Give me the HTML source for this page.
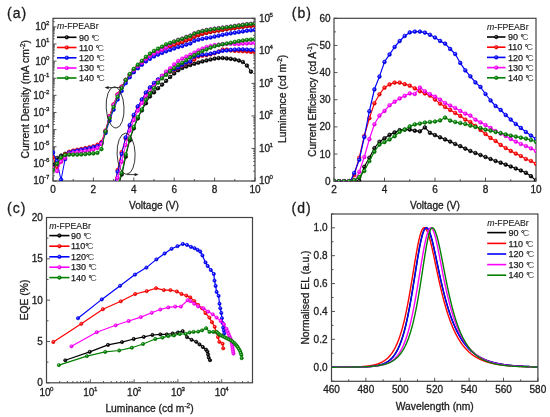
<!DOCTYPE html>
<html><head><meta charset="utf-8"><title>figure</title>
<style>html,body{margin:0;padding:0;background:#fff;} svg{display:block;filter:blur(0.3px);} text{font-family:"Liberation Sans", sans-serif; stroke:#222; stroke-width:0.3px;}</style>
</head><body>
<svg width="550" height="417" viewBox="0 0 550 417" font-family='"Liberation Sans", sans-serif' fill="#1a1a1a">
<defs><radialGradient id="l000000" cx="0.45" cy="0.42" r="0.6"><stop offset="0" stop-color="#ffffff"/><stop offset="0.35" stop-color="rgb(153,153,153)"/><stop offset="0.8" stop-color="#000000"/></radialGradient><radialGradient id="g000000" cx="0.4" cy="0.38" r="0.6"><stop offset="0" stop-color="rgb(153,153,153)"/><stop offset="0.55" stop-color="#000000"/><stop offset="1" stop-color="rgb(0,0,0)"/></radialGradient><radialGradient id="lff0000" cx="0.45" cy="0.42" r="0.6"><stop offset="0" stop-color="#ffffff"/><stop offset="0.35" stop-color="rgb(255,153,153)"/><stop offset="0.8" stop-color="#ff0000"/></radialGradient><radialGradient id="gff0000" cx="0.4" cy="0.38" r="0.6"><stop offset="0" stop-color="rgb(255,153,153)"/><stop offset="0.55" stop-color="#ff0000"/><stop offset="1" stop-color="rgb(140,0,0)"/></radialGradient><radialGradient id="l0000ff" cx="0.45" cy="0.42" r="0.6"><stop offset="0" stop-color="#ffffff"/><stop offset="0.35" stop-color="rgb(153,153,255)"/><stop offset="0.8" stop-color="#0000ff"/></radialGradient><radialGradient id="g0000ff" cx="0.4" cy="0.38" r="0.6"><stop offset="0" stop-color="rgb(153,153,255)"/><stop offset="0.55" stop-color="#0000ff"/><stop offset="1" stop-color="rgb(0,0,140)"/></radialGradient><radialGradient id="lff00ff" cx="0.45" cy="0.42" r="0.6"><stop offset="0" stop-color="#ffffff"/><stop offset="0.35" stop-color="rgb(255,153,255)"/><stop offset="0.8" stop-color="#ff00ff"/></radialGradient><radialGradient id="gff00ff" cx="0.4" cy="0.38" r="0.6"><stop offset="0" stop-color="rgb(255,153,255)"/><stop offset="0.55" stop-color="#ff00ff"/><stop offset="1" stop-color="rgb(140,0,140)"/></radialGradient><radialGradient id="l008000" cx="0.45" cy="0.42" r="0.6"><stop offset="0" stop-color="#ffffff"/><stop offset="0.35" stop-color="rgb(153,204,153)"/><stop offset="0.8" stop-color="#008000"/></radialGradient><radialGradient id="g008000" cx="0.4" cy="0.38" r="0.6"><stop offset="0" stop-color="rgb(153,204,153)"/><stop offset="0.55" stop-color="#008000"/><stop offset="1" stop-color="rgb(0,70,0)"/></radialGradient></defs>
<rect width="550" height="417" fill="#ffffff"/>
<text x="7.00" y="18.20" font-size="14" text-anchor="start" letter-spacing="1">(a)</text>
<clipPath id="ca"><rect x="53" y="18.3" width="202" height="162.7"/></clipPath>
<line x1="53.00" y1="181.00" x2="53.00" y2="177.50" stroke="#444444" stroke-width="0.9"/>
<text x="53.00" y="192.60" font-size="10" text-anchor="middle" >0</text>
<line x1="73.20" y1="181.00" x2="73.20" y2="179.00" stroke="#444444" stroke-width="0.9"/>
<line x1="93.40" y1="181.00" x2="93.40" y2="177.50" stroke="#444444" stroke-width="0.9"/>
<text x="93.40" y="192.60" font-size="10" text-anchor="middle" >2</text>
<line x1="113.60" y1="181.00" x2="113.60" y2="179.00" stroke="#444444" stroke-width="0.9"/>
<line x1="133.80" y1="181.00" x2="133.80" y2="177.50" stroke="#444444" stroke-width="0.9"/>
<text x="133.80" y="192.60" font-size="10" text-anchor="middle" >4</text>
<line x1="154.00" y1="181.00" x2="154.00" y2="179.00" stroke="#444444" stroke-width="0.9"/>
<line x1="174.20" y1="181.00" x2="174.20" y2="177.50" stroke="#444444" stroke-width="0.9"/>
<text x="174.20" y="192.60" font-size="10" text-anchor="middle" >6</text>
<line x1="194.40" y1="181.00" x2="194.40" y2="179.00" stroke="#444444" stroke-width="0.9"/>
<line x1="214.60" y1="181.00" x2="214.60" y2="177.50" stroke="#444444" stroke-width="0.9"/>
<text x="214.60" y="192.60" font-size="10" text-anchor="middle" >8</text>
<line x1="234.80" y1="181.00" x2="234.80" y2="179.00" stroke="#444444" stroke-width="0.9"/>
<line x1="255.00" y1="181.00" x2="255.00" y2="177.50" stroke="#444444" stroke-width="0.9"/>
<text x="255.00" y="192.60" font-size="10" text-anchor="middle" >10</text>
<line x1="53.00" y1="181.00" x2="56.50" y2="181.00" stroke="#444444" stroke-width="0.9"/>
<text x="33.26" y="184.40" font-size="10" text-anchor="start" >10</text>
<text x="43.88" y="179.40" font-size="6.1" text-anchor="start" >-7</text>
<line x1="53.00" y1="175.84" x2="54.80" y2="175.84" stroke="#444444" stroke-width="0.9"/>
<line x1="53.00" y1="172.83" x2="54.80" y2="172.83" stroke="#444444" stroke-width="0.9"/>
<line x1="53.00" y1="170.69" x2="54.80" y2="170.69" stroke="#444444" stroke-width="0.9"/>
<line x1="53.00" y1="169.03" x2="54.80" y2="169.03" stroke="#444444" stroke-width="0.9"/>
<line x1="53.00" y1="167.67" x2="54.80" y2="167.67" stroke="#444444" stroke-width="0.9"/>
<line x1="53.00" y1="166.53" x2="54.80" y2="166.53" stroke="#444444" stroke-width="0.9"/>
<line x1="53.00" y1="165.53" x2="54.80" y2="165.53" stroke="#444444" stroke-width="0.9"/>
<line x1="53.00" y1="164.66" x2="54.80" y2="164.66" stroke="#444444" stroke-width="0.9"/>
<line x1="53.00" y1="163.87" x2="56.50" y2="163.87" stroke="#444444" stroke-width="0.9"/>
<text x="33.26" y="167.27" font-size="10" text-anchor="start" >10</text>
<text x="43.88" y="162.27" font-size="6.1" text-anchor="start" >-6</text>
<line x1="53.00" y1="158.72" x2="54.80" y2="158.72" stroke="#444444" stroke-width="0.9"/>
<line x1="53.00" y1="155.70" x2="54.80" y2="155.70" stroke="#444444" stroke-width="0.9"/>
<line x1="53.00" y1="153.56" x2="54.80" y2="153.56" stroke="#444444" stroke-width="0.9"/>
<line x1="53.00" y1="151.90" x2="54.80" y2="151.90" stroke="#444444" stroke-width="0.9"/>
<line x1="53.00" y1="150.55" x2="54.80" y2="150.55" stroke="#444444" stroke-width="0.9"/>
<line x1="53.00" y1="149.40" x2="54.80" y2="149.40" stroke="#444444" stroke-width="0.9"/>
<line x1="53.00" y1="148.41" x2="54.80" y2="148.41" stroke="#444444" stroke-width="0.9"/>
<line x1="53.00" y1="147.53" x2="54.80" y2="147.53" stroke="#444444" stroke-width="0.9"/>
<line x1="53.00" y1="146.75" x2="56.50" y2="146.75" stroke="#444444" stroke-width="0.9"/>
<text x="33.26" y="150.15" font-size="10" text-anchor="start" >10</text>
<text x="43.88" y="145.15" font-size="6.1" text-anchor="start" >-5</text>
<line x1="53.00" y1="141.59" x2="54.80" y2="141.59" stroke="#444444" stroke-width="0.9"/>
<line x1="53.00" y1="138.58" x2="54.80" y2="138.58" stroke="#444444" stroke-width="0.9"/>
<line x1="53.00" y1="136.44" x2="54.80" y2="136.44" stroke="#444444" stroke-width="0.9"/>
<line x1="53.00" y1="134.78" x2="54.80" y2="134.78" stroke="#444444" stroke-width="0.9"/>
<line x1="53.00" y1="133.42" x2="54.80" y2="133.42" stroke="#444444" stroke-width="0.9"/>
<line x1="53.00" y1="132.27" x2="54.80" y2="132.27" stroke="#444444" stroke-width="0.9"/>
<line x1="53.00" y1="131.28" x2="54.80" y2="131.28" stroke="#444444" stroke-width="0.9"/>
<line x1="53.00" y1="130.40" x2="54.80" y2="130.40" stroke="#444444" stroke-width="0.9"/>
<line x1="53.00" y1="129.62" x2="56.50" y2="129.62" stroke="#444444" stroke-width="0.9"/>
<text x="33.26" y="133.02" font-size="10" text-anchor="start" >10</text>
<text x="43.88" y="128.02" font-size="6.1" text-anchor="start" >-4</text>
<line x1="53.00" y1="124.47" x2="54.80" y2="124.47" stroke="#444444" stroke-width="0.9"/>
<line x1="53.00" y1="121.45" x2="54.80" y2="121.45" stroke="#444444" stroke-width="0.9"/>
<line x1="53.00" y1="119.31" x2="54.80" y2="119.31" stroke="#444444" stroke-width="0.9"/>
<line x1="53.00" y1="117.65" x2="54.80" y2="117.65" stroke="#444444" stroke-width="0.9"/>
<line x1="53.00" y1="116.29" x2="54.80" y2="116.29" stroke="#444444" stroke-width="0.9"/>
<line x1="53.00" y1="115.15" x2="54.80" y2="115.15" stroke="#444444" stroke-width="0.9"/>
<line x1="53.00" y1="114.15" x2="54.80" y2="114.15" stroke="#444444" stroke-width="0.9"/>
<line x1="53.00" y1="113.28" x2="54.80" y2="113.28" stroke="#444444" stroke-width="0.9"/>
<line x1="53.00" y1="112.49" x2="56.50" y2="112.49" stroke="#444444" stroke-width="0.9"/>
<text x="33.26" y="115.89" font-size="10" text-anchor="start" >10</text>
<text x="43.88" y="110.89" font-size="6.1" text-anchor="start" >-3</text>
<line x1="53.00" y1="107.34" x2="54.80" y2="107.34" stroke="#444444" stroke-width="0.9"/>
<line x1="53.00" y1="104.32" x2="54.80" y2="104.32" stroke="#444444" stroke-width="0.9"/>
<line x1="53.00" y1="102.18" x2="54.80" y2="102.18" stroke="#444444" stroke-width="0.9"/>
<line x1="53.00" y1="100.52" x2="54.80" y2="100.52" stroke="#444444" stroke-width="0.9"/>
<line x1="53.00" y1="99.17" x2="54.80" y2="99.17" stroke="#444444" stroke-width="0.9"/>
<line x1="53.00" y1="98.02" x2="54.80" y2="98.02" stroke="#444444" stroke-width="0.9"/>
<line x1="53.00" y1="97.03" x2="54.80" y2="97.03" stroke="#444444" stroke-width="0.9"/>
<line x1="53.00" y1="96.15" x2="54.80" y2="96.15" stroke="#444444" stroke-width="0.9"/>
<line x1="53.00" y1="95.37" x2="56.50" y2="95.37" stroke="#444444" stroke-width="0.9"/>
<text x="33.26" y="98.77" font-size="10" text-anchor="start" >10</text>
<text x="43.88" y="93.77" font-size="6.1" text-anchor="start" >-2</text>
<line x1="53.00" y1="90.21" x2="54.80" y2="90.21" stroke="#444444" stroke-width="0.9"/>
<line x1="53.00" y1="87.20" x2="54.80" y2="87.20" stroke="#444444" stroke-width="0.9"/>
<line x1="53.00" y1="85.06" x2="54.80" y2="85.06" stroke="#444444" stroke-width="0.9"/>
<line x1="53.00" y1="83.40" x2="54.80" y2="83.40" stroke="#444444" stroke-width="0.9"/>
<line x1="53.00" y1="82.04" x2="54.80" y2="82.04" stroke="#444444" stroke-width="0.9"/>
<line x1="53.00" y1="80.90" x2="54.80" y2="80.90" stroke="#444444" stroke-width="0.9"/>
<line x1="53.00" y1="79.90" x2="54.80" y2="79.90" stroke="#444444" stroke-width="0.9"/>
<line x1="53.00" y1="79.03" x2="54.80" y2="79.03" stroke="#444444" stroke-width="0.9"/>
<line x1="53.00" y1="78.24" x2="56.50" y2="78.24" stroke="#444444" stroke-width="0.9"/>
<text x="33.26" y="81.64" font-size="10" text-anchor="start" >10</text>
<text x="43.88" y="76.64" font-size="6.1" text-anchor="start" >-1</text>
<line x1="53.00" y1="73.09" x2="54.80" y2="73.09" stroke="#444444" stroke-width="0.9"/>
<line x1="53.00" y1="70.07" x2="54.80" y2="70.07" stroke="#444444" stroke-width="0.9"/>
<line x1="53.00" y1="67.93" x2="54.80" y2="67.93" stroke="#444444" stroke-width="0.9"/>
<line x1="53.00" y1="66.27" x2="54.80" y2="66.27" stroke="#444444" stroke-width="0.9"/>
<line x1="53.00" y1="64.92" x2="54.80" y2="64.92" stroke="#444444" stroke-width="0.9"/>
<line x1="53.00" y1="63.77" x2="54.80" y2="63.77" stroke="#444444" stroke-width="0.9"/>
<line x1="53.00" y1="62.78" x2="54.80" y2="62.78" stroke="#444444" stroke-width="0.9"/>
<line x1="53.00" y1="61.90" x2="54.80" y2="61.90" stroke="#444444" stroke-width="0.9"/>
<line x1="53.00" y1="61.12" x2="56.50" y2="61.12" stroke="#444444" stroke-width="0.9"/>
<text x="35.29" y="64.52" font-size="10" text-anchor="start" >10</text>
<text x="45.91" y="59.52" font-size="6.1" text-anchor="start" >0</text>
<line x1="53.00" y1="55.96" x2="54.80" y2="55.96" stroke="#444444" stroke-width="0.9"/>
<line x1="53.00" y1="52.94" x2="54.80" y2="52.94" stroke="#444444" stroke-width="0.9"/>
<line x1="53.00" y1="50.80" x2="54.80" y2="50.80" stroke="#444444" stroke-width="0.9"/>
<line x1="53.00" y1="49.15" x2="54.80" y2="49.15" stroke="#444444" stroke-width="0.9"/>
<line x1="53.00" y1="47.79" x2="54.80" y2="47.79" stroke="#444444" stroke-width="0.9"/>
<line x1="53.00" y1="46.64" x2="54.80" y2="46.64" stroke="#444444" stroke-width="0.9"/>
<line x1="53.00" y1="45.65" x2="54.80" y2="45.65" stroke="#444444" stroke-width="0.9"/>
<line x1="53.00" y1="44.77" x2="54.80" y2="44.77" stroke="#444444" stroke-width="0.9"/>
<line x1="53.00" y1="43.99" x2="56.50" y2="43.99" stroke="#444444" stroke-width="0.9"/>
<text x="35.29" y="47.39" font-size="10" text-anchor="start" >10</text>
<text x="45.91" y="42.39" font-size="6.1" text-anchor="start" >1</text>
<line x1="53.00" y1="38.83" x2="54.80" y2="38.83" stroke="#444444" stroke-width="0.9"/>
<line x1="53.00" y1="35.82" x2="54.80" y2="35.82" stroke="#444444" stroke-width="0.9"/>
<line x1="53.00" y1="33.68" x2="54.80" y2="33.68" stroke="#444444" stroke-width="0.9"/>
<line x1="53.00" y1="32.02" x2="54.80" y2="32.02" stroke="#444444" stroke-width="0.9"/>
<line x1="53.00" y1="30.66" x2="54.80" y2="30.66" stroke="#444444" stroke-width="0.9"/>
<line x1="53.00" y1="29.52" x2="54.80" y2="29.52" stroke="#444444" stroke-width="0.9"/>
<line x1="53.00" y1="28.52" x2="54.80" y2="28.52" stroke="#444444" stroke-width="0.9"/>
<line x1="53.00" y1="27.65" x2="54.80" y2="27.65" stroke="#444444" stroke-width="0.9"/>
<line x1="53.00" y1="26.86" x2="56.50" y2="26.86" stroke="#444444" stroke-width="0.9"/>
<text x="35.29" y="30.26" font-size="10" text-anchor="start" >10</text>
<text x="45.91" y="25.26" font-size="6.1" text-anchor="start" >2</text>
<line x1="53.00" y1="21.71" x2="54.80" y2="21.71" stroke="#444444" stroke-width="0.9"/>
<line x1="53.00" y1="18.69" x2="54.80" y2="18.69" stroke="#444444" stroke-width="0.9"/>
<line x1="255.00" y1="181.00" x2="251.50" y2="181.00" stroke="#444444" stroke-width="0.9"/>
<text x="259.00" y="184.40" font-size="10" text-anchor="start" >10</text>
<text x="269.62" y="179.40" font-size="6.1" text-anchor="start" >0</text>
<line x1="255.00" y1="171.20" x2="253.20" y2="171.20" stroke="#444444" stroke-width="0.9"/>
<line x1="255.00" y1="165.47" x2="253.20" y2="165.47" stroke="#444444" stroke-width="0.9"/>
<line x1="255.00" y1="161.41" x2="253.20" y2="161.41" stroke="#444444" stroke-width="0.9"/>
<line x1="255.00" y1="158.26" x2="253.20" y2="158.26" stroke="#444444" stroke-width="0.9"/>
<line x1="255.00" y1="155.68" x2="253.20" y2="155.68" stroke="#444444" stroke-width="0.9"/>
<line x1="255.00" y1="153.50" x2="253.20" y2="153.50" stroke="#444444" stroke-width="0.9"/>
<line x1="255.00" y1="151.61" x2="253.20" y2="151.61" stroke="#444444" stroke-width="0.9"/>
<line x1="255.00" y1="149.95" x2="253.20" y2="149.95" stroke="#444444" stroke-width="0.9"/>
<line x1="255.00" y1="148.46" x2="251.50" y2="148.46" stroke="#444444" stroke-width="0.9"/>
<text x="259.00" y="151.86" font-size="10" text-anchor="start" >10</text>
<text x="269.62" y="146.86" font-size="6.1" text-anchor="start" >1</text>
<line x1="255.00" y1="138.66" x2="253.20" y2="138.66" stroke="#444444" stroke-width="0.9"/>
<line x1="255.00" y1="132.93" x2="253.20" y2="132.93" stroke="#444444" stroke-width="0.9"/>
<line x1="255.00" y1="128.87" x2="253.20" y2="128.87" stroke="#444444" stroke-width="0.9"/>
<line x1="255.00" y1="125.72" x2="253.20" y2="125.72" stroke="#444444" stroke-width="0.9"/>
<line x1="255.00" y1="123.14" x2="253.20" y2="123.14" stroke="#444444" stroke-width="0.9"/>
<line x1="255.00" y1="120.96" x2="253.20" y2="120.96" stroke="#444444" stroke-width="0.9"/>
<line x1="255.00" y1="119.07" x2="253.20" y2="119.07" stroke="#444444" stroke-width="0.9"/>
<line x1="255.00" y1="117.41" x2="253.20" y2="117.41" stroke="#444444" stroke-width="0.9"/>
<line x1="255.00" y1="115.92" x2="251.50" y2="115.92" stroke="#444444" stroke-width="0.9"/>
<text x="259.00" y="119.32" font-size="10" text-anchor="start" >10</text>
<text x="269.62" y="114.32" font-size="6.1" text-anchor="start" >2</text>
<line x1="255.00" y1="106.12" x2="253.20" y2="106.12" stroke="#444444" stroke-width="0.9"/>
<line x1="255.00" y1="100.39" x2="253.20" y2="100.39" stroke="#444444" stroke-width="0.9"/>
<line x1="255.00" y1="96.33" x2="253.20" y2="96.33" stroke="#444444" stroke-width="0.9"/>
<line x1="255.00" y1="93.18" x2="253.20" y2="93.18" stroke="#444444" stroke-width="0.9"/>
<line x1="255.00" y1="90.60" x2="253.20" y2="90.60" stroke="#444444" stroke-width="0.9"/>
<line x1="255.00" y1="88.42" x2="253.20" y2="88.42" stroke="#444444" stroke-width="0.9"/>
<line x1="255.00" y1="86.53" x2="253.20" y2="86.53" stroke="#444444" stroke-width="0.9"/>
<line x1="255.00" y1="84.87" x2="253.20" y2="84.87" stroke="#444444" stroke-width="0.9"/>
<line x1="255.00" y1="83.38" x2="251.50" y2="83.38" stroke="#444444" stroke-width="0.9"/>
<text x="259.00" y="86.78" font-size="10" text-anchor="start" >10</text>
<text x="269.62" y="81.78" font-size="6.1" text-anchor="start" >3</text>
<line x1="255.00" y1="73.58" x2="253.20" y2="73.58" stroke="#444444" stroke-width="0.9"/>
<line x1="255.00" y1="67.85" x2="253.20" y2="67.85" stroke="#444444" stroke-width="0.9"/>
<line x1="255.00" y1="63.79" x2="253.20" y2="63.79" stroke="#444444" stroke-width="0.9"/>
<line x1="255.00" y1="60.64" x2="253.20" y2="60.64" stroke="#444444" stroke-width="0.9"/>
<line x1="255.00" y1="58.06" x2="253.20" y2="58.06" stroke="#444444" stroke-width="0.9"/>
<line x1="255.00" y1="55.88" x2="253.20" y2="55.88" stroke="#444444" stroke-width="0.9"/>
<line x1="255.00" y1="53.99" x2="253.20" y2="53.99" stroke="#444444" stroke-width="0.9"/>
<line x1="255.00" y1="52.33" x2="253.20" y2="52.33" stroke="#444444" stroke-width="0.9"/>
<line x1="255.00" y1="50.84" x2="251.50" y2="50.84" stroke="#444444" stroke-width="0.9"/>
<text x="259.00" y="54.24" font-size="10" text-anchor="start" >10</text>
<text x="269.62" y="49.24" font-size="6.1" text-anchor="start" >4</text>
<line x1="255.00" y1="41.04" x2="253.20" y2="41.04" stroke="#444444" stroke-width="0.9"/>
<line x1="255.00" y1="35.31" x2="253.20" y2="35.31" stroke="#444444" stroke-width="0.9"/>
<line x1="255.00" y1="31.25" x2="253.20" y2="31.25" stroke="#444444" stroke-width="0.9"/>
<line x1="255.00" y1="28.10" x2="253.20" y2="28.10" stroke="#444444" stroke-width="0.9"/>
<line x1="255.00" y1="25.52" x2="253.20" y2="25.52" stroke="#444444" stroke-width="0.9"/>
<line x1="255.00" y1="23.34" x2="253.20" y2="23.34" stroke="#444444" stroke-width="0.9"/>
<line x1="255.00" y1="21.45" x2="253.20" y2="21.45" stroke="#444444" stroke-width="0.9"/>
<line x1="255.00" y1="19.79" x2="253.20" y2="19.79" stroke="#444444" stroke-width="0.9"/>
<line x1="255.00" y1="18.30" x2="251.50" y2="18.30" stroke="#444444" stroke-width="0.9"/>
<text x="259.00" y="21.70" font-size="10" text-anchor="start" >10</text>
<text x="269.62" y="16.70" font-size="6.1" text-anchor="start" >5</text>
<rect x="53" y="18.3" width="202" height="162.7" fill="none" stroke="#444444" stroke-width="1.2"/>
<text x="154.00" y="209.00" font-size="10.1" text-anchor="middle" >Voltage (V)</text>
<text transform="translate(28.8,99.3) rotate(-90)" font-size="10.3" text-anchor="middle">Current Density (mA cm<tspan font-size="6.5" dy="-4">-2</tspan><tspan dy="4">)</tspan></text>
<text transform="translate(285.6,98.8) rotate(-90)" font-size="10.3" text-anchor="middle">Luminance (cd m<tspan font-size="6.5" dy="-4">-2</tspan><tspan dy="4">)</tspan></text>
<g clip-path="url(#ca)">
<polyline points="53.00,165.00 57.00,158.00 61.00,155.60 65.10,153.80 69.10,152.40 73.10,151.20 77.20,150.30 81.20,149.80 85.20,149.00 89.30,148.20 93.30,147.40 97.30,146.00 101.30,143.20 105.50,131.50 109.50,116.50 113.50,104.90 117.60,94.60 121.60,86.90 125.60,80.10 129.70,74.93 133.80,70.12 137.80,66.36 141.90,62.78 145.90,58.94 150.00,55.80 154.00,53.44 158.00,51.48 162.10,49.61 166.10,47.50 170.20,46.30 174.20,44.86 178.20,43.32 182.30,42.08 186.30,40.34 190.40,38.98 194.40,36.62 198.40,35.06 202.50,33.70 206.50,32.72 210.60,31.86 214.60,31.12 218.60,30.48 222.70,29.74 226.70,29.12 230.80,28.40 234.80,27.82 238.80,27.24 242.90,26.65 246.90,26.07 251.00,25.78 255.00,25.40" fill="none" stroke="#000000" stroke-width="1.0" stroke-linejoin="round"/>
<circle cx="53.00" cy="165.00" r="1.85" fill="url(#g000000)" stroke="#000000" stroke-width="0.6"/>
<circle cx="57.04" cy="157.98" r="1.85" fill="url(#g000000)" stroke="#000000" stroke-width="0.6"/>
<circle cx="61.08" cy="155.56" r="1.85" fill="url(#g000000)" stroke="#000000" stroke-width="0.6"/>
<circle cx="65.12" cy="153.79" r="1.85" fill="url(#g000000)" stroke="#000000" stroke-width="0.6"/>
<circle cx="69.16" cy="152.38" r="1.85" fill="url(#g000000)" stroke="#000000" stroke-width="0.6"/>
<circle cx="73.20" cy="151.18" r="1.85" fill="url(#g000000)" stroke="#000000" stroke-width="0.6"/>
<circle cx="77.24" cy="150.30" r="1.85" fill="url(#g000000)" stroke="#000000" stroke-width="0.6"/>
<circle cx="81.28" cy="149.78" r="1.85" fill="url(#g000000)" stroke="#000000" stroke-width="0.6"/>
<circle cx="85.32" cy="148.98" r="1.85" fill="url(#g000000)" stroke="#000000" stroke-width="0.6"/>
<circle cx="89.36" cy="148.19" r="1.85" fill="url(#g000000)" stroke="#000000" stroke-width="0.6"/>
<circle cx="93.40" cy="147.37" r="1.85" fill="url(#g000000)" stroke="#000000" stroke-width="0.6"/>
<circle cx="97.44" cy="145.90" r="1.85" fill="url(#g000000)" stroke="#000000" stroke-width="0.6"/>
<circle cx="101.48" cy="142.70" r="1.85" fill="url(#g000000)" stroke="#000000" stroke-width="0.6"/>
<circle cx="105.52" cy="131.42" r="1.85" fill="url(#g000000)" stroke="#000000" stroke-width="0.6"/>
<circle cx="109.56" cy="116.33" r="1.85" fill="url(#g000000)" stroke="#000000" stroke-width="0.6"/>
<circle cx="113.60" cy="104.65" r="1.85" fill="url(#g000000)" stroke="#000000" stroke-width="0.6"/>
<circle cx="117.64" cy="94.52" r="1.85" fill="url(#g000000)" stroke="#000000" stroke-width="0.6"/>
<circle cx="121.68" cy="86.76" r="1.85" fill="url(#g000000)" stroke="#000000" stroke-width="0.6"/>
<circle cx="125.72" cy="79.95" r="1.85" fill="url(#g000000)" stroke="#000000" stroke-width="0.6"/>
<circle cx="129.76" cy="74.86" r="1.85" fill="url(#g000000)" stroke="#000000" stroke-width="0.6"/>
<circle cx="133.80" cy="70.12" r="1.85" fill="url(#g000000)" stroke="#000000" stroke-width="0.6"/>
<circle cx="137.84" cy="66.32" r="1.85" fill="url(#g000000)" stroke="#000000" stroke-width="0.6"/>
<circle cx="141.88" cy="62.79" r="1.85" fill="url(#g000000)" stroke="#000000" stroke-width="0.6"/>
<circle cx="145.92" cy="58.92" r="1.85" fill="url(#g000000)" stroke="#000000" stroke-width="0.6"/>
<circle cx="149.96" cy="55.83" r="1.85" fill="url(#g000000)" stroke="#000000" stroke-width="0.6"/>
<circle cx="154.00" cy="53.44" r="1.85" fill="url(#g000000)" stroke="#000000" stroke-width="0.6"/>
<circle cx="158.04" cy="51.46" r="1.85" fill="url(#g000000)" stroke="#000000" stroke-width="0.6"/>
<circle cx="162.08" cy="49.61" r="1.85" fill="url(#g000000)" stroke="#000000" stroke-width="0.6"/>
<circle cx="166.12" cy="47.50" r="1.85" fill="url(#g000000)" stroke="#000000" stroke-width="0.6"/>
<circle cx="170.16" cy="46.31" r="1.85" fill="url(#g000000)" stroke="#000000" stroke-width="0.6"/>
<circle cx="174.20" cy="44.86" r="1.85" fill="url(#g000000)" stroke="#000000" stroke-width="0.6"/>
<circle cx="178.24" cy="43.31" r="1.85" fill="url(#g000000)" stroke="#000000" stroke-width="0.6"/>
<circle cx="182.28" cy="42.08" r="1.85" fill="url(#g000000)" stroke="#000000" stroke-width="0.6"/>
<circle cx="186.32" cy="40.33" r="1.85" fill="url(#g000000)" stroke="#000000" stroke-width="0.6"/>
<circle cx="190.36" cy="39.00" r="1.85" fill="url(#g000000)" stroke="#000000" stroke-width="0.6"/>
<circle cx="194.40" cy="36.62" r="1.85" fill="url(#g000000)" stroke="#000000" stroke-width="0.6"/>
<circle cx="198.44" cy="35.05" r="1.85" fill="url(#g000000)" stroke="#000000" stroke-width="0.6"/>
<circle cx="202.48" cy="33.71" r="1.85" fill="url(#g000000)" stroke="#000000" stroke-width="0.6"/>
<circle cx="206.52" cy="32.71" r="1.85" fill="url(#g000000)" stroke="#000000" stroke-width="0.6"/>
<circle cx="210.56" cy="31.87" r="1.85" fill="url(#g000000)" stroke="#000000" stroke-width="0.6"/>
<circle cx="214.60" cy="31.12" r="1.85" fill="url(#g000000)" stroke="#000000" stroke-width="0.6"/>
<circle cx="218.64" cy="30.47" r="1.85" fill="url(#g000000)" stroke="#000000" stroke-width="0.6"/>
<circle cx="222.68" cy="29.74" r="1.85" fill="url(#g000000)" stroke="#000000" stroke-width="0.6"/>
<circle cx="226.72" cy="29.11" r="1.85" fill="url(#g000000)" stroke="#000000" stroke-width="0.6"/>
<circle cx="230.76" cy="28.41" r="1.85" fill="url(#g000000)" stroke="#000000" stroke-width="0.6"/>
<circle cx="234.80" cy="27.82" r="1.85" fill="url(#g000000)" stroke="#000000" stroke-width="0.6"/>
<circle cx="238.84" cy="27.23" r="1.85" fill="url(#g000000)" stroke="#000000" stroke-width="0.6"/>
<circle cx="242.88" cy="26.65" r="1.85" fill="url(#g000000)" stroke="#000000" stroke-width="0.6"/>
<circle cx="246.92" cy="26.07" r="1.85" fill="url(#g000000)" stroke="#000000" stroke-width="0.6"/>
<circle cx="250.96" cy="25.79" r="1.85" fill="url(#g000000)" stroke="#000000" stroke-width="0.6"/>
<circle cx="255.00" cy="25.40" r="1.85" fill="url(#g000000)" stroke="#000000" stroke-width="0.6"/>
</g>
<g clip-path="url(#ca)">
<polyline points="53.00,157.00 57.00,167.00 61.00,161.70 65.10,154.50 69.10,151.80 73.10,150.60 77.20,149.80 81.20,149.00 85.20,148.20 89.30,147.30 93.30,146.30 97.30,144.80 101.30,142.50 105.50,130.57 109.50,116.50 113.50,104.90 117.60,94.60 121.60,86.90 125.60,80.10 129.70,74.93 133.80,70.12 137.80,66.36 141.90,62.78 145.90,58.94 150.00,55.80 154.00,53.44 158.00,51.48 162.10,49.61 166.10,47.50 170.20,46.30 174.20,44.86 178.20,43.32 182.30,42.08 186.30,40.34 190.40,38.98 194.40,36.62 198.40,35.06 202.50,33.70 206.50,32.72 210.60,31.86 214.60,31.12 218.60,30.48 222.70,29.74 226.70,29.12 230.80,28.40 234.80,27.82 238.80,27.24 242.90,26.65 246.90,26.07 251.00,25.78 255.00,25.40" fill="none" stroke="#ff0000" stroke-width="1.0" stroke-linejoin="round"/>
<circle cx="53.00" cy="157.00" r="1.85" fill="url(#gff0000)" stroke="#ff0000" stroke-width="0.6"/>
<circle cx="57.04" cy="166.95" r="1.85" fill="url(#gff0000)" stroke="#ff0000" stroke-width="0.6"/>
<circle cx="61.08" cy="161.56" r="1.85" fill="url(#gff0000)" stroke="#ff0000" stroke-width="0.6"/>
<circle cx="65.12" cy="154.49" r="1.85" fill="url(#gff0000)" stroke="#ff0000" stroke-width="0.6"/>
<circle cx="69.16" cy="151.78" r="1.85" fill="url(#gff0000)" stroke="#ff0000" stroke-width="0.6"/>
<circle cx="73.20" cy="150.58" r="1.85" fill="url(#gff0000)" stroke="#ff0000" stroke-width="0.6"/>
<circle cx="77.24" cy="149.79" r="1.85" fill="url(#gff0000)" stroke="#ff0000" stroke-width="0.6"/>
<circle cx="81.28" cy="148.98" r="1.85" fill="url(#gff0000)" stroke="#ff0000" stroke-width="0.6"/>
<circle cx="85.32" cy="148.17" r="1.85" fill="url(#gff0000)" stroke="#ff0000" stroke-width="0.6"/>
<circle cx="89.36" cy="147.29" r="1.85" fill="url(#gff0000)" stroke="#ff0000" stroke-width="0.6"/>
<circle cx="93.40" cy="146.26" r="1.85" fill="url(#gff0000)" stroke="#ff0000" stroke-width="0.6"/>
<circle cx="97.44" cy="144.72" r="1.85" fill="url(#gff0000)" stroke="#ff0000" stroke-width="0.6"/>
<circle cx="101.48" cy="141.99" r="1.85" fill="url(#gff0000)" stroke="#ff0000" stroke-width="0.6"/>
<circle cx="105.52" cy="130.50" r="1.85" fill="url(#gff0000)" stroke="#ff0000" stroke-width="0.6"/>
<circle cx="109.56" cy="116.33" r="1.85" fill="url(#gff0000)" stroke="#ff0000" stroke-width="0.6"/>
<circle cx="113.60" cy="104.65" r="1.85" fill="url(#gff0000)" stroke="#ff0000" stroke-width="0.6"/>
<circle cx="117.64" cy="94.52" r="1.85" fill="url(#gff0000)" stroke="#ff0000" stroke-width="0.6"/>
<circle cx="121.68" cy="86.76" r="1.85" fill="url(#gff0000)" stroke="#ff0000" stroke-width="0.6"/>
<circle cx="125.72" cy="79.95" r="1.85" fill="url(#gff0000)" stroke="#ff0000" stroke-width="0.6"/>
<circle cx="129.76" cy="74.86" r="1.85" fill="url(#gff0000)" stroke="#ff0000" stroke-width="0.6"/>
<circle cx="133.80" cy="70.12" r="1.85" fill="url(#gff0000)" stroke="#ff0000" stroke-width="0.6"/>
<circle cx="137.84" cy="66.32" r="1.85" fill="url(#gff0000)" stroke="#ff0000" stroke-width="0.6"/>
<circle cx="141.88" cy="62.79" r="1.85" fill="url(#gff0000)" stroke="#ff0000" stroke-width="0.6"/>
<circle cx="145.92" cy="58.92" r="1.85" fill="url(#gff0000)" stroke="#ff0000" stroke-width="0.6"/>
<circle cx="149.96" cy="55.83" r="1.85" fill="url(#gff0000)" stroke="#ff0000" stroke-width="0.6"/>
<circle cx="154.00" cy="53.44" r="1.85" fill="url(#gff0000)" stroke="#ff0000" stroke-width="0.6"/>
<circle cx="158.04" cy="51.46" r="1.85" fill="url(#gff0000)" stroke="#ff0000" stroke-width="0.6"/>
<circle cx="162.08" cy="49.61" r="1.85" fill="url(#gff0000)" stroke="#ff0000" stroke-width="0.6"/>
<circle cx="166.12" cy="47.50" r="1.85" fill="url(#gff0000)" stroke="#ff0000" stroke-width="0.6"/>
<circle cx="170.16" cy="46.31" r="1.85" fill="url(#gff0000)" stroke="#ff0000" stroke-width="0.6"/>
<circle cx="174.20" cy="44.86" r="1.85" fill="url(#gff0000)" stroke="#ff0000" stroke-width="0.6"/>
<circle cx="178.24" cy="43.31" r="1.85" fill="url(#gff0000)" stroke="#ff0000" stroke-width="0.6"/>
<circle cx="182.28" cy="42.08" r="1.85" fill="url(#gff0000)" stroke="#ff0000" stroke-width="0.6"/>
<circle cx="186.32" cy="40.33" r="1.85" fill="url(#gff0000)" stroke="#ff0000" stroke-width="0.6"/>
<circle cx="190.36" cy="39.00" r="1.85" fill="url(#gff0000)" stroke="#ff0000" stroke-width="0.6"/>
<circle cx="194.40" cy="36.62" r="1.85" fill="url(#gff0000)" stroke="#ff0000" stroke-width="0.6"/>
<circle cx="198.44" cy="35.05" r="1.85" fill="url(#gff0000)" stroke="#ff0000" stroke-width="0.6"/>
<circle cx="202.48" cy="33.71" r="1.85" fill="url(#gff0000)" stroke="#ff0000" stroke-width="0.6"/>
<circle cx="206.52" cy="32.71" r="1.85" fill="url(#gff0000)" stroke="#ff0000" stroke-width="0.6"/>
<circle cx="210.56" cy="31.87" r="1.85" fill="url(#gff0000)" stroke="#ff0000" stroke-width="0.6"/>
<circle cx="214.60" cy="31.12" r="1.85" fill="url(#gff0000)" stroke="#ff0000" stroke-width="0.6"/>
<circle cx="218.64" cy="30.47" r="1.85" fill="url(#gff0000)" stroke="#ff0000" stroke-width="0.6"/>
<circle cx="222.68" cy="29.74" r="1.85" fill="url(#gff0000)" stroke="#ff0000" stroke-width="0.6"/>
<circle cx="226.72" cy="29.11" r="1.85" fill="url(#gff0000)" stroke="#ff0000" stroke-width="0.6"/>
<circle cx="230.76" cy="28.41" r="1.85" fill="url(#gff0000)" stroke="#ff0000" stroke-width="0.6"/>
<circle cx="234.80" cy="27.82" r="1.85" fill="url(#gff0000)" stroke="#ff0000" stroke-width="0.6"/>
<circle cx="238.84" cy="27.23" r="1.85" fill="url(#gff0000)" stroke="#ff0000" stroke-width="0.6"/>
<circle cx="242.88" cy="26.65" r="1.85" fill="url(#gff0000)" stroke="#ff0000" stroke-width="0.6"/>
<circle cx="246.92" cy="26.07" r="1.85" fill="url(#gff0000)" stroke="#ff0000" stroke-width="0.6"/>
<circle cx="250.96" cy="25.79" r="1.85" fill="url(#gff0000)" stroke="#ff0000" stroke-width="0.6"/>
<circle cx="255.00" cy="25.40" r="1.85" fill="url(#gff0000)" stroke="#ff0000" stroke-width="0.6"/>
</g>
<g clip-path="url(#ca)">
<polyline points="53.00,152.60 57.00,161.00 61.00,180.00 65.10,159.10 69.10,152.60 73.10,151.40 77.20,150.60 81.20,149.80 85.20,149.00 89.30,148.20 93.30,147.20 97.30,146.20 101.30,143.50 105.50,133.09 109.50,120.80 113.50,109.90 117.60,99.60 121.60,91.10 125.60,83.30 129.70,77.30 133.80,72.20 137.80,68.30 141.90,64.70 145.90,61.39 150.00,58.80 154.00,56.40 158.00,54.60 162.10,52.90 166.10,51.30 170.20,49.90 174.20,48.50 178.20,47.00 182.30,46.05 186.30,44.60 190.40,43.40 194.40,40.80 198.40,39.70 202.50,38.80 206.50,38.07 210.60,37.48 214.60,36.53 218.60,35.68 222.70,34.78 226.70,34.00 230.80,33.35 234.80,32.70 238.80,32.05 242.90,31.40 246.90,30.70 251.00,30.30 255.00,29.80" fill="none" stroke="#0000ff" stroke-width="1.0" stroke-linejoin="round"/>
<circle cx="53.00" cy="152.60" r="1.85" fill="url(#g0000ff)" stroke="#0000ff" stroke-width="0.6"/>
<circle cx="57.04" cy="161.19" r="1.85" fill="url(#g0000ff)" stroke="#0000ff" stroke-width="0.6"/>
<circle cx="61.08" cy="179.59" r="1.85" fill="url(#g0000ff)" stroke="#0000ff" stroke-width="0.6"/>
<circle cx="65.12" cy="159.07" r="1.85" fill="url(#g0000ff)" stroke="#0000ff" stroke-width="0.6"/>
<circle cx="69.16" cy="152.58" r="1.85" fill="url(#g0000ff)" stroke="#0000ff" stroke-width="0.6"/>
<circle cx="73.20" cy="151.38" r="1.85" fill="url(#g0000ff)" stroke="#0000ff" stroke-width="0.6"/>
<circle cx="77.24" cy="150.59" r="1.85" fill="url(#g0000ff)" stroke="#0000ff" stroke-width="0.6"/>
<circle cx="81.28" cy="149.78" r="1.85" fill="url(#g0000ff)" stroke="#0000ff" stroke-width="0.6"/>
<circle cx="85.32" cy="148.98" r="1.85" fill="url(#g0000ff)" stroke="#0000ff" stroke-width="0.6"/>
<circle cx="89.36" cy="148.19" r="1.85" fill="url(#g0000ff)" stroke="#0000ff" stroke-width="0.6"/>
<circle cx="93.40" cy="147.17" r="1.85" fill="url(#g0000ff)" stroke="#0000ff" stroke-width="0.6"/>
<circle cx="97.44" cy="146.11" r="1.85" fill="url(#g0000ff)" stroke="#0000ff" stroke-width="0.6"/>
<circle cx="101.48" cy="143.05" r="1.85" fill="url(#g0000ff)" stroke="#0000ff" stroke-width="0.6"/>
<circle cx="105.52" cy="133.03" r="1.85" fill="url(#g0000ff)" stroke="#0000ff" stroke-width="0.6"/>
<circle cx="109.56" cy="120.64" r="1.85" fill="url(#g0000ff)" stroke="#0000ff" stroke-width="0.6"/>
<circle cx="113.60" cy="109.65" r="1.85" fill="url(#g0000ff)" stroke="#0000ff" stroke-width="0.6"/>
<circle cx="117.64" cy="99.51" r="1.85" fill="url(#g0000ff)" stroke="#0000ff" stroke-width="0.6"/>
<circle cx="121.68" cy="90.94" r="1.85" fill="url(#g0000ff)" stroke="#0000ff" stroke-width="0.6"/>
<circle cx="125.72" cy="83.12" r="1.85" fill="url(#g0000ff)" stroke="#0000ff" stroke-width="0.6"/>
<circle cx="129.76" cy="77.23" r="1.85" fill="url(#g0000ff)" stroke="#0000ff" stroke-width="0.6"/>
<circle cx="133.80" cy="72.20" r="1.85" fill="url(#g0000ff)" stroke="#0000ff" stroke-width="0.6"/>
<circle cx="137.84" cy="68.26" r="1.85" fill="url(#g0000ff)" stroke="#0000ff" stroke-width="0.6"/>
<circle cx="141.88" cy="64.72" r="1.85" fill="url(#g0000ff)" stroke="#0000ff" stroke-width="0.6"/>
<circle cx="145.92" cy="61.38" r="1.85" fill="url(#g0000ff)" stroke="#0000ff" stroke-width="0.6"/>
<circle cx="149.96" cy="58.83" r="1.85" fill="url(#g0000ff)" stroke="#0000ff" stroke-width="0.6"/>
<circle cx="154.00" cy="56.40" r="1.85" fill="url(#g0000ff)" stroke="#0000ff" stroke-width="0.6"/>
<circle cx="158.04" cy="54.58" r="1.85" fill="url(#g0000ff)" stroke="#0000ff" stroke-width="0.6"/>
<circle cx="162.08" cy="52.91" r="1.85" fill="url(#g0000ff)" stroke="#0000ff" stroke-width="0.6"/>
<circle cx="166.12" cy="51.29" r="1.85" fill="url(#g0000ff)" stroke="#0000ff" stroke-width="0.6"/>
<circle cx="170.16" cy="49.91" r="1.85" fill="url(#g0000ff)" stroke="#0000ff" stroke-width="0.6"/>
<circle cx="174.20" cy="48.50" r="1.85" fill="url(#g0000ff)" stroke="#0000ff" stroke-width="0.6"/>
<circle cx="178.24" cy="46.99" r="1.85" fill="url(#g0000ff)" stroke="#0000ff" stroke-width="0.6"/>
<circle cx="182.28" cy="46.06" r="1.85" fill="url(#g0000ff)" stroke="#0000ff" stroke-width="0.6"/>
<circle cx="186.32" cy="44.59" r="1.85" fill="url(#g0000ff)" stroke="#0000ff" stroke-width="0.6"/>
<circle cx="190.36" cy="43.41" r="1.85" fill="url(#g0000ff)" stroke="#0000ff" stroke-width="0.6"/>
<circle cx="194.40" cy="40.80" r="1.85" fill="url(#g0000ff)" stroke="#0000ff" stroke-width="0.6"/>
<circle cx="198.44" cy="39.69" r="1.85" fill="url(#g0000ff)" stroke="#0000ff" stroke-width="0.6"/>
<circle cx="202.48" cy="38.80" r="1.85" fill="url(#g0000ff)" stroke="#0000ff" stroke-width="0.6"/>
<circle cx="206.52" cy="38.07" r="1.85" fill="url(#g0000ff)" stroke="#0000ff" stroke-width="0.6"/>
<circle cx="210.56" cy="37.49" r="1.85" fill="url(#g0000ff)" stroke="#0000ff" stroke-width="0.6"/>
<circle cx="214.60" cy="36.53" r="1.85" fill="url(#g0000ff)" stroke="#0000ff" stroke-width="0.6"/>
<circle cx="218.64" cy="35.67" r="1.85" fill="url(#g0000ff)" stroke="#0000ff" stroke-width="0.6"/>
<circle cx="222.68" cy="34.79" r="1.85" fill="url(#g0000ff)" stroke="#0000ff" stroke-width="0.6"/>
<circle cx="226.72" cy="34.00" r="1.85" fill="url(#g0000ff)" stroke="#0000ff" stroke-width="0.6"/>
<circle cx="230.76" cy="33.36" r="1.85" fill="url(#g0000ff)" stroke="#0000ff" stroke-width="0.6"/>
<circle cx="234.80" cy="32.70" r="1.85" fill="url(#g0000ff)" stroke="#0000ff" stroke-width="0.6"/>
<circle cx="238.84" cy="32.04" r="1.85" fill="url(#g0000ff)" stroke="#0000ff" stroke-width="0.6"/>
<circle cx="242.88" cy="31.40" r="1.85" fill="url(#g0000ff)" stroke="#0000ff" stroke-width="0.6"/>
<circle cx="246.92" cy="30.70" r="1.85" fill="url(#g0000ff)" stroke="#0000ff" stroke-width="0.6"/>
<circle cx="250.96" cy="30.30" r="1.85" fill="url(#g0000ff)" stroke="#0000ff" stroke-width="0.6"/>
<circle cx="255.00" cy="29.80" r="1.85" fill="url(#g0000ff)" stroke="#0000ff" stroke-width="0.6"/>
</g>
<g clip-path="url(#ca)">
<polyline points="53.00,168.00 57.00,171.20 61.00,161.70 65.10,157.80 69.10,153.60 73.10,152.80 77.20,152.20 81.20,151.60 85.20,151.00 89.30,150.40 93.30,149.60 97.30,148.00 101.30,144.50 105.50,130.88 109.50,116.90 113.50,105.30 117.60,95.00 121.60,87.20 125.60,80.30 129.70,74.95 133.80,70.00 137.80,66.12 141.90,62.53 145.90,58.81 150.00,55.80 154.00,53.48 158.00,51.56 162.10,49.67 166.10,47.45 170.20,44.10 174.20,41.53 178.20,39.80 182.30,38.60 186.30,36.90 190.40,35.60 194.40,33.40 198.40,32.00 202.50,30.80 206.50,29.98 210.60,29.28 214.60,28.68 218.60,28.18 222.70,27.58 226.70,27.10 230.80,26.50 234.80,25.90 238.80,25.30 242.90,24.70 246.90,24.10 251.00,23.80 255.00,23.40" fill="none" stroke="#ff00ff" stroke-width="1.0" stroke-linejoin="round"/>
<circle cx="53.00" cy="168.00" r="1.85" fill="url(#gff00ff)" stroke="#ff00ff" stroke-width="0.6"/>
<circle cx="57.04" cy="171.10" r="1.85" fill="url(#gff00ff)" stroke="#ff00ff" stroke-width="0.6"/>
<circle cx="61.08" cy="161.62" r="1.85" fill="url(#gff00ff)" stroke="#ff00ff" stroke-width="0.6"/>
<circle cx="65.12" cy="157.78" r="1.85" fill="url(#gff00ff)" stroke="#ff00ff" stroke-width="0.6"/>
<circle cx="69.16" cy="153.59" r="1.85" fill="url(#gff00ff)" stroke="#ff00ff" stroke-width="0.6"/>
<circle cx="73.20" cy="152.79" r="1.85" fill="url(#gff00ff)" stroke="#ff00ff" stroke-width="0.6"/>
<circle cx="77.24" cy="152.19" r="1.85" fill="url(#gff00ff)" stroke="#ff00ff" stroke-width="0.6"/>
<circle cx="81.28" cy="151.59" r="1.85" fill="url(#gff00ff)" stroke="#ff00ff" stroke-width="0.6"/>
<circle cx="85.32" cy="150.98" r="1.85" fill="url(#gff00ff)" stroke="#ff00ff" stroke-width="0.6"/>
<circle cx="89.36" cy="150.39" r="1.85" fill="url(#gff00ff)" stroke="#ff00ff" stroke-width="0.6"/>
<circle cx="93.40" cy="149.56" r="1.85" fill="url(#gff00ff)" stroke="#ff00ff" stroke-width="0.6"/>
<circle cx="97.44" cy="147.88" r="1.85" fill="url(#gff00ff)" stroke="#ff00ff" stroke-width="0.6"/>
<circle cx="101.48" cy="143.92" r="1.85" fill="url(#gff00ff)" stroke="#ff00ff" stroke-width="0.6"/>
<circle cx="105.52" cy="130.81" r="1.85" fill="url(#gff00ff)" stroke="#ff00ff" stroke-width="0.6"/>
<circle cx="109.56" cy="116.73" r="1.85" fill="url(#gff00ff)" stroke="#ff00ff" stroke-width="0.6"/>
<circle cx="113.60" cy="105.05" r="1.85" fill="url(#gff00ff)" stroke="#ff00ff" stroke-width="0.6"/>
<circle cx="117.64" cy="94.92" r="1.85" fill="url(#gff00ff)" stroke="#ff00ff" stroke-width="0.6"/>
<circle cx="121.68" cy="87.06" r="1.85" fill="url(#gff00ff)" stroke="#ff00ff" stroke-width="0.6"/>
<circle cx="125.72" cy="80.14" r="1.85" fill="url(#gff00ff)" stroke="#ff00ff" stroke-width="0.6"/>
<circle cx="129.76" cy="74.87" r="1.85" fill="url(#gff00ff)" stroke="#ff00ff" stroke-width="0.6"/>
<circle cx="133.80" cy="70.00" r="1.85" fill="url(#gff00ff)" stroke="#ff00ff" stroke-width="0.6"/>
<circle cx="137.84" cy="66.09" r="1.85" fill="url(#gff00ff)" stroke="#ff00ff" stroke-width="0.6"/>
<circle cx="141.88" cy="62.55" r="1.85" fill="url(#gff00ff)" stroke="#ff00ff" stroke-width="0.6"/>
<circle cx="145.92" cy="58.80" r="1.85" fill="url(#gff00ff)" stroke="#ff00ff" stroke-width="0.6"/>
<circle cx="149.96" cy="55.83" r="1.85" fill="url(#gff00ff)" stroke="#ff00ff" stroke-width="0.6"/>
<circle cx="154.00" cy="53.48" r="1.85" fill="url(#gff00ff)" stroke="#ff00ff" stroke-width="0.6"/>
<circle cx="158.04" cy="51.54" r="1.85" fill="url(#gff00ff)" stroke="#ff00ff" stroke-width="0.6"/>
<circle cx="162.08" cy="49.68" r="1.85" fill="url(#gff00ff)" stroke="#ff00ff" stroke-width="0.6"/>
<circle cx="166.12" cy="47.44" r="1.85" fill="url(#gff00ff)" stroke="#ff00ff" stroke-width="0.6"/>
<circle cx="170.16" cy="44.13" r="1.85" fill="url(#gff00ff)" stroke="#ff00ff" stroke-width="0.6"/>
<circle cx="174.20" cy="41.53" r="1.85" fill="url(#gff00ff)" stroke="#ff00ff" stroke-width="0.6"/>
<circle cx="178.24" cy="39.79" r="1.85" fill="url(#gff00ff)" stroke="#ff00ff" stroke-width="0.6"/>
<circle cx="182.28" cy="38.61" r="1.85" fill="url(#gff00ff)" stroke="#ff00ff" stroke-width="0.6"/>
<circle cx="186.32" cy="36.89" r="1.85" fill="url(#gff00ff)" stroke="#ff00ff" stroke-width="0.6"/>
<circle cx="190.36" cy="35.61" r="1.85" fill="url(#gff00ff)" stroke="#ff00ff" stroke-width="0.6"/>
<circle cx="194.40" cy="33.40" r="1.85" fill="url(#gff00ff)" stroke="#ff00ff" stroke-width="0.6"/>
<circle cx="198.44" cy="31.99" r="1.85" fill="url(#gff00ff)" stroke="#ff00ff" stroke-width="0.6"/>
<circle cx="202.48" cy="30.81" r="1.85" fill="url(#gff00ff)" stroke="#ff00ff" stroke-width="0.6"/>
<circle cx="206.52" cy="29.97" r="1.85" fill="url(#gff00ff)" stroke="#ff00ff" stroke-width="0.6"/>
<circle cx="210.56" cy="29.29" r="1.85" fill="url(#gff00ff)" stroke="#ff00ff" stroke-width="0.6"/>
<circle cx="214.60" cy="28.68" r="1.85" fill="url(#gff00ff)" stroke="#ff00ff" stroke-width="0.6"/>
<circle cx="218.64" cy="28.17" r="1.85" fill="url(#gff00ff)" stroke="#ff00ff" stroke-width="0.6"/>
<circle cx="222.68" cy="27.59" r="1.85" fill="url(#gff00ff)" stroke="#ff00ff" stroke-width="0.6"/>
<circle cx="226.72" cy="27.10" r="1.85" fill="url(#gff00ff)" stroke="#ff00ff" stroke-width="0.6"/>
<circle cx="230.76" cy="26.51" r="1.85" fill="url(#gff00ff)" stroke="#ff00ff" stroke-width="0.6"/>
<circle cx="234.80" cy="25.90" r="1.85" fill="url(#gff00ff)" stroke="#ff00ff" stroke-width="0.6"/>
<circle cx="238.84" cy="25.29" r="1.85" fill="url(#gff00ff)" stroke="#ff00ff" stroke-width="0.6"/>
<circle cx="242.88" cy="24.70" r="1.85" fill="url(#gff00ff)" stroke="#ff00ff" stroke-width="0.6"/>
<circle cx="246.92" cy="24.10" r="1.85" fill="url(#gff00ff)" stroke="#ff00ff" stroke-width="0.6"/>
<circle cx="250.96" cy="23.80" r="1.85" fill="url(#gff00ff)" stroke="#ff00ff" stroke-width="0.6"/>
<circle cx="255.00" cy="23.40" r="1.85" fill="url(#gff00ff)" stroke="#ff00ff" stroke-width="0.6"/>
</g>
<g clip-path="url(#ca)">
<polyline points="53.00,170.00 57.00,163.70 61.00,157.60 65.10,155.10 69.10,154.60 73.10,154.60 77.20,154.60 81.20,154.40 85.20,154.10 89.30,153.60 93.30,153.40 97.30,152.90 101.50,149.10 105.50,131.50 109.50,118.50 113.50,107.30 117.60,96.80 121.60,88.20 125.60,80.30 129.70,74.20 133.80,68.90 137.80,64.70 141.90,60.80 145.90,56.80 150.00,53.50 154.00,50.90 158.00,48.70 162.10,46.60 166.10,44.30 170.20,42.90 174.20,41.50 178.20,40.00 182.30,38.80 186.30,37.10 190.40,35.80 194.40,33.60 198.40,32.20 202.50,31.00 206.50,30.18 210.60,29.48 214.60,28.88 218.60,28.38 222.70,27.78 226.70,27.30 230.80,26.70 234.80,26.10 238.80,25.50 242.90,24.90 246.90,24.30 251.00,24.00 255.00,23.60" fill="none" stroke="#008000" stroke-width="1.0" stroke-linejoin="round"/>
<circle cx="53.00" cy="170.00" r="1.85" fill="url(#g008000)" stroke="#008000" stroke-width="0.6"/>
<circle cx="57.04" cy="163.64" r="1.85" fill="url(#g008000)" stroke="#008000" stroke-width="0.6"/>
<circle cx="61.08" cy="157.55" r="1.85" fill="url(#g008000)" stroke="#008000" stroke-width="0.6"/>
<circle cx="65.12" cy="155.10" r="1.85" fill="url(#g008000)" stroke="#008000" stroke-width="0.6"/>
<circle cx="69.16" cy="154.60" r="1.85" fill="url(#g008000)" stroke="#008000" stroke-width="0.6"/>
<circle cx="73.20" cy="154.60" r="1.85" fill="url(#g008000)" stroke="#008000" stroke-width="0.6"/>
<circle cx="77.24" cy="154.60" r="1.85" fill="url(#g008000)" stroke="#008000" stroke-width="0.6"/>
<circle cx="81.28" cy="154.39" r="1.85" fill="url(#g008000)" stroke="#008000" stroke-width="0.6"/>
<circle cx="85.32" cy="154.09" r="1.85" fill="url(#g008000)" stroke="#008000" stroke-width="0.6"/>
<circle cx="89.36" cy="153.60" r="1.85" fill="url(#g008000)" stroke="#008000" stroke-width="0.6"/>
<circle cx="93.40" cy="153.39" r="1.85" fill="url(#g008000)" stroke="#008000" stroke-width="0.6"/>
<circle cx="97.44" cy="152.77" r="1.85" fill="url(#g008000)" stroke="#008000" stroke-width="0.6"/>
<circle cx="101.48" cy="149.12" r="1.85" fill="url(#g008000)" stroke="#008000" stroke-width="0.6"/>
<circle cx="105.52" cy="131.43" r="1.85" fill="url(#g008000)" stroke="#008000" stroke-width="0.6"/>
<circle cx="109.56" cy="118.33" r="1.85" fill="url(#g008000)" stroke="#008000" stroke-width="0.6"/>
<circle cx="113.60" cy="107.04" r="1.85" fill="url(#g008000)" stroke="#008000" stroke-width="0.6"/>
<circle cx="117.64" cy="96.71" r="1.85" fill="url(#g008000)" stroke="#008000" stroke-width="0.6"/>
<circle cx="121.68" cy="88.04" r="1.85" fill="url(#g008000)" stroke="#008000" stroke-width="0.6"/>
<circle cx="125.72" cy="80.12" r="1.85" fill="url(#g008000)" stroke="#008000" stroke-width="0.6"/>
<circle cx="129.76" cy="74.12" r="1.85" fill="url(#g008000)" stroke="#008000" stroke-width="0.6"/>
<circle cx="133.80" cy="68.90" r="1.85" fill="url(#g008000)" stroke="#008000" stroke-width="0.6"/>
<circle cx="137.84" cy="64.66" r="1.85" fill="url(#g008000)" stroke="#008000" stroke-width="0.6"/>
<circle cx="141.88" cy="60.82" r="1.85" fill="url(#g008000)" stroke="#008000" stroke-width="0.6"/>
<circle cx="145.92" cy="56.78" r="1.85" fill="url(#g008000)" stroke="#008000" stroke-width="0.6"/>
<circle cx="149.96" cy="53.53" r="1.85" fill="url(#g008000)" stroke="#008000" stroke-width="0.6"/>
<circle cx="154.00" cy="50.90" r="1.85" fill="url(#g008000)" stroke="#008000" stroke-width="0.6"/>
<circle cx="158.04" cy="48.68" r="1.85" fill="url(#g008000)" stroke="#008000" stroke-width="0.6"/>
<circle cx="162.08" cy="46.61" r="1.85" fill="url(#g008000)" stroke="#008000" stroke-width="0.6"/>
<circle cx="166.12" cy="44.29" r="1.85" fill="url(#g008000)" stroke="#008000" stroke-width="0.6"/>
<circle cx="170.16" cy="42.91" r="1.85" fill="url(#g008000)" stroke="#008000" stroke-width="0.6"/>
<circle cx="174.20" cy="41.50" r="1.85" fill="url(#g008000)" stroke="#008000" stroke-width="0.6"/>
<circle cx="178.24" cy="39.99" r="1.85" fill="url(#g008000)" stroke="#008000" stroke-width="0.6"/>
<circle cx="182.28" cy="38.81" r="1.85" fill="url(#g008000)" stroke="#008000" stroke-width="0.6"/>
<circle cx="186.32" cy="37.09" r="1.85" fill="url(#g008000)" stroke="#008000" stroke-width="0.6"/>
<circle cx="190.36" cy="35.81" r="1.85" fill="url(#g008000)" stroke="#008000" stroke-width="0.6"/>
<circle cx="194.40" cy="33.60" r="1.85" fill="url(#g008000)" stroke="#008000" stroke-width="0.6"/>
<circle cx="198.44" cy="32.19" r="1.85" fill="url(#g008000)" stroke="#008000" stroke-width="0.6"/>
<circle cx="202.48" cy="31.01" r="1.85" fill="url(#g008000)" stroke="#008000" stroke-width="0.6"/>
<circle cx="206.52" cy="30.17" r="1.85" fill="url(#g008000)" stroke="#008000" stroke-width="0.6"/>
<circle cx="210.56" cy="29.49" r="1.85" fill="url(#g008000)" stroke="#008000" stroke-width="0.6"/>
<circle cx="214.60" cy="28.88" r="1.85" fill="url(#g008000)" stroke="#008000" stroke-width="0.6"/>
<circle cx="218.64" cy="28.37" r="1.85" fill="url(#g008000)" stroke="#008000" stroke-width="0.6"/>
<circle cx="222.68" cy="27.79" r="1.85" fill="url(#g008000)" stroke="#008000" stroke-width="0.6"/>
<circle cx="226.72" cy="27.30" r="1.85" fill="url(#g008000)" stroke="#008000" stroke-width="0.6"/>
<circle cx="230.76" cy="26.71" r="1.85" fill="url(#g008000)" stroke="#008000" stroke-width="0.6"/>
<circle cx="234.80" cy="26.10" r="1.85" fill="url(#g008000)" stroke="#008000" stroke-width="0.6"/>
<circle cx="238.84" cy="25.49" r="1.85" fill="url(#g008000)" stroke="#008000" stroke-width="0.6"/>
<circle cx="242.88" cy="24.90" r="1.85" fill="url(#g008000)" stroke="#008000" stroke-width="0.6"/>
<circle cx="246.92" cy="24.30" r="1.85" fill="url(#g008000)" stroke="#008000" stroke-width="0.6"/>
<circle cx="250.96" cy="24.00" r="1.85" fill="url(#g008000)" stroke="#008000" stroke-width="0.6"/>
<circle cx="255.00" cy="23.60" r="1.85" fill="url(#g008000)" stroke="#008000" stroke-width="0.6"/>
</g>
<g clip-path="url(#ca)">
<polyline points="116.50,195.00 119.50,182.00 122.70,171.00 126.50,153.00 130.20,138.60 134.30,126.90 138.30,117.20 142.40,109.40 146.30,102.60 150.20,96.00 154.40,91.90 158.50,87.80 162.30,84.39 166.40,80.61 170.40,76.65 174.40,73.28 178.40,70.10 182.30,68.00 186.40,66.40 190.30,65.00 194.40,63.70 198.40,62.60 202.40,61.41 206.40,60.49 210.50,59.50 214.60,58.60 218.60,58.10 222.70,58.00 226.70,58.40 230.80,58.80 234.80,59.50 238.80,60.50 242.90,62.00 246.90,65.50 251.00,71.70" fill="none" stroke="#000000" stroke-width="1.0" stroke-linejoin="round"/>
<circle cx="121.68" cy="174.51" r="1.85" fill="url(#g000000)" stroke="#000000" stroke-width="0.6"/>
<circle cx="125.72" cy="156.69" r="1.85" fill="url(#g000000)" stroke="#000000" stroke-width="0.6"/>
<circle cx="129.76" cy="140.31" r="1.85" fill="url(#g000000)" stroke="#000000" stroke-width="0.6"/>
<circle cx="133.80" cy="128.33" r="1.85" fill="url(#g000000)" stroke="#000000" stroke-width="0.6"/>
<circle cx="137.84" cy="118.32" r="1.85" fill="url(#g000000)" stroke="#000000" stroke-width="0.6"/>
<circle cx="141.88" cy="110.39" r="1.85" fill="url(#g000000)" stroke="#000000" stroke-width="0.6"/>
<circle cx="145.92" cy="103.26" r="1.85" fill="url(#g000000)" stroke="#000000" stroke-width="0.6"/>
<circle cx="149.96" cy="96.41" r="1.85" fill="url(#g000000)" stroke="#000000" stroke-width="0.6"/>
<circle cx="154.00" cy="92.29" r="1.85" fill="url(#g000000)" stroke="#000000" stroke-width="0.6"/>
<circle cx="158.04" cy="88.26" r="1.85" fill="url(#g000000)" stroke="#000000" stroke-width="0.6"/>
<circle cx="162.08" cy="84.59" r="1.85" fill="url(#g000000)" stroke="#000000" stroke-width="0.6"/>
<circle cx="166.12" cy="80.87" r="1.85" fill="url(#g000000)" stroke="#000000" stroke-width="0.6"/>
<circle cx="170.16" cy="76.88" r="1.85" fill="url(#g000000)" stroke="#000000" stroke-width="0.6"/>
<circle cx="174.20" cy="73.45" r="1.85" fill="url(#g000000)" stroke="#000000" stroke-width="0.6"/>
<circle cx="178.24" cy="70.23" r="1.85" fill="url(#g000000)" stroke="#000000" stroke-width="0.6"/>
<circle cx="182.28" cy="68.01" r="1.85" fill="url(#g000000)" stroke="#000000" stroke-width="0.6"/>
<circle cx="186.32" cy="66.43" r="1.85" fill="url(#g000000)" stroke="#000000" stroke-width="0.6"/>
<circle cx="190.36" cy="64.98" r="1.85" fill="url(#g000000)" stroke="#000000" stroke-width="0.6"/>
<circle cx="194.40" cy="63.70" r="1.85" fill="url(#g000000)" stroke="#000000" stroke-width="0.6"/>
<circle cx="198.44" cy="62.59" r="1.85" fill="url(#g000000)" stroke="#000000" stroke-width="0.6"/>
<circle cx="202.48" cy="61.39" r="1.85" fill="url(#g000000)" stroke="#000000" stroke-width="0.6"/>
<circle cx="206.52" cy="60.46" r="1.85" fill="url(#g000000)" stroke="#000000" stroke-width="0.6"/>
<circle cx="210.56" cy="59.49" r="1.85" fill="url(#g000000)" stroke="#000000" stroke-width="0.6"/>
<circle cx="214.60" cy="58.60" r="1.85" fill="url(#g000000)" stroke="#000000" stroke-width="0.6"/>
<circle cx="218.64" cy="58.10" r="1.85" fill="url(#g000000)" stroke="#000000" stroke-width="0.6"/>
<circle cx="222.68" cy="58.00" r="1.85" fill="url(#g000000)" stroke="#000000" stroke-width="0.6"/>
<circle cx="226.72" cy="58.40" r="1.85" fill="url(#g000000)" stroke="#000000" stroke-width="0.6"/>
<circle cx="230.76" cy="58.80" r="1.85" fill="url(#g000000)" stroke="#000000" stroke-width="0.6"/>
<circle cx="234.80" cy="59.50" r="1.85" fill="url(#g000000)" stroke="#000000" stroke-width="0.6"/>
<circle cx="238.84" cy="60.51" r="1.85" fill="url(#g000000)" stroke="#000000" stroke-width="0.6"/>
<circle cx="242.88" cy="61.99" r="1.85" fill="url(#g000000)" stroke="#000000" stroke-width="0.6"/>
<circle cx="246.92" cy="65.53" r="1.85" fill="url(#g000000)" stroke="#000000" stroke-width="0.6"/>
<circle cx="250.96" cy="71.64" r="1.85" fill="url(#g000000)" stroke="#000000" stroke-width="0.6"/>
</g>
<g clip-path="url(#ca)">
<polyline points="112.00,195.00 116.50,175.40 120.80,155.20 125.10,140.36 129.40,126.89 133.70,116.03 137.70,107.38 141.90,100.12 145.90,93.16 150.00,88.00 154.00,83.59 158.00,80.08 162.10,76.57 166.10,73.75 170.20,71.74 174.20,69.80 178.20,68.01 182.30,65.33 186.30,63.05 190.40,61.94 194.40,59.40 198.40,56.60 202.50,55.70 206.50,55.20 210.60,54.30 214.60,53.20 218.60,51.50 222.70,49.50 226.70,49.60 230.80,50.50 234.80,50.80 238.80,51.00 242.90,51.20 246.90,51.50 251.00,51.90 255.00,52.00" fill="none" stroke="#ff0000" stroke-width="1.0" stroke-linejoin="round"/>
<circle cx="117.64" cy="170.04" r="1.85" fill="url(#gff0000)" stroke="#ff0000" stroke-width="0.6"/>
<circle cx="121.68" cy="152.16" r="1.85" fill="url(#gff0000)" stroke="#ff0000" stroke-width="0.6"/>
<circle cx="125.72" cy="138.41" r="1.85" fill="url(#gff0000)" stroke="#ff0000" stroke-width="0.6"/>
<circle cx="129.76" cy="125.98" r="1.85" fill="url(#gff0000)" stroke="#ff0000" stroke-width="0.6"/>
<circle cx="133.80" cy="115.82" r="1.85" fill="url(#gff0000)" stroke="#ff0000" stroke-width="0.6"/>
<circle cx="137.84" cy="107.13" r="1.85" fill="url(#gff0000)" stroke="#ff0000" stroke-width="0.6"/>
<circle cx="141.88" cy="100.15" r="1.85" fill="url(#gff0000)" stroke="#ff0000" stroke-width="0.6"/>
<circle cx="145.92" cy="93.13" r="1.85" fill="url(#gff0000)" stroke="#ff0000" stroke-width="0.6"/>
<circle cx="149.96" cy="88.05" r="1.85" fill="url(#gff0000)" stroke="#ff0000" stroke-width="0.6"/>
<circle cx="154.00" cy="83.59" r="1.85" fill="url(#gff0000)" stroke="#ff0000" stroke-width="0.6"/>
<circle cx="158.04" cy="80.05" r="1.85" fill="url(#gff0000)" stroke="#ff0000" stroke-width="0.6"/>
<circle cx="162.08" cy="76.59" r="1.85" fill="url(#gff0000)" stroke="#ff0000" stroke-width="0.6"/>
<circle cx="166.12" cy="73.74" r="1.85" fill="url(#gff0000)" stroke="#ff0000" stroke-width="0.6"/>
<circle cx="170.16" cy="71.76" r="1.85" fill="url(#gff0000)" stroke="#ff0000" stroke-width="0.6"/>
<circle cx="174.20" cy="69.80" r="1.85" fill="url(#gff0000)" stroke="#ff0000" stroke-width="0.6"/>
<circle cx="178.24" cy="67.99" r="1.85" fill="url(#gff0000)" stroke="#ff0000" stroke-width="0.6"/>
<circle cx="182.28" cy="65.34" r="1.85" fill="url(#gff0000)" stroke="#ff0000" stroke-width="0.6"/>
<circle cx="186.32" cy="63.04" r="1.85" fill="url(#gff0000)" stroke="#ff0000" stroke-width="0.6"/>
<circle cx="190.36" cy="61.95" r="1.85" fill="url(#gff0000)" stroke="#ff0000" stroke-width="0.6"/>
<circle cx="194.40" cy="59.40" r="1.85" fill="url(#gff0000)" stroke="#ff0000" stroke-width="0.6"/>
<circle cx="198.44" cy="56.59" r="1.85" fill="url(#gff0000)" stroke="#ff0000" stroke-width="0.6"/>
<circle cx="202.48" cy="55.70" r="1.85" fill="url(#gff0000)" stroke="#ff0000" stroke-width="0.6"/>
<circle cx="206.52" cy="55.20" r="1.85" fill="url(#gff0000)" stroke="#ff0000" stroke-width="0.6"/>
<circle cx="210.56" cy="54.31" r="1.85" fill="url(#gff0000)" stroke="#ff0000" stroke-width="0.6"/>
<circle cx="214.60" cy="53.20" r="1.85" fill="url(#gff0000)" stroke="#ff0000" stroke-width="0.6"/>
<circle cx="218.64" cy="51.48" r="1.85" fill="url(#gff0000)" stroke="#ff0000" stroke-width="0.6"/>
<circle cx="222.68" cy="49.51" r="1.85" fill="url(#gff0000)" stroke="#ff0000" stroke-width="0.6"/>
<circle cx="226.72" cy="49.60" r="1.85" fill="url(#gff0000)" stroke="#ff0000" stroke-width="0.6"/>
<circle cx="230.76" cy="50.49" r="1.85" fill="url(#gff0000)" stroke="#ff0000" stroke-width="0.6"/>
<circle cx="234.80" cy="50.80" r="1.85" fill="url(#gff0000)" stroke="#ff0000" stroke-width="0.6"/>
<circle cx="238.84" cy="51.00" r="1.85" fill="url(#gff0000)" stroke="#ff0000" stroke-width="0.6"/>
<circle cx="242.88" cy="51.20" r="1.85" fill="url(#gff0000)" stroke="#ff0000" stroke-width="0.6"/>
<circle cx="246.92" cy="51.50" r="1.85" fill="url(#gff0000)" stroke="#ff0000" stroke-width="0.6"/>
<circle cx="250.96" cy="51.90" r="1.85" fill="url(#gff0000)" stroke="#ff0000" stroke-width="0.6"/>
<circle cx="255.00" cy="52.00" r="1.85" fill="url(#gff0000)" stroke="#ff0000" stroke-width="0.6"/>
</g>
<g clip-path="url(#ca)">
<polyline points="113.00,195.00 116.60,176.00 120.80,157.80 125.10,139.40 129.40,126.00 133.70,115.20 137.70,106.60 141.90,99.40 145.90,92.50 150.00,87.40 154.00,83.00 158.00,79.50 162.10,76.00 166.10,73.19 170.20,71.19 174.20,69.26 178.20,67.48 182.30,64.81 186.30,62.54 190.40,61.44 194.40,56.60 198.40,55.60 202.50,54.70 206.50,54.50 210.60,53.70 214.60,52.80 218.60,51.80 222.70,50.80 226.70,50.40 230.80,49.90 234.80,49.60 238.80,49.40 242.90,49.40 246.90,49.60 251.00,49.90 255.00,50.00" fill="none" stroke="#0000ff" stroke-width="1.0" stroke-linejoin="round"/>
<circle cx="117.64" cy="171.49" r="1.85" fill="url(#g0000ff)" stroke="#0000ff" stroke-width="0.6"/>
<circle cx="121.68" cy="154.03" r="1.85" fill="url(#g0000ff)" stroke="#0000ff" stroke-width="0.6"/>
<circle cx="125.72" cy="137.47" r="1.85" fill="url(#g0000ff)" stroke="#0000ff" stroke-width="0.6"/>
<circle cx="129.76" cy="125.10" r="1.85" fill="url(#g0000ff)" stroke="#0000ff" stroke-width="0.6"/>
<circle cx="133.80" cy="114.98" r="1.85" fill="url(#g0000ff)" stroke="#0000ff" stroke-width="0.6"/>
<circle cx="137.84" cy="106.36" r="1.85" fill="url(#g0000ff)" stroke="#0000ff" stroke-width="0.6"/>
<circle cx="141.88" cy="99.43" r="1.85" fill="url(#g0000ff)" stroke="#0000ff" stroke-width="0.6"/>
<circle cx="145.92" cy="92.48" r="1.85" fill="url(#g0000ff)" stroke="#0000ff" stroke-width="0.6"/>
<circle cx="149.96" cy="87.45" r="1.85" fill="url(#g0000ff)" stroke="#0000ff" stroke-width="0.6"/>
<circle cx="154.00" cy="83.00" r="1.85" fill="url(#g0000ff)" stroke="#0000ff" stroke-width="0.6"/>
<circle cx="158.04" cy="79.47" r="1.85" fill="url(#g0000ff)" stroke="#0000ff" stroke-width="0.6"/>
<circle cx="162.08" cy="76.02" r="1.85" fill="url(#g0000ff)" stroke="#0000ff" stroke-width="0.6"/>
<circle cx="166.12" cy="73.18" r="1.85" fill="url(#g0000ff)" stroke="#0000ff" stroke-width="0.6"/>
<circle cx="170.16" cy="71.21" r="1.85" fill="url(#g0000ff)" stroke="#0000ff" stroke-width="0.6"/>
<circle cx="174.20" cy="69.26" r="1.85" fill="url(#g0000ff)" stroke="#0000ff" stroke-width="0.6"/>
<circle cx="178.24" cy="67.46" r="1.85" fill="url(#g0000ff)" stroke="#0000ff" stroke-width="0.6"/>
<circle cx="182.28" cy="64.82" r="1.85" fill="url(#g0000ff)" stroke="#0000ff" stroke-width="0.6"/>
<circle cx="186.32" cy="62.53" r="1.85" fill="url(#g0000ff)" stroke="#0000ff" stroke-width="0.6"/>
<circle cx="190.36" cy="61.45" r="1.85" fill="url(#g0000ff)" stroke="#0000ff" stroke-width="0.6"/>
<circle cx="194.40" cy="56.60" r="1.85" fill="url(#g0000ff)" stroke="#0000ff" stroke-width="0.6"/>
<circle cx="198.44" cy="55.59" r="1.85" fill="url(#g0000ff)" stroke="#0000ff" stroke-width="0.6"/>
<circle cx="202.48" cy="54.70" r="1.85" fill="url(#g0000ff)" stroke="#0000ff" stroke-width="0.6"/>
<circle cx="206.52" cy="54.50" r="1.85" fill="url(#g0000ff)" stroke="#0000ff" stroke-width="0.6"/>
<circle cx="210.56" cy="53.71" r="1.85" fill="url(#g0000ff)" stroke="#0000ff" stroke-width="0.6"/>
<circle cx="214.60" cy="52.80" r="1.85" fill="url(#g0000ff)" stroke="#0000ff" stroke-width="0.6"/>
<circle cx="218.64" cy="51.79" r="1.85" fill="url(#g0000ff)" stroke="#0000ff" stroke-width="0.6"/>
<circle cx="222.68" cy="50.80" r="1.85" fill="url(#g0000ff)" stroke="#0000ff" stroke-width="0.6"/>
<circle cx="226.72" cy="50.40" r="1.85" fill="url(#g0000ff)" stroke="#0000ff" stroke-width="0.6"/>
<circle cx="230.76" cy="49.90" r="1.85" fill="url(#g0000ff)" stroke="#0000ff" stroke-width="0.6"/>
<circle cx="234.80" cy="49.60" r="1.85" fill="url(#g0000ff)" stroke="#0000ff" stroke-width="0.6"/>
<circle cx="238.84" cy="49.40" r="1.85" fill="url(#g0000ff)" stroke="#0000ff" stroke-width="0.6"/>
<circle cx="242.88" cy="49.40" r="1.85" fill="url(#g0000ff)" stroke="#0000ff" stroke-width="0.6"/>
<circle cx="246.92" cy="49.60" r="1.85" fill="url(#g0000ff)" stroke="#0000ff" stroke-width="0.6"/>
<circle cx="250.96" cy="49.90" r="1.85" fill="url(#g0000ff)" stroke="#0000ff" stroke-width="0.6"/>
<circle cx="255.00" cy="50.00" r="1.85" fill="url(#g0000ff)" stroke="#0000ff" stroke-width="0.6"/>
</g>
<g clip-path="url(#ca)">
<polyline points="114.00,195.00 117.60,178.00 121.60,162.00 125.60,145.50 129.70,130.70 133.70,120.40 137.70,110.80 141.90,103.00 145.90,96.40 150.00,90.70 154.00,86.40 158.00,80.80 162.10,75.93 166.10,71.57 170.20,68.20 174.20,64.42 178.20,61.03 182.30,58.65 186.30,56.57 190.40,54.68 194.40,52.50 198.40,50.36 202.50,48.57 206.50,47.00 210.60,46.00 214.60,45.10 218.60,44.60 222.70,44.10 226.70,43.80 230.80,43.67 234.80,43.93 238.80,43.99 242.90,43.60 246.90,43.40 251.00,43.10 255.00,42.90" fill="none" stroke="#ff00ff" stroke-width="1.0" stroke-linejoin="round"/>
<circle cx="117.64" cy="177.84" r="1.85" fill="url(#gff00ff)" stroke="#ff00ff" stroke-width="0.6"/>
<circle cx="121.68" cy="161.67" r="1.85" fill="url(#gff00ff)" stroke="#ff00ff" stroke-width="0.6"/>
<circle cx="125.72" cy="145.07" r="1.85" fill="url(#gff00ff)" stroke="#ff00ff" stroke-width="0.6"/>
<circle cx="129.76" cy="130.55" r="1.85" fill="url(#gff00ff)" stroke="#ff00ff" stroke-width="0.6"/>
<circle cx="133.80" cy="120.16" r="1.85" fill="url(#gff00ff)" stroke="#ff00ff" stroke-width="0.6"/>
<circle cx="137.84" cy="110.54" r="1.85" fill="url(#gff00ff)" stroke="#ff00ff" stroke-width="0.6"/>
<circle cx="141.88" cy="103.04" r="1.85" fill="url(#gff00ff)" stroke="#ff00ff" stroke-width="0.6"/>
<circle cx="145.92" cy="96.37" r="1.85" fill="url(#gff00ff)" stroke="#ff00ff" stroke-width="0.6"/>
<circle cx="149.96" cy="90.76" r="1.85" fill="url(#gff00ff)" stroke="#ff00ff" stroke-width="0.6"/>
<circle cx="154.00" cy="86.40" r="1.85" fill="url(#gff00ff)" stroke="#ff00ff" stroke-width="0.6"/>
<circle cx="158.04" cy="80.75" r="1.85" fill="url(#gff00ff)" stroke="#ff00ff" stroke-width="0.6"/>
<circle cx="162.08" cy="75.95" r="1.85" fill="url(#gff00ff)" stroke="#ff00ff" stroke-width="0.6"/>
<circle cx="166.12" cy="71.55" r="1.85" fill="url(#gff00ff)" stroke="#ff00ff" stroke-width="0.6"/>
<circle cx="170.16" cy="68.23" r="1.85" fill="url(#gff00ff)" stroke="#ff00ff" stroke-width="0.6"/>
<circle cx="174.20" cy="64.42" r="1.85" fill="url(#gff00ff)" stroke="#ff00ff" stroke-width="0.6"/>
<circle cx="178.24" cy="61.01" r="1.85" fill="url(#gff00ff)" stroke="#ff00ff" stroke-width="0.6"/>
<circle cx="182.28" cy="58.66" r="1.85" fill="url(#gff00ff)" stroke="#ff00ff" stroke-width="0.6"/>
<circle cx="186.32" cy="56.56" r="1.85" fill="url(#gff00ff)" stroke="#ff00ff" stroke-width="0.6"/>
<circle cx="190.36" cy="54.70" r="1.85" fill="url(#gff00ff)" stroke="#ff00ff" stroke-width="0.6"/>
<circle cx="194.40" cy="52.50" r="1.85" fill="url(#gff00ff)" stroke="#ff00ff" stroke-width="0.6"/>
<circle cx="198.44" cy="50.34" r="1.85" fill="url(#gff00ff)" stroke="#ff00ff" stroke-width="0.6"/>
<circle cx="202.48" cy="48.58" r="1.85" fill="url(#gff00ff)" stroke="#ff00ff" stroke-width="0.6"/>
<circle cx="206.52" cy="47.00" r="1.85" fill="url(#gff00ff)" stroke="#ff00ff" stroke-width="0.6"/>
<circle cx="210.56" cy="46.01" r="1.85" fill="url(#gff00ff)" stroke="#ff00ff" stroke-width="0.6"/>
<circle cx="214.60" cy="45.10" r="1.85" fill="url(#gff00ff)" stroke="#ff00ff" stroke-width="0.6"/>
<circle cx="218.64" cy="44.60" r="1.85" fill="url(#gff00ff)" stroke="#ff00ff" stroke-width="0.6"/>
<circle cx="222.68" cy="44.10" r="1.85" fill="url(#gff00ff)" stroke="#ff00ff" stroke-width="0.6"/>
<circle cx="226.72" cy="43.80" r="1.85" fill="url(#gff00ff)" stroke="#ff00ff" stroke-width="0.6"/>
<circle cx="230.76" cy="43.67" r="1.85" fill="url(#gff00ff)" stroke="#ff00ff" stroke-width="0.6"/>
<circle cx="234.80" cy="43.93" r="1.85" fill="url(#gff00ff)" stroke="#ff00ff" stroke-width="0.6"/>
<circle cx="238.84" cy="43.99" r="1.85" fill="url(#gff00ff)" stroke="#ff00ff" stroke-width="0.6"/>
<circle cx="242.88" cy="43.60" r="1.85" fill="url(#gff00ff)" stroke="#ff00ff" stroke-width="0.6"/>
<circle cx="246.92" cy="43.40" r="1.85" fill="url(#gff00ff)" stroke="#ff00ff" stroke-width="0.6"/>
<circle cx="250.96" cy="43.10" r="1.85" fill="url(#gff00ff)" stroke="#ff00ff" stroke-width="0.6"/>
<circle cx="255.00" cy="42.90" r="1.85" fill="url(#gff00ff)" stroke="#ff00ff" stroke-width="0.6"/>
</g>
<g clip-path="url(#ca)">
<polyline points="116.00,195.00 119.00,182.00 122.20,171.00 126.00,153.00 129.70,138.60 133.80,126.90 137.80,117.20 141.90,109.40 145.90,99.80 150.00,93.30 154.00,88.00 158.00,82.60 162.10,78.30 166.10,74.80 170.20,71.00 174.20,68.10 178.20,64.90 182.30,62.80 186.30,60.10 190.40,57.30 194.40,55.20 198.40,53.00 202.50,51.10 206.50,49.40 210.60,47.63 214.60,46.25 218.60,45.06 222.70,44.28 226.70,43.51 230.80,42.74 234.80,41.87 238.80,41.19 242.90,40.52 246.90,39.95 251.00,39.57 255.00,39.20" fill="none" stroke="#008000" stroke-width="1.0" stroke-linejoin="round"/>
<circle cx="121.68" cy="172.79" r="1.85" fill="url(#g008000)" stroke="#008000" stroke-width="0.6"/>
<circle cx="125.72" cy="154.33" r="1.85" fill="url(#g008000)" stroke="#008000" stroke-width="0.6"/>
<circle cx="129.76" cy="138.43" r="1.85" fill="url(#g008000)" stroke="#008000" stroke-width="0.6"/>
<circle cx="133.80" cy="126.90" r="1.85" fill="url(#g008000)" stroke="#008000" stroke-width="0.6"/>
<circle cx="137.84" cy="117.12" r="1.85" fill="url(#g008000)" stroke="#008000" stroke-width="0.6"/>
<circle cx="141.88" cy="109.44" r="1.85" fill="url(#g008000)" stroke="#008000" stroke-width="0.6"/>
<circle cx="145.92" cy="99.77" r="1.85" fill="url(#g008000)" stroke="#008000" stroke-width="0.6"/>
<circle cx="149.96" cy="93.36" r="1.85" fill="url(#g008000)" stroke="#008000" stroke-width="0.6"/>
<circle cx="154.00" cy="88.00" r="1.85" fill="url(#g008000)" stroke="#008000" stroke-width="0.6"/>
<circle cx="158.04" cy="82.56" r="1.85" fill="url(#g008000)" stroke="#008000" stroke-width="0.6"/>
<circle cx="162.08" cy="78.32" r="1.85" fill="url(#g008000)" stroke="#008000" stroke-width="0.6"/>
<circle cx="166.12" cy="74.78" r="1.85" fill="url(#g008000)" stroke="#008000" stroke-width="0.6"/>
<circle cx="170.16" cy="71.04" r="1.85" fill="url(#g008000)" stroke="#008000" stroke-width="0.6"/>
<circle cx="174.20" cy="68.10" r="1.85" fill="url(#g008000)" stroke="#008000" stroke-width="0.6"/>
<circle cx="178.24" cy="64.88" r="1.85" fill="url(#g008000)" stroke="#008000" stroke-width="0.6"/>
<circle cx="182.28" cy="62.81" r="1.85" fill="url(#g008000)" stroke="#008000" stroke-width="0.6"/>
<circle cx="186.32" cy="60.09" r="1.85" fill="url(#g008000)" stroke="#008000" stroke-width="0.6"/>
<circle cx="190.36" cy="57.33" r="1.85" fill="url(#g008000)" stroke="#008000" stroke-width="0.6"/>
<circle cx="194.40" cy="55.20" r="1.85" fill="url(#g008000)" stroke="#008000" stroke-width="0.6"/>
<circle cx="198.44" cy="52.98" r="1.85" fill="url(#g008000)" stroke="#008000" stroke-width="0.6"/>
<circle cx="202.48" cy="51.11" r="1.85" fill="url(#g008000)" stroke="#008000" stroke-width="0.6"/>
<circle cx="206.52" cy="49.39" r="1.85" fill="url(#g008000)" stroke="#008000" stroke-width="0.6"/>
<circle cx="210.56" cy="47.65" r="1.85" fill="url(#g008000)" stroke="#008000" stroke-width="0.6"/>
<circle cx="214.60" cy="46.25" r="1.85" fill="url(#g008000)" stroke="#008000" stroke-width="0.6"/>
<circle cx="218.64" cy="45.05" r="1.85" fill="url(#g008000)" stroke="#008000" stroke-width="0.6"/>
<circle cx="222.68" cy="44.28" r="1.85" fill="url(#g008000)" stroke="#008000" stroke-width="0.6"/>
<circle cx="226.72" cy="43.51" r="1.85" fill="url(#g008000)" stroke="#008000" stroke-width="0.6"/>
<circle cx="230.76" cy="42.75" r="1.85" fill="url(#g008000)" stroke="#008000" stroke-width="0.6"/>
<circle cx="234.80" cy="41.87" r="1.85" fill="url(#g008000)" stroke="#008000" stroke-width="0.6"/>
<circle cx="238.84" cy="41.19" r="1.85" fill="url(#g008000)" stroke="#008000" stroke-width="0.6"/>
<circle cx="242.88" cy="40.52" r="1.85" fill="url(#g008000)" stroke="#008000" stroke-width="0.6"/>
<circle cx="246.92" cy="39.94" r="1.85" fill="url(#g008000)" stroke="#008000" stroke-width="0.6"/>
<circle cx="250.96" cy="39.58" r="1.85" fill="url(#g008000)" stroke="#008000" stroke-width="0.6"/>
<circle cx="255.00" cy="39.20" r="1.85" fill="url(#g008000)" stroke="#008000" stroke-width="0.6"/>
</g>
<ellipse cx="115.1" cy="107.4" rx="8.9" ry="20.6" transform="rotate(-3 115.1 107.4)" fill="none" stroke="#222" stroke-width="0.9"/>
<line x1="121" y1="87.6" x2="107" y2="87.6" stroke="#222" stroke-width="0.9"/>
<path d="M104.6,87.6 L108.6,85.9 L108.6,89.3 Z" fill="#222"/>
<ellipse cx="126.1" cy="153.7" rx="9" ry="20.5" transform="rotate(-2 126.1 153.7)" fill="none" stroke="#222" stroke-width="0.9"/>
<line x1="127" y1="174.6" x2="136" y2="174.6" stroke="#222" stroke-width="0.9"/>
<path d="M138.6,174.6 L134.6,172.9 L134.6,176.3 Z" fill="#222"/>
<text x="57.00" y="29.40" font-size="8.7" style="stroke-width:0.12px"><tspan font-style="italic">m</tspan>-FPEABr</text>
<line x1="57" y1="37.3" x2="76.5" y2="37.3" stroke="#000000" stroke-width="1.6"/>
<circle cx="66.75" cy="37.3" r="1.8" fill="url(#g000000)" stroke="#000000" stroke-width="0.6"/>
<text x="79.00" y="40.50" font-size="9" text-anchor="start" style="stroke-width:0.25px">90 <tspan font-size="8">°</tspan><tspan dx="-1.6" fill="#555" stroke="none">C</tspan></text>
<line x1="57" y1="47.5" x2="76.5" y2="47.5" stroke="#ff0000" stroke-width="1.6"/>
<circle cx="66.75" cy="47.5" r="1.8" fill="url(#gff0000)" stroke="#ff0000" stroke-width="0.6"/>
<text x="79.00" y="50.70" font-size="9" text-anchor="start" style="stroke-width:0.25px">110 <tspan font-size="8">°</tspan><tspan dx="-1.6" fill="#555" stroke="none">C</tspan></text>
<line x1="57" y1="57.8" x2="76.5" y2="57.8" stroke="#0000ff" stroke-width="1.6"/>
<circle cx="66.75" cy="57.8" r="1.8" fill="url(#g0000ff)" stroke="#0000ff" stroke-width="0.6"/>
<text x="79.00" y="61.00" font-size="9" text-anchor="start" style="stroke-width:0.25px">120 <tspan font-size="8">°</tspan><tspan dx="-1.6" fill="#555" stroke="none">C</tspan></text>
<line x1="57" y1="68.0" x2="76.5" y2="68.0" stroke="#ff00ff" stroke-width="1.6"/>
<circle cx="66.75" cy="68.0" r="1.8" fill="url(#gff00ff)" stroke="#ff00ff" stroke-width="0.6"/>
<text x="79.00" y="71.20" font-size="9" text-anchor="start" style="stroke-width:0.25px">130 <tspan font-size="8">°</tspan><tspan dx="-1.6" fill="#555" stroke="none">C</tspan></text>
<line x1="57" y1="78.0" x2="76.5" y2="78.0" stroke="#008000" stroke-width="1.6"/>
<circle cx="66.75" cy="78.0" r="1.8" fill="url(#g008000)" stroke="#008000" stroke-width="0.6"/>
<text x="79.00" y="81.20" font-size="9" text-anchor="start" style="stroke-width:0.25px">140 <tspan font-size="8">°</tspan><tspan dx="-1.6" fill="#555" stroke="none">C</tspan></text>
<clipPath id="cb"><rect x="334" y="18.3" width="202" height="162.89999999999998"/></clipPath>
<text x="291.80" y="18.20" font-size="14" text-anchor="start" letter-spacing="1">(b)</text>
<line x1="334.00" y1="181.20" x2="334.00" y2="177.70" stroke="#444444" stroke-width="0.9"/>
<text x="334.00" y="192.60" font-size="10" text-anchor="middle" >2</text>
<line x1="359.25" y1="181.20" x2="359.25" y2="179.20" stroke="#444444" stroke-width="0.9"/>
<line x1="384.50" y1="181.20" x2="384.50" y2="177.70" stroke="#444444" stroke-width="0.9"/>
<text x="384.50" y="192.60" font-size="10" text-anchor="middle" >4</text>
<line x1="409.75" y1="181.20" x2="409.75" y2="179.20" stroke="#444444" stroke-width="0.9"/>
<line x1="435.00" y1="181.20" x2="435.00" y2="177.70" stroke="#444444" stroke-width="0.9"/>
<text x="435.00" y="192.60" font-size="10" text-anchor="middle" >6</text>
<line x1="460.25" y1="181.20" x2="460.25" y2="179.20" stroke="#444444" stroke-width="0.9"/>
<line x1="485.50" y1="181.20" x2="485.50" y2="177.70" stroke="#444444" stroke-width="0.9"/>
<text x="485.50" y="192.60" font-size="10" text-anchor="middle" >8</text>
<line x1="510.75" y1="181.20" x2="510.75" y2="179.20" stroke="#444444" stroke-width="0.9"/>
<line x1="536.00" y1="181.20" x2="536.00" y2="177.70" stroke="#444444" stroke-width="0.9"/>
<text x="536.00" y="192.60" font-size="10" text-anchor="middle" >10</text>
<line x1="334.00" y1="181.20" x2="337.50" y2="181.20" stroke="#444444" stroke-width="0.9"/>
<text x="330.50" y="184.70" font-size="10" text-anchor="end" >0</text>
<line x1="334.00" y1="167.62" x2="336.00" y2="167.62" stroke="#444444" stroke-width="0.9"/>
<line x1="334.00" y1="154.05" x2="337.50" y2="154.05" stroke="#444444" stroke-width="0.9"/>
<text x="330.50" y="157.55" font-size="10" text-anchor="end" >10</text>
<line x1="334.00" y1="140.47" x2="336.00" y2="140.47" stroke="#444444" stroke-width="0.9"/>
<line x1="334.00" y1="126.90" x2="337.50" y2="126.90" stroke="#444444" stroke-width="0.9"/>
<text x="330.50" y="130.40" font-size="10" text-anchor="end" >20</text>
<line x1="334.00" y1="113.33" x2="336.00" y2="113.33" stroke="#444444" stroke-width="0.9"/>
<line x1="334.00" y1="99.75" x2="337.50" y2="99.75" stroke="#444444" stroke-width="0.9"/>
<text x="330.50" y="103.25" font-size="10" text-anchor="end" >30</text>
<line x1="334.00" y1="86.17" x2="336.00" y2="86.17" stroke="#444444" stroke-width="0.9"/>
<line x1="334.00" y1="72.60" x2="337.50" y2="72.60" stroke="#444444" stroke-width="0.9"/>
<text x="330.50" y="76.10" font-size="10" text-anchor="end" >40</text>
<line x1="334.00" y1="59.03" x2="336.00" y2="59.03" stroke="#444444" stroke-width="0.9"/>
<line x1="334.00" y1="45.45" x2="337.50" y2="45.45" stroke="#444444" stroke-width="0.9"/>
<text x="330.50" y="48.95" font-size="10" text-anchor="end" >50</text>
<line x1="334.00" y1="31.88" x2="336.00" y2="31.88" stroke="#444444" stroke-width="0.9"/>
<line x1="334.00" y1="18.30" x2="337.50" y2="18.30" stroke="#444444" stroke-width="0.9"/>
<text x="330.50" y="21.80" font-size="10" text-anchor="end" >60</text>
<rect x="334" y="18.3" width="202" height="162.89999999999998" fill="none" stroke="#444444" stroke-width="1.2"/>
<text x="435.00" y="209.00" font-size="10.1" text-anchor="middle" >Voltage (V)</text>
<text transform="translate(316.2,99.8) rotate(-90)" font-size="10.05" text-anchor="middle">Current Efficiency (cd A<tspan font-size="6.5" dy="-4">-1</tspan><tspan dy="4">)</tspan></text>
<g clip-path="url(#cb)">
<polyline points="334.00,181.20 354.20,181.20 359.20,181.00 364.30,166.80 369.40,157.70 374.50,148.00 379.50,141.70 384.60,138.20 389.60,134.80 394.60,132.40 399.70,130.20 404.70,129.60 409.80,129.60 414.80,130.70 419.90,131.30 424.90,127.40 430.00,132.90 435.00,135.10 440.10,137.30 445.10,139.40 450.20,141.60 455.20,144.00 460.30,146.20 465.30,148.60 470.40,151.00 475.40,153.00 480.50,155.00 485.50,157.00 490.60,159.00 495.60,161.00 500.70,162.70 505.70,164.60 510.80,166.50 515.80,168.50 520.90,170.50 525.90,172.80 531.00,176.20 536.00,180.50" fill="none" stroke="#000000" stroke-width="1.2" stroke-linejoin="round"/>
<circle cx="334.00" cy="181.20" r="1.85" fill="url(#g000000)" stroke="#000000" stroke-width="0.6"/>
<circle cx="339.05" cy="181.20" r="1.85" fill="url(#g000000)" stroke="#000000" stroke-width="0.6"/>
<circle cx="344.10" cy="181.20" r="1.85" fill="url(#g000000)" stroke="#000000" stroke-width="0.6"/>
<circle cx="349.15" cy="181.20" r="1.85" fill="url(#g000000)" stroke="#000000" stroke-width="0.6"/>
<circle cx="354.20" cy="181.20" r="1.85" fill="url(#g000000)" stroke="#000000" stroke-width="0.6"/>
<circle cx="359.25" cy="180.86" r="1.85" fill="url(#g000000)" stroke="#000000" stroke-width="0.6"/>
<circle cx="364.30" cy="166.80" r="1.85" fill="url(#g000000)" stroke="#000000" stroke-width="0.6"/>
<circle cx="369.35" cy="157.79" r="1.85" fill="url(#g000000)" stroke="#000000" stroke-width="0.6"/>
<circle cx="374.40" cy="148.19" r="1.85" fill="url(#g000000)" stroke="#000000" stroke-width="0.6"/>
<circle cx="379.45" cy="141.76" r="1.85" fill="url(#g000000)" stroke="#000000" stroke-width="0.6"/>
<circle cx="384.50" cy="138.27" r="1.85" fill="url(#g000000)" stroke="#000000" stroke-width="0.6"/>
<circle cx="389.55" cy="134.83" r="1.85" fill="url(#g000000)" stroke="#000000" stroke-width="0.6"/>
<circle cx="394.60" cy="132.40" r="1.85" fill="url(#g000000)" stroke="#000000" stroke-width="0.6"/>
<circle cx="399.65" cy="130.22" r="1.85" fill="url(#g000000)" stroke="#000000" stroke-width="0.6"/>
<circle cx="404.70" cy="129.60" r="1.85" fill="url(#g000000)" stroke="#000000" stroke-width="0.6"/>
<circle cx="409.75" cy="129.60" r="1.85" fill="url(#g000000)" stroke="#000000" stroke-width="0.6"/>
<circle cx="414.80" cy="130.70" r="1.85" fill="url(#g000000)" stroke="#000000" stroke-width="0.6"/>
<circle cx="419.85" cy="131.29" r="1.85" fill="url(#g000000)" stroke="#000000" stroke-width="0.6"/>
<circle cx="424.90" cy="127.40" r="1.85" fill="url(#g000000)" stroke="#000000" stroke-width="0.6"/>
<circle cx="429.95" cy="132.85" r="1.85" fill="url(#g000000)" stroke="#000000" stroke-width="0.6"/>
<circle cx="435.00" cy="135.10" r="1.85" fill="url(#g000000)" stroke="#000000" stroke-width="0.6"/>
<circle cx="440.05" cy="137.28" r="1.85" fill="url(#g000000)" stroke="#000000" stroke-width="0.6"/>
<circle cx="445.10" cy="139.40" r="1.85" fill="url(#g000000)" stroke="#000000" stroke-width="0.6"/>
<circle cx="450.15" cy="141.58" r="1.85" fill="url(#g000000)" stroke="#000000" stroke-width="0.6"/>
<circle cx="455.20" cy="144.00" r="1.85" fill="url(#g000000)" stroke="#000000" stroke-width="0.6"/>
<circle cx="460.25" cy="146.18" r="1.85" fill="url(#g000000)" stroke="#000000" stroke-width="0.6"/>
<circle cx="465.30" cy="148.60" r="1.85" fill="url(#g000000)" stroke="#000000" stroke-width="0.6"/>
<circle cx="470.35" cy="150.98" r="1.85" fill="url(#g000000)" stroke="#000000" stroke-width="0.6"/>
<circle cx="475.40" cy="153.00" r="1.85" fill="url(#g000000)" stroke="#000000" stroke-width="0.6"/>
<circle cx="480.45" cy="154.98" r="1.85" fill="url(#g000000)" stroke="#000000" stroke-width="0.6"/>
<circle cx="485.50" cy="157.00" r="1.85" fill="url(#g000000)" stroke="#000000" stroke-width="0.6"/>
<circle cx="490.55" cy="158.98" r="1.85" fill="url(#g000000)" stroke="#000000" stroke-width="0.6"/>
<circle cx="495.60" cy="161.00" r="1.85" fill="url(#g000000)" stroke="#000000" stroke-width="0.6"/>
<circle cx="500.65" cy="162.68" r="1.85" fill="url(#g000000)" stroke="#000000" stroke-width="0.6"/>
<circle cx="505.70" cy="164.60" r="1.85" fill="url(#g000000)" stroke="#000000" stroke-width="0.6"/>
<circle cx="510.75" cy="166.48" r="1.85" fill="url(#g000000)" stroke="#000000" stroke-width="0.6"/>
<circle cx="515.80" cy="168.50" r="1.85" fill="url(#g000000)" stroke="#000000" stroke-width="0.6"/>
<circle cx="520.85" cy="170.48" r="1.85" fill="url(#g000000)" stroke="#000000" stroke-width="0.6"/>
<circle cx="525.90" cy="172.80" r="1.85" fill="url(#g000000)" stroke="#000000" stroke-width="0.6"/>
<circle cx="530.95" cy="176.17" r="1.85" fill="url(#g000000)" stroke="#000000" stroke-width="0.6"/>
<circle cx="536.00" cy="180.50" r="1.85" fill="url(#g000000)" stroke="#000000" stroke-width="0.6"/>
</g>
<g clip-path="url(#cb)">
<polyline points="334.00,181.20 349.20,181.20 351.00,181.00 354.20,175.00 359.20,158.00 364.30,136.00 369.40,118.00 374.50,103.00 379.50,94.20 384.60,87.50 389.60,84.40 394.60,82.60 399.70,82.60 404.70,84.20 409.80,85.70 414.80,88.30 419.90,91.30 424.90,93.40 430.00,95.60 435.00,99.60 440.10,103.60 445.10,107.00 450.20,110.00 455.20,113.00 460.30,116.00 465.30,119.60 470.40,122.00 475.40,126.00 480.50,130.00 485.50,134.00 490.60,138.00 495.60,141.00 500.70,145.00 505.70,148.00 510.80,151.00 515.80,153.60 520.90,156.00 525.90,159.00 531.00,161.00 536.00,163.80" fill="none" stroke="#ff0000" stroke-width="1.2" stroke-linejoin="round"/>
<circle cx="334.00" cy="181.20" r="1.85" fill="url(#gff0000)" stroke="#ff0000" stroke-width="0.6"/>
<circle cx="339.05" cy="181.20" r="1.85" fill="url(#gff0000)" stroke="#ff0000" stroke-width="0.6"/>
<circle cx="344.10" cy="181.20" r="1.85" fill="url(#gff0000)" stroke="#ff0000" stroke-width="0.6"/>
<circle cx="349.15" cy="181.20" r="1.85" fill="url(#gff0000)" stroke="#ff0000" stroke-width="0.6"/>
<circle cx="354.20" cy="175.00" r="1.85" fill="url(#gff0000)" stroke="#ff0000" stroke-width="0.6"/>
<circle cx="359.25" cy="157.78" r="1.85" fill="url(#gff0000)" stroke="#ff0000" stroke-width="0.6"/>
<circle cx="364.30" cy="136.00" r="1.85" fill="url(#gff0000)" stroke="#ff0000" stroke-width="0.6"/>
<circle cx="369.35" cy="118.18" r="1.85" fill="url(#gff0000)" stroke="#ff0000" stroke-width="0.6"/>
<circle cx="374.40" cy="103.29" r="1.85" fill="url(#gff0000)" stroke="#ff0000" stroke-width="0.6"/>
<circle cx="379.45" cy="94.29" r="1.85" fill="url(#gff0000)" stroke="#ff0000" stroke-width="0.6"/>
<circle cx="384.50" cy="87.63" r="1.85" fill="url(#gff0000)" stroke="#ff0000" stroke-width="0.6"/>
<circle cx="389.55" cy="84.43" r="1.85" fill="url(#gff0000)" stroke="#ff0000" stroke-width="0.6"/>
<circle cx="394.60" cy="82.60" r="1.85" fill="url(#gff0000)" stroke="#ff0000" stroke-width="0.6"/>
<circle cx="399.65" cy="82.60" r="1.85" fill="url(#gff0000)" stroke="#ff0000" stroke-width="0.6"/>
<circle cx="404.70" cy="84.20" r="1.85" fill="url(#gff0000)" stroke="#ff0000" stroke-width="0.6"/>
<circle cx="409.75" cy="85.69" r="1.85" fill="url(#gff0000)" stroke="#ff0000" stroke-width="0.6"/>
<circle cx="414.80" cy="88.30" r="1.85" fill="url(#gff0000)" stroke="#ff0000" stroke-width="0.6"/>
<circle cx="419.85" cy="91.27" r="1.85" fill="url(#gff0000)" stroke="#ff0000" stroke-width="0.6"/>
<circle cx="424.90" cy="93.40" r="1.85" fill="url(#gff0000)" stroke="#ff0000" stroke-width="0.6"/>
<circle cx="429.95" cy="95.58" r="1.85" fill="url(#gff0000)" stroke="#ff0000" stroke-width="0.6"/>
<circle cx="435.00" cy="99.60" r="1.85" fill="url(#gff0000)" stroke="#ff0000" stroke-width="0.6"/>
<circle cx="440.05" cy="103.56" r="1.85" fill="url(#gff0000)" stroke="#ff0000" stroke-width="0.6"/>
<circle cx="445.10" cy="107.00" r="1.85" fill="url(#gff0000)" stroke="#ff0000" stroke-width="0.6"/>
<circle cx="450.15" cy="109.97" r="1.85" fill="url(#gff0000)" stroke="#ff0000" stroke-width="0.6"/>
<circle cx="455.20" cy="113.00" r="1.85" fill="url(#gff0000)" stroke="#ff0000" stroke-width="0.6"/>
<circle cx="460.25" cy="115.97" r="1.85" fill="url(#gff0000)" stroke="#ff0000" stroke-width="0.6"/>
<circle cx="465.30" cy="119.60" r="1.85" fill="url(#gff0000)" stroke="#ff0000" stroke-width="0.6"/>
<circle cx="470.35" cy="121.98" r="1.85" fill="url(#gff0000)" stroke="#ff0000" stroke-width="0.6"/>
<circle cx="475.40" cy="126.00" r="1.85" fill="url(#gff0000)" stroke="#ff0000" stroke-width="0.6"/>
<circle cx="480.45" cy="129.96" r="1.85" fill="url(#gff0000)" stroke="#ff0000" stroke-width="0.6"/>
<circle cx="485.50" cy="134.00" r="1.85" fill="url(#gff0000)" stroke="#ff0000" stroke-width="0.6"/>
<circle cx="490.55" cy="137.96" r="1.85" fill="url(#gff0000)" stroke="#ff0000" stroke-width="0.6"/>
<circle cx="495.60" cy="141.00" r="1.85" fill="url(#gff0000)" stroke="#ff0000" stroke-width="0.6"/>
<circle cx="500.65" cy="144.96" r="1.85" fill="url(#gff0000)" stroke="#ff0000" stroke-width="0.6"/>
<circle cx="505.70" cy="148.00" r="1.85" fill="url(#gff0000)" stroke="#ff0000" stroke-width="0.6"/>
<circle cx="510.75" cy="150.97" r="1.85" fill="url(#gff0000)" stroke="#ff0000" stroke-width="0.6"/>
<circle cx="515.80" cy="153.60" r="1.85" fill="url(#gff0000)" stroke="#ff0000" stroke-width="0.6"/>
<circle cx="520.85" cy="155.98" r="1.85" fill="url(#gff0000)" stroke="#ff0000" stroke-width="0.6"/>
<circle cx="525.90" cy="159.00" r="1.85" fill="url(#gff0000)" stroke="#ff0000" stroke-width="0.6"/>
<circle cx="530.95" cy="160.98" r="1.85" fill="url(#gff0000)" stroke="#ff0000" stroke-width="0.6"/>
<circle cx="536.00" cy="163.80" r="1.85" fill="url(#gff0000)" stroke="#ff0000" stroke-width="0.6"/>
</g>
<g clip-path="url(#cb)">
<polyline points="334.00,181.20 349.20,181.20 350.50,181.00 354.20,173.00 359.20,160.00 364.30,137.00 369.40,111.00 374.50,89.00 379.50,76.40 384.60,61.60 389.60,54.40 394.60,47.00 399.70,41.00 404.70,36.00 409.80,32.40 414.80,31.60 419.90,31.60 424.90,32.60 430.00,34.80 435.00,37.50 440.10,41.00 445.10,43.60 450.20,49.00 455.20,54.00 460.30,63.00 465.30,70.40 470.40,76.40 475.40,82.40 480.50,87.00 485.50,94.00 490.60,100.50 495.60,106.00 500.70,110.00 505.70,115.00 510.80,119.60 515.80,124.00 520.90,128.00 525.90,132.00 531.00,135.60 536.00,139.00" fill="none" stroke="#0000ff" stroke-width="1.2" stroke-linejoin="round"/>
<circle cx="334.00" cy="181.20" r="1.85" fill="url(#g0000ff)" stroke="#0000ff" stroke-width="0.6"/>
<circle cx="339.05" cy="181.20" r="1.85" fill="url(#g0000ff)" stroke="#0000ff" stroke-width="0.6"/>
<circle cx="344.10" cy="181.20" r="1.85" fill="url(#g0000ff)" stroke="#0000ff" stroke-width="0.6"/>
<circle cx="349.15" cy="181.20" r="1.85" fill="url(#g0000ff)" stroke="#0000ff" stroke-width="0.6"/>
<circle cx="354.20" cy="173.00" r="1.85" fill="url(#g0000ff)" stroke="#0000ff" stroke-width="0.6"/>
<circle cx="359.25" cy="159.77" r="1.85" fill="url(#g0000ff)" stroke="#0000ff" stroke-width="0.6"/>
<circle cx="364.30" cy="137.00" r="1.85" fill="url(#g0000ff)" stroke="#0000ff" stroke-width="0.6"/>
<circle cx="369.35" cy="111.25" r="1.85" fill="url(#g0000ff)" stroke="#0000ff" stroke-width="0.6"/>
<circle cx="374.40" cy="89.43" r="1.85" fill="url(#g0000ff)" stroke="#0000ff" stroke-width="0.6"/>
<circle cx="379.45" cy="76.53" r="1.85" fill="url(#g0000ff)" stroke="#0000ff" stroke-width="0.6"/>
<circle cx="384.50" cy="61.89" r="1.85" fill="url(#g0000ff)" stroke="#0000ff" stroke-width="0.6"/>
<circle cx="389.55" cy="54.47" r="1.85" fill="url(#g0000ff)" stroke="#0000ff" stroke-width="0.6"/>
<circle cx="394.60" cy="47.00" r="1.85" fill="url(#g0000ff)" stroke="#0000ff" stroke-width="0.6"/>
<circle cx="399.65" cy="41.06" r="1.85" fill="url(#g0000ff)" stroke="#0000ff" stroke-width="0.6"/>
<circle cx="404.70" cy="36.00" r="1.85" fill="url(#g0000ff)" stroke="#0000ff" stroke-width="0.6"/>
<circle cx="409.75" cy="32.44" r="1.85" fill="url(#g0000ff)" stroke="#0000ff" stroke-width="0.6"/>
<circle cx="414.80" cy="31.60" r="1.85" fill="url(#g0000ff)" stroke="#0000ff" stroke-width="0.6"/>
<circle cx="419.85" cy="31.60" r="1.85" fill="url(#g0000ff)" stroke="#0000ff" stroke-width="0.6"/>
<circle cx="424.90" cy="32.60" r="1.85" fill="url(#g0000ff)" stroke="#0000ff" stroke-width="0.6"/>
<circle cx="429.95" cy="34.78" r="1.85" fill="url(#g0000ff)" stroke="#0000ff" stroke-width="0.6"/>
<circle cx="435.00" cy="37.50" r="1.85" fill="url(#g0000ff)" stroke="#0000ff" stroke-width="0.6"/>
<circle cx="440.05" cy="40.97" r="1.85" fill="url(#g0000ff)" stroke="#0000ff" stroke-width="0.6"/>
<circle cx="445.10" cy="43.60" r="1.85" fill="url(#g0000ff)" stroke="#0000ff" stroke-width="0.6"/>
<circle cx="450.15" cy="48.95" r="1.85" fill="url(#g0000ff)" stroke="#0000ff" stroke-width="0.6"/>
<circle cx="455.20" cy="54.00" r="1.85" fill="url(#g0000ff)" stroke="#0000ff" stroke-width="0.6"/>
<circle cx="460.25" cy="62.91" r="1.85" fill="url(#g0000ff)" stroke="#0000ff" stroke-width="0.6"/>
<circle cx="465.30" cy="70.40" r="1.85" fill="url(#g0000ff)" stroke="#0000ff" stroke-width="0.6"/>
<circle cx="470.35" cy="76.34" r="1.85" fill="url(#g0000ff)" stroke="#0000ff" stroke-width="0.6"/>
<circle cx="475.40" cy="82.40" r="1.85" fill="url(#g0000ff)" stroke="#0000ff" stroke-width="0.6"/>
<circle cx="480.45" cy="86.95" r="1.85" fill="url(#g0000ff)" stroke="#0000ff" stroke-width="0.6"/>
<circle cx="485.50" cy="94.00" r="1.85" fill="url(#g0000ff)" stroke="#0000ff" stroke-width="0.6"/>
<circle cx="490.55" cy="100.44" r="1.85" fill="url(#g0000ff)" stroke="#0000ff" stroke-width="0.6"/>
<circle cx="495.60" cy="106.00" r="1.85" fill="url(#g0000ff)" stroke="#0000ff" stroke-width="0.6"/>
<circle cx="500.65" cy="109.96" r="1.85" fill="url(#g0000ff)" stroke="#0000ff" stroke-width="0.6"/>
<circle cx="505.70" cy="115.00" r="1.85" fill="url(#g0000ff)" stroke="#0000ff" stroke-width="0.6"/>
<circle cx="510.75" cy="119.55" r="1.85" fill="url(#g0000ff)" stroke="#0000ff" stroke-width="0.6"/>
<circle cx="515.80" cy="124.00" r="1.85" fill="url(#g0000ff)" stroke="#0000ff" stroke-width="0.6"/>
<circle cx="520.85" cy="127.96" r="1.85" fill="url(#g0000ff)" stroke="#0000ff" stroke-width="0.6"/>
<circle cx="525.90" cy="132.00" r="1.85" fill="url(#g0000ff)" stroke="#0000ff" stroke-width="0.6"/>
<circle cx="530.95" cy="135.56" r="1.85" fill="url(#g0000ff)" stroke="#0000ff" stroke-width="0.6"/>
<circle cx="536.00" cy="139.00" r="1.85" fill="url(#g0000ff)" stroke="#0000ff" stroke-width="0.6"/>
</g>
<g clip-path="url(#cb)">
<polyline points="334.00,181.20 354.20,181.20 355.00,181.00 359.20,172.00 364.30,157.00 369.40,139.00 374.50,124.00 379.50,115.50 384.60,110.80 389.60,105.20 394.60,101.70 399.70,98.40 404.70,95.80 409.80,93.40 414.80,94.00 419.90,87.50 424.90,91.30 430.00,94.20 435.00,96.60 440.10,99.60 445.10,103.00 450.20,105.60 455.20,108.00 460.30,111.00 465.30,113.60 470.40,115.60 475.40,119.60 480.50,122.40 485.50,125.00 490.60,128.00 495.60,131.00 500.70,133.60 505.70,136.00 510.80,139.00 515.80,141.60 520.90,144.00 525.90,146.00 531.00,148.40 536.00,151.00" fill="none" stroke="#ff00ff" stroke-width="1.2" stroke-linejoin="round"/>
<circle cx="334.00" cy="181.20" r="1.85" fill="url(#gff00ff)" stroke="#ff00ff" stroke-width="0.6"/>
<circle cx="339.05" cy="181.20" r="1.85" fill="url(#gff00ff)" stroke="#ff00ff" stroke-width="0.6"/>
<circle cx="344.10" cy="181.20" r="1.85" fill="url(#gff00ff)" stroke="#ff00ff" stroke-width="0.6"/>
<circle cx="349.15" cy="181.20" r="1.85" fill="url(#gff00ff)" stroke="#ff00ff" stroke-width="0.6"/>
<circle cx="354.20" cy="181.20" r="1.85" fill="url(#gff00ff)" stroke="#ff00ff" stroke-width="0.6"/>
<circle cx="359.25" cy="171.85" r="1.85" fill="url(#gff00ff)" stroke="#ff00ff" stroke-width="0.6"/>
<circle cx="364.30" cy="157.00" r="1.85" fill="url(#gff00ff)" stroke="#ff00ff" stroke-width="0.6"/>
<circle cx="369.35" cy="139.18" r="1.85" fill="url(#gff00ff)" stroke="#ff00ff" stroke-width="0.6"/>
<circle cx="374.40" cy="124.29" r="1.85" fill="url(#gff00ff)" stroke="#ff00ff" stroke-width="0.6"/>
<circle cx="379.45" cy="115.59" r="1.85" fill="url(#gff00ff)" stroke="#ff00ff" stroke-width="0.6"/>
<circle cx="384.50" cy="110.89" r="1.85" fill="url(#gff00ff)" stroke="#ff00ff" stroke-width="0.6"/>
<circle cx="389.55" cy="105.26" r="1.85" fill="url(#gff00ff)" stroke="#ff00ff" stroke-width="0.6"/>
<circle cx="394.60" cy="101.70" r="1.85" fill="url(#gff00ff)" stroke="#ff00ff" stroke-width="0.6"/>
<circle cx="399.65" cy="98.43" r="1.85" fill="url(#gff00ff)" stroke="#ff00ff" stroke-width="0.6"/>
<circle cx="404.70" cy="95.80" r="1.85" fill="url(#gff00ff)" stroke="#ff00ff" stroke-width="0.6"/>
<circle cx="409.75" cy="93.42" r="1.85" fill="url(#gff00ff)" stroke="#ff00ff" stroke-width="0.6"/>
<circle cx="414.80" cy="94.00" r="1.85" fill="url(#gff00ff)" stroke="#ff00ff" stroke-width="0.6"/>
<circle cx="419.85" cy="87.56" r="1.85" fill="url(#gff00ff)" stroke="#ff00ff" stroke-width="0.6"/>
<circle cx="424.90" cy="91.30" r="1.85" fill="url(#gff00ff)" stroke="#ff00ff" stroke-width="0.6"/>
<circle cx="429.95" cy="94.17" r="1.85" fill="url(#gff00ff)" stroke="#ff00ff" stroke-width="0.6"/>
<circle cx="435.00" cy="96.60" r="1.85" fill="url(#gff00ff)" stroke="#ff00ff" stroke-width="0.6"/>
<circle cx="440.05" cy="99.57" r="1.85" fill="url(#gff00ff)" stroke="#ff00ff" stroke-width="0.6"/>
<circle cx="445.10" cy="103.00" r="1.85" fill="url(#gff00ff)" stroke="#ff00ff" stroke-width="0.6"/>
<circle cx="450.15" cy="105.57" r="1.85" fill="url(#gff00ff)" stroke="#ff00ff" stroke-width="0.6"/>
<circle cx="455.20" cy="108.00" r="1.85" fill="url(#gff00ff)" stroke="#ff00ff" stroke-width="0.6"/>
<circle cx="460.25" cy="110.97" r="1.85" fill="url(#gff00ff)" stroke="#ff00ff" stroke-width="0.6"/>
<circle cx="465.30" cy="113.60" r="1.85" fill="url(#gff00ff)" stroke="#ff00ff" stroke-width="0.6"/>
<circle cx="470.35" cy="115.58" r="1.85" fill="url(#gff00ff)" stroke="#ff00ff" stroke-width="0.6"/>
<circle cx="475.40" cy="119.60" r="1.85" fill="url(#gff00ff)" stroke="#ff00ff" stroke-width="0.6"/>
<circle cx="480.45" cy="122.37" r="1.85" fill="url(#gff00ff)" stroke="#ff00ff" stroke-width="0.6"/>
<circle cx="485.50" cy="125.00" r="1.85" fill="url(#gff00ff)" stroke="#ff00ff" stroke-width="0.6"/>
<circle cx="490.55" cy="127.97" r="1.85" fill="url(#gff00ff)" stroke="#ff00ff" stroke-width="0.6"/>
<circle cx="495.60" cy="131.00" r="1.85" fill="url(#gff00ff)" stroke="#ff00ff" stroke-width="0.6"/>
<circle cx="500.65" cy="133.57" r="1.85" fill="url(#gff00ff)" stroke="#ff00ff" stroke-width="0.6"/>
<circle cx="505.70" cy="136.00" r="1.85" fill="url(#gff00ff)" stroke="#ff00ff" stroke-width="0.6"/>
<circle cx="510.75" cy="138.97" r="1.85" fill="url(#gff00ff)" stroke="#ff00ff" stroke-width="0.6"/>
<circle cx="515.80" cy="141.60" r="1.85" fill="url(#gff00ff)" stroke="#ff00ff" stroke-width="0.6"/>
<circle cx="520.85" cy="143.98" r="1.85" fill="url(#gff00ff)" stroke="#ff00ff" stroke-width="0.6"/>
<circle cx="525.90" cy="146.00" r="1.85" fill="url(#gff00ff)" stroke="#ff00ff" stroke-width="0.6"/>
<circle cx="530.95" cy="148.38" r="1.85" fill="url(#gff00ff)" stroke="#ff00ff" stroke-width="0.6"/>
<circle cx="536.00" cy="151.00" r="1.85" fill="url(#gff00ff)" stroke="#ff00ff" stroke-width="0.6"/>
</g>
<g clip-path="url(#cb)">
<polyline points="334.00,181.20 349.20,181.20 354.20,180.20 359.20,177.20 364.30,171.00 369.40,160.90 374.50,151.50 379.50,144.50 384.60,142.00 389.60,139.40 394.60,136.20 399.70,131.80 404.70,129.60 409.80,126.40 414.80,124.40 419.90,123.60 424.90,122.50 430.00,122.00 435.00,121.50 440.10,120.40 445.10,117.60 450.20,120.60 455.20,122.00 460.30,123.00 465.30,124.00 470.40,125.60 475.40,127.00 480.50,128.00 485.50,129.60 490.60,130.60 495.60,132.00 500.70,133.00 505.70,134.40 510.80,135.60 515.80,136.60 520.90,137.60 525.90,138.60 531.00,140.00 536.00,141.80" fill="none" stroke="#008000" stroke-width="1.2" stroke-linejoin="round"/>
<circle cx="334.00" cy="181.20" r="1.85" fill="url(#g008000)" stroke="#008000" stroke-width="0.6"/>
<circle cx="339.05" cy="181.20" r="1.85" fill="url(#g008000)" stroke="#008000" stroke-width="0.6"/>
<circle cx="344.10" cy="181.20" r="1.85" fill="url(#g008000)" stroke="#008000" stroke-width="0.6"/>
<circle cx="349.15" cy="181.20" r="1.85" fill="url(#g008000)" stroke="#008000" stroke-width="0.6"/>
<circle cx="354.20" cy="180.20" r="1.85" fill="url(#g008000)" stroke="#008000" stroke-width="0.6"/>
<circle cx="359.25" cy="177.14" r="1.85" fill="url(#g008000)" stroke="#008000" stroke-width="0.6"/>
<circle cx="364.30" cy="171.00" r="1.85" fill="url(#g008000)" stroke="#008000" stroke-width="0.6"/>
<circle cx="369.35" cy="161.00" r="1.85" fill="url(#g008000)" stroke="#008000" stroke-width="0.6"/>
<circle cx="374.40" cy="151.68" r="1.85" fill="url(#g008000)" stroke="#008000" stroke-width="0.6"/>
<circle cx="379.45" cy="144.57" r="1.85" fill="url(#g008000)" stroke="#008000" stroke-width="0.6"/>
<circle cx="384.50" cy="142.05" r="1.85" fill="url(#g008000)" stroke="#008000" stroke-width="0.6"/>
<circle cx="389.55" cy="139.43" r="1.85" fill="url(#g008000)" stroke="#008000" stroke-width="0.6"/>
<circle cx="394.60" cy="136.20" r="1.85" fill="url(#g008000)" stroke="#008000" stroke-width="0.6"/>
<circle cx="399.65" cy="131.84" r="1.85" fill="url(#g008000)" stroke="#008000" stroke-width="0.6"/>
<circle cx="404.70" cy="129.60" r="1.85" fill="url(#g008000)" stroke="#008000" stroke-width="0.6"/>
<circle cx="409.75" cy="126.43" r="1.85" fill="url(#g008000)" stroke="#008000" stroke-width="0.6"/>
<circle cx="414.80" cy="124.40" r="1.85" fill="url(#g008000)" stroke="#008000" stroke-width="0.6"/>
<circle cx="419.85" cy="123.61" r="1.85" fill="url(#g008000)" stroke="#008000" stroke-width="0.6"/>
<circle cx="424.90" cy="122.50" r="1.85" fill="url(#g008000)" stroke="#008000" stroke-width="0.6"/>
<circle cx="429.95" cy="122.00" r="1.85" fill="url(#g008000)" stroke="#008000" stroke-width="0.6"/>
<circle cx="435.00" cy="121.50" r="1.85" fill="url(#g008000)" stroke="#008000" stroke-width="0.6"/>
<circle cx="440.05" cy="120.41" r="1.85" fill="url(#g008000)" stroke="#008000" stroke-width="0.6"/>
<circle cx="445.10" cy="117.60" r="1.85" fill="url(#g008000)" stroke="#008000" stroke-width="0.6"/>
<circle cx="450.15" cy="120.57" r="1.85" fill="url(#g008000)" stroke="#008000" stroke-width="0.6"/>
<circle cx="455.20" cy="122.00" r="1.85" fill="url(#g008000)" stroke="#008000" stroke-width="0.6"/>
<circle cx="460.25" cy="122.99" r="1.85" fill="url(#g008000)" stroke="#008000" stroke-width="0.6"/>
<circle cx="465.30" cy="124.00" r="1.85" fill="url(#g008000)" stroke="#008000" stroke-width="0.6"/>
<circle cx="470.35" cy="125.58" r="1.85" fill="url(#g008000)" stroke="#008000" stroke-width="0.6"/>
<circle cx="475.40" cy="127.00" r="1.85" fill="url(#g008000)" stroke="#008000" stroke-width="0.6"/>
<circle cx="480.45" cy="127.99" r="1.85" fill="url(#g008000)" stroke="#008000" stroke-width="0.6"/>
<circle cx="485.50" cy="129.60" r="1.85" fill="url(#g008000)" stroke="#008000" stroke-width="0.6"/>
<circle cx="490.55" cy="130.59" r="1.85" fill="url(#g008000)" stroke="#008000" stroke-width="0.6"/>
<circle cx="495.60" cy="132.00" r="1.85" fill="url(#g008000)" stroke="#008000" stroke-width="0.6"/>
<circle cx="500.65" cy="132.99" r="1.85" fill="url(#g008000)" stroke="#008000" stroke-width="0.6"/>
<circle cx="505.70" cy="134.40" r="1.85" fill="url(#g008000)" stroke="#008000" stroke-width="0.6"/>
<circle cx="510.75" cy="135.59" r="1.85" fill="url(#g008000)" stroke="#008000" stroke-width="0.6"/>
<circle cx="515.80" cy="136.60" r="1.85" fill="url(#g008000)" stroke="#008000" stroke-width="0.6"/>
<circle cx="520.85" cy="137.59" r="1.85" fill="url(#g008000)" stroke="#008000" stroke-width="0.6"/>
<circle cx="525.90" cy="138.60" r="1.85" fill="url(#g008000)" stroke="#008000" stroke-width="0.6"/>
<circle cx="530.95" cy="139.99" r="1.85" fill="url(#g008000)" stroke="#008000" stroke-width="0.6"/>
<circle cx="536.00" cy="141.80" r="1.85" fill="url(#g008000)" stroke="#008000" stroke-width="0.6"/>
</g>
<text x="487.00" y="29.50" font-size="8.7" style="stroke-width:0.12px"><tspan font-style="italic">m</tspan>-FPEABr</text>
<line x1="487" y1="37" x2="505.5" y2="37" stroke="#000000" stroke-width="1.6"/>
<circle cx="496.25" cy="37" r="1.8" fill="url(#g000000)" stroke="#000000" stroke-width="0.6"/>
<text x="508.00" y="40.20" font-size="9" text-anchor="start" style="stroke-width:0.25px">90 <tspan font-size="8">°</tspan><tspan dx="-1.6" fill="#555" stroke="none">C</tspan></text>
<line x1="487" y1="47.2" x2="505.5" y2="47.2" stroke="#ff0000" stroke-width="1.6"/>
<circle cx="496.25" cy="47.2" r="1.8" fill="url(#gff0000)" stroke="#ff0000" stroke-width="0.6"/>
<text x="508.00" y="50.40" font-size="9" text-anchor="start" style="stroke-width:0.25px">110 <tspan font-size="8">°</tspan><tspan dx="-1.6" fill="#555" stroke="none">C</tspan></text>
<line x1="487" y1="57.4" x2="505.5" y2="57.4" stroke="#0000ff" stroke-width="1.6"/>
<circle cx="496.25" cy="57.4" r="1.8" fill="url(#g0000ff)" stroke="#0000ff" stroke-width="0.6"/>
<text x="508.00" y="60.60" font-size="9" text-anchor="start" style="stroke-width:0.25px">120 <tspan font-size="8">°</tspan><tspan dx="-1.6" fill="#555" stroke="none">C</tspan></text>
<line x1="487" y1="67.6" x2="505.5" y2="67.6" stroke="#ff00ff" stroke-width="1.6"/>
<circle cx="496.25" cy="67.6" r="1.8" fill="url(#gff00ff)" stroke="#ff00ff" stroke-width="0.6"/>
<text x="508.00" y="70.80" font-size="9" text-anchor="start" style="stroke-width:0.25px">130 <tspan font-size="8">°</tspan><tspan dx="-1.6" fill="#555" stroke="none">C</tspan></text>
<line x1="487" y1="77.8" x2="505.5" y2="77.8" stroke="#008000" stroke-width="1.6"/>
<circle cx="496.25" cy="77.8" r="1.8" fill="url(#g008000)" stroke="#008000" stroke-width="0.6"/>
<text x="508.00" y="81.00" font-size="9" text-anchor="start" style="stroke-width:0.25px">140 <tspan font-size="8">°</tspan><tspan dx="-1.6" fill="#555" stroke="none">C</tspan></text>
<text x="7.00" y="213.20" font-size="14" text-anchor="start" letter-spacing="1">(c)</text>
<line x1="46.50" y1="382.80" x2="46.50" y2="379.30" stroke="#444444" stroke-width="0.9"/>
<line x1="59.69" y1="382.80" x2="59.69" y2="381.00" stroke="#444444" stroke-width="0.9"/>
<line x1="67.40" y1="382.80" x2="67.40" y2="381.00" stroke="#444444" stroke-width="0.9"/>
<line x1="72.87" y1="382.80" x2="72.87" y2="381.00" stroke="#444444" stroke-width="0.9"/>
<line x1="77.11" y1="382.80" x2="77.11" y2="381.00" stroke="#444444" stroke-width="0.9"/>
<line x1="80.58" y1="382.80" x2="80.58" y2="381.00" stroke="#444444" stroke-width="0.9"/>
<line x1="83.52" y1="382.80" x2="83.52" y2="381.00" stroke="#444444" stroke-width="0.9"/>
<line x1="86.06" y1="382.80" x2="86.06" y2="381.00" stroke="#444444" stroke-width="0.9"/>
<line x1="88.30" y1="382.80" x2="88.30" y2="381.00" stroke="#444444" stroke-width="0.9"/>
<text x="39.49" y="396.00" font-size="10" text-anchor="start" >10</text>
<text x="50.11" y="391.00" font-size="6.1" text-anchor="start" >0</text>
<line x1="90.30" y1="382.80" x2="90.30" y2="379.30" stroke="#444444" stroke-width="0.9"/>
<line x1="103.49" y1="382.80" x2="103.49" y2="381.00" stroke="#444444" stroke-width="0.9"/>
<line x1="111.20" y1="382.80" x2="111.20" y2="381.00" stroke="#444444" stroke-width="0.9"/>
<line x1="116.67" y1="382.80" x2="116.67" y2="381.00" stroke="#444444" stroke-width="0.9"/>
<line x1="120.91" y1="382.80" x2="120.91" y2="381.00" stroke="#444444" stroke-width="0.9"/>
<line x1="124.38" y1="382.80" x2="124.38" y2="381.00" stroke="#444444" stroke-width="0.9"/>
<line x1="127.32" y1="382.80" x2="127.32" y2="381.00" stroke="#444444" stroke-width="0.9"/>
<line x1="129.86" y1="382.80" x2="129.86" y2="381.00" stroke="#444444" stroke-width="0.9"/>
<line x1="132.10" y1="382.80" x2="132.10" y2="381.00" stroke="#444444" stroke-width="0.9"/>
<text x="83.29" y="396.00" font-size="10" text-anchor="start" >10</text>
<text x="93.91" y="391.00" font-size="6.1" text-anchor="start" >1</text>
<line x1="134.10" y1="382.80" x2="134.10" y2="379.30" stroke="#444444" stroke-width="0.9"/>
<line x1="147.29" y1="382.80" x2="147.29" y2="381.00" stroke="#444444" stroke-width="0.9"/>
<line x1="155.00" y1="382.80" x2="155.00" y2="381.00" stroke="#444444" stroke-width="0.9"/>
<line x1="160.47" y1="382.80" x2="160.47" y2="381.00" stroke="#444444" stroke-width="0.9"/>
<line x1="164.71" y1="382.80" x2="164.71" y2="381.00" stroke="#444444" stroke-width="0.9"/>
<line x1="168.18" y1="382.80" x2="168.18" y2="381.00" stroke="#444444" stroke-width="0.9"/>
<line x1="171.12" y1="382.80" x2="171.12" y2="381.00" stroke="#444444" stroke-width="0.9"/>
<line x1="173.66" y1="382.80" x2="173.66" y2="381.00" stroke="#444444" stroke-width="0.9"/>
<line x1="175.90" y1="382.80" x2="175.90" y2="381.00" stroke="#444444" stroke-width="0.9"/>
<text x="127.09" y="396.00" font-size="10" text-anchor="start" >10</text>
<text x="137.71" y="391.00" font-size="6.1" text-anchor="start" >2</text>
<line x1="177.90" y1="382.80" x2="177.90" y2="379.30" stroke="#444444" stroke-width="0.9"/>
<line x1="191.09" y1="382.80" x2="191.09" y2="381.00" stroke="#444444" stroke-width="0.9"/>
<line x1="198.80" y1="382.80" x2="198.80" y2="381.00" stroke="#444444" stroke-width="0.9"/>
<line x1="204.27" y1="382.80" x2="204.27" y2="381.00" stroke="#444444" stroke-width="0.9"/>
<line x1="208.51" y1="382.80" x2="208.51" y2="381.00" stroke="#444444" stroke-width="0.9"/>
<line x1="211.98" y1="382.80" x2="211.98" y2="381.00" stroke="#444444" stroke-width="0.9"/>
<line x1="214.92" y1="382.80" x2="214.92" y2="381.00" stroke="#444444" stroke-width="0.9"/>
<line x1="217.46" y1="382.80" x2="217.46" y2="381.00" stroke="#444444" stroke-width="0.9"/>
<line x1="219.70" y1="382.80" x2="219.70" y2="381.00" stroke="#444444" stroke-width="0.9"/>
<text x="170.89" y="396.00" font-size="10" text-anchor="start" >10</text>
<text x="181.51" y="391.00" font-size="6.1" text-anchor="start" >3</text>
<line x1="221.70" y1="382.80" x2="221.70" y2="379.30" stroke="#444444" stroke-width="0.9"/>
<line x1="234.89" y1="382.80" x2="234.89" y2="381.00" stroke="#444444" stroke-width="0.9"/>
<line x1="242.60" y1="382.80" x2="242.60" y2="381.00" stroke="#444444" stroke-width="0.9"/>
<line x1="248.07" y1="382.80" x2="248.07" y2="381.00" stroke="#444444" stroke-width="0.9"/>
<line x1="252.31" y1="382.80" x2="252.31" y2="381.00" stroke="#444444" stroke-width="0.9"/>
<text x="214.69" y="396.00" font-size="10" text-anchor="start" >10</text>
<text x="225.31" y="391.00" font-size="6.1" text-anchor="start" >4</text>
<line x1="46.50" y1="382.80" x2="50.00" y2="382.80" stroke="#444444" stroke-width="0.9"/>
<text x="42.80" y="386.30" font-size="10" text-anchor="end" >0</text>
<line x1="46.50" y1="362.14" x2="48.50" y2="362.14" stroke="#444444" stroke-width="0.9"/>
<line x1="46.50" y1="341.48" x2="50.00" y2="341.48" stroke="#444444" stroke-width="0.9"/>
<text x="42.80" y="344.98" font-size="10" text-anchor="end" >5</text>
<line x1="46.50" y1="320.81" x2="48.50" y2="320.81" stroke="#444444" stroke-width="0.9"/>
<line x1="46.50" y1="300.15" x2="50.00" y2="300.15" stroke="#444444" stroke-width="0.9"/>
<text x="42.80" y="303.65" font-size="10" text-anchor="end" >10</text>
<line x1="46.50" y1="279.49" x2="48.50" y2="279.49" stroke="#444444" stroke-width="0.9"/>
<line x1="46.50" y1="258.83" x2="50.00" y2="258.83" stroke="#444444" stroke-width="0.9"/>
<text x="42.80" y="262.33" font-size="10" text-anchor="end" >15</text>
<line x1="46.50" y1="238.16" x2="48.50" y2="238.16" stroke="#444444" stroke-width="0.9"/>
<line x1="46.50" y1="217.50" x2="50.00" y2="217.50" stroke="#444444" stroke-width="0.9"/>
<text x="42.80" y="221.00" font-size="10" text-anchor="end" >20</text>
<rect x="46.5" y="217.5" width="206.0" height="165.3" fill="none" stroke="#444444" stroke-width="1.2"/>
<text x="149.5" y="412.4" font-size="10.3" text-anchor="middle">Luminance (cd m<tspan font-size="6.5" dy="-4">-2</tspan><tspan dy="4">)</tspan></text>
<text transform="translate(27.7,300) rotate(-90)" font-size="10.3" text-anchor="middle">EQE (%)</text>
<g>
<polyline points="65.30,360.30 89.70,351.90 108.00,344.90 122.00,342.10 133.70,339.00 143.80,336.90 152.40,335.00 160.30,334.40 166.80,334.40 172.60,333.50 178.00,332.50 182.70,331.10 187.00,337.10 191.60,339.80 196.20,341.80 199.50,344.40 202.80,347.00 206.10,349.70 207.40,351.60 208.10,354.50 208.70,357.60 210.00,360.20" fill="none" stroke="#000000" stroke-width="1.2" stroke-linejoin="round"/>
<circle cx="65.30" cy="360.30" r="1.65" fill="url(#g000000)" stroke="#000000" stroke-width="0.6"/>
<circle cx="89.70" cy="351.90" r="1.65" fill="url(#g000000)" stroke="#000000" stroke-width="0.6"/>
<circle cx="108.00" cy="344.90" r="1.65" fill="url(#g000000)" stroke="#000000" stroke-width="0.6"/>
<circle cx="122.00" cy="342.10" r="1.65" fill="url(#g000000)" stroke="#000000" stroke-width="0.6"/>
<circle cx="133.70" cy="339.00" r="1.65" fill="url(#g000000)" stroke="#000000" stroke-width="0.6"/>
<circle cx="143.80" cy="336.90" r="1.65" fill="url(#g000000)" stroke="#000000" stroke-width="0.6"/>
<circle cx="152.40" cy="335.00" r="1.65" fill="url(#g000000)" stroke="#000000" stroke-width="0.6"/>
<circle cx="160.30" cy="334.40" r="1.65" fill="url(#g000000)" stroke="#000000" stroke-width="0.6"/>
<circle cx="166.80" cy="334.40" r="1.65" fill="url(#g000000)" stroke="#000000" stroke-width="0.6"/>
<circle cx="172.60" cy="333.50" r="1.65" fill="url(#g000000)" stroke="#000000" stroke-width="0.6"/>
<circle cx="178.00" cy="332.50" r="1.65" fill="url(#g000000)" stroke="#000000" stroke-width="0.6"/>
<circle cx="182.70" cy="331.10" r="1.65" fill="url(#g000000)" stroke="#000000" stroke-width="0.6"/>
<circle cx="187.00" cy="337.10" r="1.65" fill="url(#g000000)" stroke="#000000" stroke-width="0.6"/>
<circle cx="191.60" cy="339.80" r="1.65" fill="url(#g000000)" stroke="#000000" stroke-width="0.6"/>
<circle cx="196.20" cy="341.80" r="1.65" fill="url(#g000000)" stroke="#000000" stroke-width="0.6"/>
<circle cx="199.50" cy="344.40" r="1.65" fill="url(#g000000)" stroke="#000000" stroke-width="0.6"/>
<circle cx="202.80" cy="347.00" r="1.65" fill="url(#g000000)" stroke="#000000" stroke-width="0.6"/>
<circle cx="206.10" cy="349.70" r="1.65" fill="url(#g000000)" stroke="#000000" stroke-width="0.6"/>
<circle cx="207.40" cy="351.60" r="1.65" fill="url(#g000000)" stroke="#000000" stroke-width="0.6"/>
<circle cx="208.10" cy="354.50" r="1.65" fill="url(#g000000)" stroke="#000000" stroke-width="0.6"/>
<circle cx="208.70" cy="357.60" r="1.65" fill="url(#g000000)" stroke="#000000" stroke-width="0.6"/>
<circle cx="210.00" cy="360.20" r="1.65" fill="url(#g000000)" stroke="#000000" stroke-width="0.6"/>
</g>
<g>
<polyline points="53.30,342.00 81.30,323.80 102.90,309.20 120.80,301.30 135.20,294.00 146.70,291.10 156.00,288.20 163.90,290.10 170.40,290.10 176.90,291.50 181.50,294.00 186.30,295.60 190.30,297.40 194.20,301.10 198.20,305.00 202.10,308.30 205.40,313.00 209.40,317.60 212.00,322.20 214.70,326.80 216.00,331.90 218.00,337.10 219.30,341.80 222.60,343.70 223.20,348.30" fill="none" stroke="#ff0000" stroke-width="1.2" stroke-linejoin="round"/>
<circle cx="53.30" cy="342.00" r="1.65" fill="url(#gff0000)" stroke="#ff0000" stroke-width="0.6"/>
<circle cx="81.30" cy="323.80" r="1.65" fill="url(#gff0000)" stroke="#ff0000" stroke-width="0.6"/>
<circle cx="102.90" cy="309.20" r="1.65" fill="url(#gff0000)" stroke="#ff0000" stroke-width="0.6"/>
<circle cx="120.80" cy="301.30" r="1.65" fill="url(#gff0000)" stroke="#ff0000" stroke-width="0.6"/>
<circle cx="135.20" cy="294.00" r="1.65" fill="url(#gff0000)" stroke="#ff0000" stroke-width="0.6"/>
<circle cx="146.70" cy="291.10" r="1.65" fill="url(#gff0000)" stroke="#ff0000" stroke-width="0.6"/>
<circle cx="156.00" cy="288.20" r="1.65" fill="url(#gff0000)" stroke="#ff0000" stroke-width="0.6"/>
<circle cx="163.90" cy="290.10" r="1.65" fill="url(#gff0000)" stroke="#ff0000" stroke-width="0.6"/>
<circle cx="170.40" cy="290.10" r="1.65" fill="url(#gff0000)" stroke="#ff0000" stroke-width="0.6"/>
<circle cx="176.90" cy="291.50" r="1.65" fill="url(#gff0000)" stroke="#ff0000" stroke-width="0.6"/>
<circle cx="181.50" cy="294.00" r="1.65" fill="url(#gff0000)" stroke="#ff0000" stroke-width="0.6"/>
<circle cx="186.30" cy="295.60" r="1.65" fill="url(#gff0000)" stroke="#ff0000" stroke-width="0.6"/>
<circle cx="190.30" cy="297.40" r="1.65" fill="url(#gff0000)" stroke="#ff0000" stroke-width="0.6"/>
<circle cx="194.20" cy="301.10" r="1.65" fill="url(#gff0000)" stroke="#ff0000" stroke-width="0.6"/>
<circle cx="198.20" cy="305.00" r="1.65" fill="url(#gff0000)" stroke="#ff0000" stroke-width="0.6"/>
<circle cx="202.10" cy="308.30" r="1.65" fill="url(#gff0000)" stroke="#ff0000" stroke-width="0.6"/>
<circle cx="205.40" cy="313.00" r="1.65" fill="url(#gff0000)" stroke="#ff0000" stroke-width="0.6"/>
<circle cx="209.40" cy="317.60" r="1.65" fill="url(#gff0000)" stroke="#ff0000" stroke-width="0.6"/>
<circle cx="212.00" cy="322.20" r="1.65" fill="url(#gff0000)" stroke="#ff0000" stroke-width="0.6"/>
<circle cx="214.70" cy="326.80" r="1.65" fill="url(#gff0000)" stroke="#ff0000" stroke-width="0.6"/>
<circle cx="216.00" cy="331.90" r="1.65" fill="url(#gff0000)" stroke="#ff0000" stroke-width="0.6"/>
<circle cx="218.00" cy="337.10" r="1.65" fill="url(#gff0000)" stroke="#ff0000" stroke-width="0.6"/>
<circle cx="219.30" cy="341.80" r="1.65" fill="url(#gff0000)" stroke="#ff0000" stroke-width="0.6"/>
<circle cx="222.60" cy="343.70" r="1.65" fill="url(#gff0000)" stroke="#ff0000" stroke-width="0.6"/>
<circle cx="223.20" cy="348.30" r="1.65" fill="url(#gff0000)" stroke="#ff0000" stroke-width="0.6"/>
</g>
<g>
<polyline points="78.00,318.20 101.80,299.40 120.10,285.80 135.00,274.60 146.40,267.60 156.40,259.40 164.60,253.50 171.60,248.80 177.50,246.20 182.80,244.00 187.00,244.90 191.00,246.90 194.50,248.20 197.60,249.90 200.20,251.50 202.40,255.40 205.50,262.40 207.70,266.00 210.80,270.00 213.80,273.90 214.50,280.60 215.60,285.90 216.60,291.90 218.60,295.80 219.50,303.70 220.30,308.30 221.30,313.00 221.90,318.20 222.60,323.00 223.20,327.50 223.90,330.50 224.30,333.50" fill="none" stroke="#0000ff" stroke-width="1.2" stroke-linejoin="round"/>
<circle cx="78.00" cy="318.20" r="1.65" fill="url(#g0000ff)" stroke="#0000ff" stroke-width="0.6"/>
<circle cx="101.80" cy="299.40" r="1.65" fill="url(#g0000ff)" stroke="#0000ff" stroke-width="0.6"/>
<circle cx="120.10" cy="285.80" r="1.65" fill="url(#g0000ff)" stroke="#0000ff" stroke-width="0.6"/>
<circle cx="135.00" cy="274.60" r="1.65" fill="url(#g0000ff)" stroke="#0000ff" stroke-width="0.6"/>
<circle cx="146.40" cy="267.60" r="1.65" fill="url(#g0000ff)" stroke="#0000ff" stroke-width="0.6"/>
<circle cx="156.40" cy="259.40" r="1.65" fill="url(#g0000ff)" stroke="#0000ff" stroke-width="0.6"/>
<circle cx="164.60" cy="253.50" r="1.65" fill="url(#g0000ff)" stroke="#0000ff" stroke-width="0.6"/>
<circle cx="171.60" cy="248.80" r="1.65" fill="url(#g0000ff)" stroke="#0000ff" stroke-width="0.6"/>
<circle cx="177.50" cy="246.20" r="1.65" fill="url(#g0000ff)" stroke="#0000ff" stroke-width="0.6"/>
<circle cx="182.80" cy="244.00" r="1.65" fill="url(#g0000ff)" stroke="#0000ff" stroke-width="0.6"/>
<circle cx="187.00" cy="244.90" r="1.65" fill="url(#g0000ff)" stroke="#0000ff" stroke-width="0.6"/>
<circle cx="191.00" cy="246.90" r="1.65" fill="url(#g0000ff)" stroke="#0000ff" stroke-width="0.6"/>
<circle cx="194.50" cy="248.20" r="1.65" fill="url(#g0000ff)" stroke="#0000ff" stroke-width="0.6"/>
<circle cx="197.60" cy="249.90" r="1.65" fill="url(#g0000ff)" stroke="#0000ff" stroke-width="0.6"/>
<circle cx="200.20" cy="251.50" r="1.65" fill="url(#g0000ff)" stroke="#0000ff" stroke-width="0.6"/>
<circle cx="202.40" cy="255.40" r="1.65" fill="url(#g0000ff)" stroke="#0000ff" stroke-width="0.6"/>
<circle cx="205.50" cy="262.40" r="1.65" fill="url(#g0000ff)" stroke="#0000ff" stroke-width="0.6"/>
<circle cx="207.70" cy="266.00" r="1.65" fill="url(#g0000ff)" stroke="#0000ff" stroke-width="0.6"/>
<circle cx="210.80" cy="270.00" r="1.65" fill="url(#g0000ff)" stroke="#0000ff" stroke-width="0.6"/>
<circle cx="213.80" cy="273.90" r="1.65" fill="url(#g0000ff)" stroke="#0000ff" stroke-width="0.6"/>
<circle cx="214.50" cy="280.60" r="1.65" fill="url(#g0000ff)" stroke="#0000ff" stroke-width="0.6"/>
<circle cx="215.60" cy="285.90" r="1.65" fill="url(#g0000ff)" stroke="#0000ff" stroke-width="0.6"/>
<circle cx="216.60" cy="291.90" r="1.65" fill="url(#g0000ff)" stroke="#0000ff" stroke-width="0.6"/>
<circle cx="218.60" cy="295.80" r="1.65" fill="url(#g0000ff)" stroke="#0000ff" stroke-width="0.6"/>
<circle cx="219.50" cy="303.70" r="1.65" fill="url(#g0000ff)" stroke="#0000ff" stroke-width="0.6"/>
<circle cx="220.30" cy="308.30" r="1.65" fill="url(#g0000ff)" stroke="#0000ff" stroke-width="0.6"/>
<circle cx="221.30" cy="313.00" r="1.65" fill="url(#g0000ff)" stroke="#0000ff" stroke-width="0.6"/>
<circle cx="221.90" cy="318.20" r="1.65" fill="url(#g0000ff)" stroke="#0000ff" stroke-width="0.6"/>
<circle cx="222.60" cy="323.00" r="1.65" fill="url(#g0000ff)" stroke="#0000ff" stroke-width="0.6"/>
<circle cx="223.20" cy="327.50" r="1.65" fill="url(#g0000ff)" stroke="#0000ff" stroke-width="0.6"/>
<circle cx="223.90" cy="330.50" r="1.65" fill="url(#g0000ff)" stroke="#0000ff" stroke-width="0.6"/>
<circle cx="224.30" cy="333.50" r="1.65" fill="url(#g0000ff)" stroke="#0000ff" stroke-width="0.6"/>
</g>
<g>
<polyline points="71.50,346.30 96.70,332.20 115.70,325.30 128.70,321.00 140.90,317.10 151.70,312.80 160.30,309.50 168.30,307.40 175.20,306.60 180.90,306.60 187.70,300.20 190.30,301.10 194.20,303.70 198.20,306.40 203.50,308.30 208.10,311.60 212.70,314.30 216.60,317.60 220.60,320.90 223.90,324.20 226.50,328.80 228.50,333.80 230.50,338.50 231.80,343.10 232.50,347.70 233.50,353.60" fill="none" stroke="#ff00ff" stroke-width="1.2" stroke-linejoin="round"/>
<circle cx="71.50" cy="346.30" r="1.65" fill="url(#gff00ff)" stroke="#ff00ff" stroke-width="0.6"/>
<circle cx="96.70" cy="332.20" r="1.65" fill="url(#gff00ff)" stroke="#ff00ff" stroke-width="0.6"/>
<circle cx="115.70" cy="325.30" r="1.65" fill="url(#gff00ff)" stroke="#ff00ff" stroke-width="0.6"/>
<circle cx="128.70" cy="321.00" r="1.65" fill="url(#gff00ff)" stroke="#ff00ff" stroke-width="0.6"/>
<circle cx="140.90" cy="317.10" r="1.65" fill="url(#gff00ff)" stroke="#ff00ff" stroke-width="0.6"/>
<circle cx="151.70" cy="312.80" r="1.65" fill="url(#gff00ff)" stroke="#ff00ff" stroke-width="0.6"/>
<circle cx="160.30" cy="309.50" r="1.65" fill="url(#gff00ff)" stroke="#ff00ff" stroke-width="0.6"/>
<circle cx="168.30" cy="307.40" r="1.65" fill="url(#gff00ff)" stroke="#ff00ff" stroke-width="0.6"/>
<circle cx="175.20" cy="306.60" r="1.65" fill="url(#gff00ff)" stroke="#ff00ff" stroke-width="0.6"/>
<circle cx="180.90" cy="306.60" r="1.65" fill="url(#gff00ff)" stroke="#ff00ff" stroke-width="0.6"/>
<circle cx="187.70" cy="300.20" r="1.65" fill="url(#gff00ff)" stroke="#ff00ff" stroke-width="0.6"/>
<circle cx="190.30" cy="301.10" r="1.65" fill="url(#gff00ff)" stroke="#ff00ff" stroke-width="0.6"/>
<circle cx="194.20" cy="303.70" r="1.65" fill="url(#gff00ff)" stroke="#ff00ff" stroke-width="0.6"/>
<circle cx="198.20" cy="306.40" r="1.65" fill="url(#gff00ff)" stroke="#ff00ff" stroke-width="0.6"/>
<circle cx="203.50" cy="308.30" r="1.65" fill="url(#gff00ff)" stroke="#ff00ff" stroke-width="0.6"/>
<circle cx="208.10" cy="311.60" r="1.65" fill="url(#gff00ff)" stroke="#ff00ff" stroke-width="0.6"/>
<circle cx="212.70" cy="314.30" r="1.65" fill="url(#gff00ff)" stroke="#ff00ff" stroke-width="0.6"/>
<circle cx="216.60" cy="317.60" r="1.65" fill="url(#gff00ff)" stroke="#ff00ff" stroke-width="0.6"/>
<circle cx="220.60" cy="320.90" r="1.65" fill="url(#gff00ff)" stroke="#ff00ff" stroke-width="0.6"/>
<circle cx="223.90" cy="324.20" r="1.65" fill="url(#gff00ff)" stroke="#ff00ff" stroke-width="0.6"/>
<circle cx="226.50" cy="328.80" r="1.65" fill="url(#gff00ff)" stroke="#ff00ff" stroke-width="0.6"/>
<circle cx="227.50" cy="331.30" r="1.65" fill="url(#gff00ff)" stroke="#ff00ff" stroke-width="0.6"/>
<circle cx="228.50" cy="333.80" r="1.65" fill="url(#gff00ff)" stroke="#ff00ff" stroke-width="0.6"/>
<circle cx="229.50" cy="336.15" r="1.65" fill="url(#gff00ff)" stroke="#ff00ff" stroke-width="0.6"/>
<circle cx="230.50" cy="338.50" r="1.65" fill="url(#gff00ff)" stroke="#ff00ff" stroke-width="0.6"/>
<circle cx="231.15" cy="340.80" r="1.65" fill="url(#gff00ff)" stroke="#ff00ff" stroke-width="0.6"/>
<circle cx="231.80" cy="343.10" r="1.65" fill="url(#gff00ff)" stroke="#ff00ff" stroke-width="0.6"/>
<circle cx="232.15" cy="345.40" r="1.65" fill="url(#gff00ff)" stroke="#ff00ff" stroke-width="0.6"/>
<circle cx="232.50" cy="347.70" r="1.65" fill="url(#gff00ff)" stroke="#ff00ff" stroke-width="0.6"/>
<circle cx="232.83" cy="349.67" r="1.65" fill="url(#gff00ff)" stroke="#ff00ff" stroke-width="0.6"/>
<circle cx="233.17" cy="351.63" r="1.65" fill="url(#gff00ff)" stroke="#ff00ff" stroke-width="0.6"/>
<circle cx="233.50" cy="353.60" r="1.65" fill="url(#gff00ff)" stroke="#ff00ff" stroke-width="0.6"/>
</g>
<g>
<polyline points="58.90,365.10 86.90,356.10 105.20,351.90 119.20,350.50 131.80,347.70 143.00,344.00 155.30,339.00 162.50,337.60 168.30,336.10 174.00,335.40 179.80,334.00 185.70,333.80 189.60,332.50 193.60,331.90 198.20,331.60 202.10,330.30 206.10,328.20 209.40,331.90 213.30,331.90 216.60,331.90 219.30,334.50 223.20,336.50 227.20,338.50 231.10,340.40 234.40,343.10 237.70,347.00 240.10,351.00 241.40,354.90 241.70,358.20" fill="none" stroke="#008000" stroke-width="1.2" stroke-linejoin="round"/>
<circle cx="58.90" cy="365.10" r="1.65" fill="url(#g008000)" stroke="#008000" stroke-width="0.6"/>
<circle cx="86.90" cy="356.10" r="1.65" fill="url(#g008000)" stroke="#008000" stroke-width="0.6"/>
<circle cx="105.20" cy="351.90" r="1.65" fill="url(#g008000)" stroke="#008000" stroke-width="0.6"/>
<circle cx="119.20" cy="350.50" r="1.65" fill="url(#g008000)" stroke="#008000" stroke-width="0.6"/>
<circle cx="131.80" cy="347.70" r="1.65" fill="url(#g008000)" stroke="#008000" stroke-width="0.6"/>
<circle cx="143.00" cy="344.00" r="1.65" fill="url(#g008000)" stroke="#008000" stroke-width="0.6"/>
<circle cx="155.30" cy="339.00" r="1.65" fill="url(#g008000)" stroke="#008000" stroke-width="0.6"/>
<circle cx="162.50" cy="337.60" r="1.65" fill="url(#g008000)" stroke="#008000" stroke-width="0.6"/>
<circle cx="168.30" cy="336.10" r="1.65" fill="url(#g008000)" stroke="#008000" stroke-width="0.6"/>
<circle cx="174.00" cy="335.40" r="1.65" fill="url(#g008000)" stroke="#008000" stroke-width="0.6"/>
<circle cx="179.80" cy="334.00" r="1.65" fill="url(#g008000)" stroke="#008000" stroke-width="0.6"/>
<circle cx="185.70" cy="333.80" r="1.65" fill="url(#g008000)" stroke="#008000" stroke-width="0.6"/>
<circle cx="189.60" cy="332.50" r="1.65" fill="url(#g008000)" stroke="#008000" stroke-width="0.6"/>
<circle cx="193.60" cy="331.90" r="1.65" fill="url(#g008000)" stroke="#008000" stroke-width="0.6"/>
<circle cx="198.20" cy="331.60" r="1.65" fill="url(#g008000)" stroke="#008000" stroke-width="0.6"/>
<circle cx="202.10" cy="330.30" r="1.65" fill="url(#g008000)" stroke="#008000" stroke-width="0.6"/>
<circle cx="206.10" cy="328.20" r="1.65" fill="url(#g008000)" stroke="#008000" stroke-width="0.6"/>
<circle cx="209.40" cy="331.90" r="1.65" fill="url(#g008000)" stroke="#008000" stroke-width="0.6"/>
<circle cx="213.30" cy="331.90" r="1.65" fill="url(#g008000)" stroke="#008000" stroke-width="0.6"/>
<circle cx="216.60" cy="331.90" r="1.65" fill="url(#g008000)" stroke="#008000" stroke-width="0.6"/>
<circle cx="217.95" cy="333.20" r="1.65" fill="url(#g008000)" stroke="#008000" stroke-width="0.6"/>
<circle cx="219.30" cy="334.50" r="1.65" fill="url(#g008000)" stroke="#008000" stroke-width="0.6"/>
<circle cx="221.25" cy="335.50" r="1.65" fill="url(#g008000)" stroke="#008000" stroke-width="0.6"/>
<circle cx="223.20" cy="336.50" r="1.65" fill="url(#g008000)" stroke="#008000" stroke-width="0.6"/>
<circle cx="225.20" cy="337.50" r="1.65" fill="url(#g008000)" stroke="#008000" stroke-width="0.6"/>
<circle cx="227.20" cy="338.50" r="1.65" fill="url(#g008000)" stroke="#008000" stroke-width="0.6"/>
<circle cx="229.15" cy="339.45" r="1.65" fill="url(#g008000)" stroke="#008000" stroke-width="0.6"/>
<circle cx="231.10" cy="340.40" r="1.65" fill="url(#g008000)" stroke="#008000" stroke-width="0.6"/>
<circle cx="232.75" cy="341.75" r="1.65" fill="url(#g008000)" stroke="#008000" stroke-width="0.6"/>
<circle cx="234.40" cy="343.10" r="1.65" fill="url(#g008000)" stroke="#008000" stroke-width="0.6"/>
<circle cx="235.50" cy="344.40" r="1.65" fill="url(#g008000)" stroke="#008000" stroke-width="0.6"/>
<circle cx="236.60" cy="345.70" r="1.65" fill="url(#g008000)" stroke="#008000" stroke-width="0.6"/>
<circle cx="237.70" cy="347.00" r="1.65" fill="url(#g008000)" stroke="#008000" stroke-width="0.6"/>
<circle cx="238.90" cy="349.00" r="1.65" fill="url(#g008000)" stroke="#008000" stroke-width="0.6"/>
<circle cx="240.10" cy="351.00" r="1.65" fill="url(#g008000)" stroke="#008000" stroke-width="0.6"/>
<circle cx="240.75" cy="352.95" r="1.65" fill="url(#g008000)" stroke="#008000" stroke-width="0.6"/>
<circle cx="241.40" cy="354.90" r="1.65" fill="url(#g008000)" stroke="#008000" stroke-width="0.6"/>
<circle cx="241.70" cy="358.20" r="1.65" fill="url(#g008000)" stroke="#008000" stroke-width="0.6"/>
</g>
<text x="49.30" y="228.70" font-size="8.7" style="stroke-width:0.12px"><tspan font-style="italic">m</tspan>-FPEABr</text>
<line x1="49.3" y1="235.6" x2="69.5" y2="235.6" stroke="#000000" stroke-width="1.6"/>
<circle cx="59.40" cy="235.6" r="1.8" fill="url(#g000000)" stroke="#000000" stroke-width="0.6"/>
<text x="71.00" y="238.80" font-size="9" text-anchor="start" style="stroke-width:0.25px">90 <tspan font-size="8">°</tspan><tspan dx="-1.6" fill="#555" stroke="none">C</tspan></text>
<line x1="49.3" y1="246.2" x2="69.5" y2="246.2" stroke="#ff0000" stroke-width="1.6"/>
<circle cx="59.40" cy="246.2" r="1.8" fill="url(#gff0000)" stroke="#ff0000" stroke-width="0.6"/>
<text x="71.00" y="249.40" font-size="9" text-anchor="start" style="stroke-width:0.25px">110<tspan font-size="8">°</tspan><tspan dx="-1.6" fill="#555" stroke="none">C</tspan></text>
<line x1="49.3" y1="256.8" x2="69.5" y2="256.8" stroke="#0000ff" stroke-width="1.6"/>
<circle cx="59.40" cy="256.8" r="1.8" fill="url(#g0000ff)" stroke="#0000ff" stroke-width="0.6"/>
<text x="71.00" y="260.00" font-size="9" text-anchor="start" style="stroke-width:0.25px">120<tspan font-size="8">°</tspan><tspan dx="-1.6" fill="#555" stroke="none">C</tspan></text>
<line x1="49.3" y1="267.2" x2="69.5" y2="267.2" stroke="#ff00ff" stroke-width="1.6"/>
<circle cx="59.40" cy="267.2" r="1.8" fill="url(#gff00ff)" stroke="#ff00ff" stroke-width="0.6"/>
<text x="71.00" y="270.40" font-size="9" text-anchor="start" style="stroke-width:0.25px">130 <tspan font-size="8">°</tspan><tspan dx="-1.6" fill="#555" stroke="none">C</tspan></text>
<line x1="49.3" y1="277.6" x2="69.5" y2="277.6" stroke="#008000" stroke-width="1.6"/>
<circle cx="59.40" cy="277.6" r="1.8" fill="url(#g008000)" stroke="#008000" stroke-width="0.6"/>
<text x="71.00" y="280.80" font-size="9" text-anchor="start" style="stroke-width:0.25px">140 <tspan font-size="8">°</tspan><tspan dx="-1.6" fill="#555" stroke="none">C</tspan></text>
<text x="291.50" y="213.20" font-size="14" text-anchor="start" letter-spacing="1">(d)</text>
<line x1="331.50" y1="381.30" x2="331.50" y2="377.80" stroke="#444444" stroke-width="0.9"/>
<text x="331.50" y="392.60" font-size="10" text-anchor="middle" >460</text>
<line x1="348.70" y1="381.30" x2="348.70" y2="379.30" stroke="#444444" stroke-width="0.9"/>
<line x1="365.90" y1="381.30" x2="365.90" y2="377.80" stroke="#444444" stroke-width="0.9"/>
<text x="365.90" y="392.60" font-size="10" text-anchor="middle" >480</text>
<line x1="383.10" y1="381.30" x2="383.10" y2="379.30" stroke="#444444" stroke-width="0.9"/>
<line x1="400.30" y1="381.30" x2="400.30" y2="377.80" stroke="#444444" stroke-width="0.9"/>
<text x="400.30" y="392.60" font-size="10" text-anchor="middle" >500</text>
<line x1="417.50" y1="381.30" x2="417.50" y2="379.30" stroke="#444444" stroke-width="0.9"/>
<line x1="434.70" y1="381.30" x2="434.70" y2="377.80" stroke="#444444" stroke-width="0.9"/>
<text x="434.70" y="392.60" font-size="10" text-anchor="middle" >520</text>
<line x1="451.90" y1="381.30" x2="451.90" y2="379.30" stroke="#444444" stroke-width="0.9"/>
<line x1="469.10" y1="381.30" x2="469.10" y2="377.80" stroke="#444444" stroke-width="0.9"/>
<text x="469.10" y="392.60" font-size="10" text-anchor="middle" >540</text>
<line x1="486.30" y1="381.30" x2="486.30" y2="379.30" stroke="#444444" stroke-width="0.9"/>
<line x1="503.50" y1="381.30" x2="503.50" y2="377.80" stroke="#444444" stroke-width="0.9"/>
<text x="503.50" y="392.60" font-size="10" text-anchor="middle" >560</text>
<line x1="520.70" y1="381.30" x2="520.70" y2="379.30" stroke="#444444" stroke-width="0.9"/>
<line x1="537.90" y1="381.30" x2="537.90" y2="377.80" stroke="#444444" stroke-width="0.9"/>
<text x="537.90" y="392.60" font-size="10" text-anchor="middle" >580</text>
<line x1="331.50" y1="381.14" x2="333.50" y2="381.14" stroke="#444444" stroke-width="0.9"/>
<line x1="331.50" y1="367.20" x2="335.00" y2="367.20" stroke="#444444" stroke-width="0.9"/>
<text x="327.50" y="370.70" font-size="10" text-anchor="end" >0.0</text>
<line x1="331.50" y1="353.26" x2="333.50" y2="353.26" stroke="#444444" stroke-width="0.9"/>
<line x1="331.50" y1="339.32" x2="335.00" y2="339.32" stroke="#444444" stroke-width="0.9"/>
<text x="327.50" y="342.82" font-size="10" text-anchor="end" >0.2</text>
<line x1="331.50" y1="325.38" x2="333.50" y2="325.38" stroke="#444444" stroke-width="0.9"/>
<line x1="331.50" y1="311.44" x2="335.00" y2="311.44" stroke="#444444" stroke-width="0.9"/>
<text x="327.50" y="314.94" font-size="10" text-anchor="end" >0.4</text>
<line x1="331.50" y1="297.50" x2="333.50" y2="297.50" stroke="#444444" stroke-width="0.9"/>
<line x1="331.50" y1="283.56" x2="335.00" y2="283.56" stroke="#444444" stroke-width="0.9"/>
<text x="327.50" y="287.06" font-size="10" text-anchor="end" >0.6</text>
<line x1="331.50" y1="269.62" x2="333.50" y2="269.62" stroke="#444444" stroke-width="0.9"/>
<line x1="331.50" y1="255.68" x2="335.00" y2="255.68" stroke="#444444" stroke-width="0.9"/>
<text x="327.50" y="259.18" font-size="10" text-anchor="end" >0.8</text>
<line x1="331.50" y1="241.74" x2="333.50" y2="241.74" stroke="#444444" stroke-width="0.9"/>
<line x1="331.50" y1="227.80" x2="335.00" y2="227.80" stroke="#444444" stroke-width="0.9"/>
<text x="327.50" y="231.30" font-size="10" text-anchor="end" >1.0</text>
<line x1="331.50" y1="213.86" x2="333.50" y2="213.86" stroke="#444444" stroke-width="0.9"/>
<rect x="331.5" y="214.0" width="206.39999999999998" height="167.3" fill="none" stroke="#444444" stroke-width="1.2"/>
<text x="434.80" y="410.00" font-size="10.3" text-anchor="middle" >Wavelength (nm)</text>
<text transform="translate(308.8,297.6) rotate(-90)" font-size="10.3" text-anchor="middle">Normalised EL (a.u.)</text>
<polyline points="331.50,367.19 331.75,367.19 332.00,367.19 332.25,367.19 332.50,367.19 332.75,367.19 333.00,367.19 333.25,367.19 333.50,367.19 333.75,367.19 334.00,367.19 334.25,367.19 334.50,367.19 334.75,367.19 335.00,367.19 335.25,367.19 335.50,367.19 335.75,367.19 336.00,367.19 336.25,367.19 336.50,367.19 336.75,367.19 337.00,367.19 337.25,367.19 337.50,367.19 337.75,367.19 338.00,367.19 338.25,367.19 338.50,367.19 338.75,367.19 339.00,367.18 339.25,367.18 339.50,367.18 339.75,367.18 340.00,367.18 340.25,367.18 340.50,367.18 340.75,367.18 341.00,367.18 341.25,367.18 341.50,367.18 341.75,367.18 342.00,367.18 342.25,367.18 342.50,367.18 342.75,367.18 343.00,367.18 343.25,367.17 343.50,367.17 343.75,367.17 344.00,367.17 344.25,367.17 344.50,367.17 344.75,367.17 345.00,367.17 345.25,367.17 345.50,367.17 345.75,367.17 346.00,367.16 346.25,367.16 346.50,367.16 346.75,367.16 347.00,367.16 347.25,367.16 347.50,367.16 347.75,367.16 348.00,367.15 348.25,367.15 348.50,367.15 348.75,367.15 349.00,367.15 349.25,367.15 349.50,367.15 349.75,367.14 350.00,367.14 350.25,367.14 350.50,367.14 350.75,367.14 351.00,367.13 351.25,367.13 351.50,367.13 351.75,367.13 352.00,367.13 352.25,367.12 352.50,367.12 352.75,367.12 353.00,367.12 353.25,367.11 353.50,367.11 353.75,367.11 354.00,367.11 354.25,367.10 354.50,367.10 354.75,367.10 355.00,367.09 355.25,367.09 355.50,367.09 355.75,367.08 356.00,367.08 356.25,367.08 356.50,367.07 356.75,367.07 357.00,367.06 357.25,367.06 357.50,367.05 357.75,367.05 358.00,367.05 358.25,367.04 358.50,367.04 358.75,367.03 359.00,367.03 359.25,367.02 359.50,367.01 359.75,367.01 360.00,367.00 360.25,367.00 360.50,366.99 360.75,366.98 361.00,366.98 361.25,366.97 361.50,366.96 361.75,366.96 362.00,366.95 362.25,366.94 362.50,366.93 362.75,366.92 363.00,366.92 363.25,366.91 363.50,366.90 363.75,366.89 364.00,366.88 364.25,366.87 364.50,366.86 364.75,366.85 365.00,366.84 365.25,366.83 365.50,366.82 365.75,366.80 366.00,366.79 366.25,366.78 366.50,366.77 366.75,366.75 367.00,366.74 367.25,366.72 367.50,366.71 367.75,366.69 368.00,366.68 368.25,366.66 368.50,366.65 368.75,366.63 369.00,366.61 369.25,366.59 369.50,366.57 369.75,366.55 370.00,366.54 370.25,366.51 370.50,366.49 370.75,366.47 371.00,366.45 371.25,366.43 371.50,366.40 371.75,366.38 372.00,366.35 372.25,366.33 372.50,366.30 372.75,366.27 373.00,366.24 373.25,366.21 373.50,366.18 373.75,366.15 374.00,366.12 374.25,366.09 374.50,366.05 374.75,366.02 375.00,365.98 375.25,365.94 375.50,365.90 375.75,365.86 376.00,365.82 376.25,365.78 376.50,365.74 376.75,365.69 377.00,365.65 377.25,365.60 377.50,365.55 377.75,365.50 378.00,365.45 378.25,365.39 378.50,365.34 378.75,365.28 379.00,365.22 379.25,365.16 379.50,365.10 379.75,365.03 380.00,364.97 380.25,364.90 380.50,364.83 380.75,364.76 381.00,364.68 381.25,364.61 381.50,364.53 381.75,364.45 382.00,364.36 382.25,364.27 382.50,364.19 382.75,364.09 383.00,364.00 383.25,363.90 383.50,363.80 383.75,363.70 384.00,363.59 384.25,363.48 384.50,363.37 384.75,363.25 385.00,363.13 385.25,363.01 385.50,362.88 385.75,362.75 386.00,362.62 386.25,362.48 386.50,362.34 386.75,362.19 387.00,362.04 387.25,361.88 387.50,361.72 387.75,361.56 388.00,361.39 388.25,361.21 388.50,361.03 388.75,360.85 389.00,360.66 389.25,360.46 389.50,360.26 389.75,360.05 390.00,359.84 390.25,359.62 390.50,359.39 390.75,359.16 391.00,358.92 391.25,358.67 391.50,358.42 391.75,358.16 392.00,357.89 392.25,357.62 392.50,357.33 392.75,357.04 393.00,356.74 393.25,356.44 393.50,356.12 393.75,355.79 394.00,355.46 394.25,355.12 394.50,354.76 394.75,354.40 395.00,354.03 395.25,353.64 395.50,353.25 395.75,352.85 396.00,352.43 396.25,352.01 396.50,351.57 396.75,351.12 397.00,350.66 397.25,350.19 397.50,349.70 397.75,349.20 398.00,348.69 398.25,348.17 398.50,347.63 398.75,347.07 399.00,346.51 399.25,345.93 399.50,345.33 399.75,344.72 400.00,344.10 400.25,343.46 400.50,342.80 400.75,342.13 401.00,341.44 401.25,340.73 401.50,340.01 401.75,339.27 402.00,338.52 402.25,337.74 402.50,336.95 402.75,336.14 403.00,335.31 403.25,334.47 403.50,333.60 403.75,332.72 404.00,331.82 404.25,330.89 404.50,329.95 404.75,328.99 405.00,328.01 405.25,327.01 405.50,325.99 405.75,324.95 406.00,323.89 406.25,322.81 406.50,321.71 406.75,320.58 407.00,319.44 407.25,318.28 407.50,317.10 407.75,315.90 408.00,314.68 408.25,313.43 408.50,312.17 408.75,310.89 409.00,309.59 409.25,308.27 409.50,306.94 409.75,305.58 410.00,304.21 410.25,302.82 410.50,301.41 410.75,299.99 411.00,298.55 411.25,297.10 411.50,295.63 411.75,294.14 412.00,292.65 412.25,291.14 412.50,289.62 412.75,288.09 413.00,286.55 413.25,285.00 413.50,283.44 413.75,281.88 414.00,280.31 414.25,278.74 414.50,277.16 414.75,275.58 415.00,274.00 415.25,272.42 415.50,270.85 415.75,269.27 416.00,267.71 416.25,266.15 416.50,264.59 416.75,263.05 417.00,261.52 417.25,260.00 417.50,258.49 417.75,257.00 418.00,255.53 418.25,254.08 418.50,252.65 418.75,251.25 419.00,249.86 419.25,248.51 419.50,247.18 419.75,245.89 420.00,244.62 420.25,243.39 420.50,242.20 420.75,241.04 421.00,239.93 421.25,238.85 421.50,237.81 421.75,236.82 422.00,235.87 422.25,234.97 422.50,234.12 422.75,233.32 423.00,232.56 423.25,231.86 423.50,231.21 423.75,230.62 424.00,230.08 424.25,229.59 424.50,229.17 424.75,228.80 425.00,228.48 425.25,228.23 425.50,228.03 425.75,227.90 426.00,227.82 426.25,227.80 426.50,227.84 426.75,227.92 427.00,228.06 427.25,228.25 427.50,228.49 427.75,228.78 428.00,229.11 428.25,229.50 428.50,229.93 428.75,230.41 429.00,230.93 429.25,231.49 429.50,232.10 429.75,232.75 430.00,233.44 430.25,234.17 430.50,234.93 430.75,235.73 431.00,236.57 431.25,237.43 431.50,238.33 431.75,239.25 432.00,240.20 432.25,241.18 432.50,242.18 432.75,243.20 433.00,244.25 433.25,245.31 433.50,246.39 433.75,247.49 434.00,248.60 434.25,249.72 434.50,250.86 434.75,252.00 435.00,253.16 435.25,254.32 435.50,255.49 435.75,256.67 436.00,257.85 436.25,259.03 436.50,260.21 436.75,261.40 437.00,262.59 437.25,263.77 437.50,264.96 437.75,266.14 438.00,267.32 438.25,268.50 438.50,269.67 438.75,270.84 439.00,272.00 439.25,273.16 439.50,274.31 439.75,275.45 440.00,276.59 440.25,277.72 440.50,278.84 440.75,279.95 441.00,281.05 441.25,282.15 441.50,283.24 441.75,284.31 442.00,285.38 442.25,286.44 442.50,287.48 442.75,288.52 443.00,289.55 443.25,290.56 443.50,291.57 443.75,292.57 444.00,293.55 444.25,294.53 444.50,295.49 444.75,296.44 445.00,297.39 445.25,298.32 445.50,299.24 445.75,300.15 446.00,301.05 446.25,301.94 446.50,302.82 446.75,303.68 447.00,304.54 447.25,305.39 447.50,306.23 447.75,307.05 448.00,307.87 448.25,308.67 448.50,309.47 448.75,310.26 449.00,311.03 449.25,311.80 449.50,312.55 449.75,313.30 450.00,314.03 450.25,314.76 450.50,315.48 450.75,316.19 451.00,316.89 451.25,317.58 451.50,318.26 451.75,318.93 452.00,319.59 452.25,320.24 452.50,320.89 452.75,321.53 453.00,322.15 453.25,322.77 453.50,323.39 453.75,323.99 454.00,324.58 454.25,325.17 454.50,325.75 454.75,326.32 455.00,326.88 455.25,327.44 455.50,327.99 455.75,328.53 456.00,329.06 456.25,329.59 456.50,330.11 456.75,330.62 457.00,331.13 457.25,331.62 457.50,332.11 457.75,332.60 458.00,333.08 458.25,333.55 458.50,334.01 458.75,334.47 459.00,334.93 459.25,335.37 459.50,335.81 459.75,336.25 460.00,336.67 460.25,337.10 460.50,337.51 460.75,337.92 461.00,338.33 461.25,338.73 461.50,339.12 461.75,339.51 462.00,339.89 462.25,340.27 462.50,340.64 462.75,341.01 463.00,341.37 463.25,341.73 463.50,342.08 463.75,342.43 464.00,342.77 464.25,343.11 464.50,343.44 464.75,343.77 465.00,344.10 465.25,344.42 465.50,344.73 465.75,345.04 466.00,345.35 466.25,345.65 466.50,345.95 466.75,346.25 467.00,346.54 467.25,346.82 467.50,347.10 467.75,347.38 468.00,347.66 468.25,347.93 468.50,348.19 468.75,348.46 469.00,348.72 469.25,348.97 469.50,349.23 469.75,349.47 470.00,349.72 470.25,349.96 470.50,350.20 470.75,350.44 471.00,350.67 471.25,350.90 471.50,351.12 471.75,351.35 472.00,351.56 472.25,351.78 472.50,351.99 472.75,352.21 473.00,352.41 473.25,352.62 473.50,352.82 473.75,353.02 474.00,353.22 474.25,353.41 474.50,353.60 474.75,353.79 475.00,353.97 475.25,354.16 475.50,354.34 475.75,354.52 476.00,354.69 476.25,354.87 476.50,355.04 476.75,355.20 477.00,355.37 477.25,355.53 477.50,355.70 477.75,355.86 478.00,356.01 478.25,356.17 478.50,356.32 478.75,356.47 479.00,356.62 479.25,356.77 479.50,356.91 479.75,357.05 480.00,357.19 480.25,357.33 480.50,357.47 480.75,357.60 481.00,357.74 481.25,357.87 481.50,358.00 481.75,358.12 482.00,358.25 482.25,358.37 482.50,358.50 482.75,358.62 483.00,358.74 483.25,358.85 483.50,358.97 483.75,359.08 484.00,359.19 484.25,359.31 484.50,359.42 484.75,359.52 485.00,359.63 485.25,359.73 485.50,359.84 485.75,359.94 486.00,360.04 486.25,360.14 486.50,360.24 486.75,360.33 487.00,360.43 487.25,360.52 487.50,360.61 487.75,360.71 488.00,360.80 488.25,360.88 488.50,360.97 488.75,361.06 489.00,361.14 489.25,361.23 489.50,361.31 489.75,361.39 490.00,361.47 490.25,361.55 490.50,361.63 490.75,361.71 491.00,361.78 491.25,361.86 491.50,361.93 491.75,362.00 492.00,362.08 492.25,362.15 492.50,362.22 492.75,362.29 493.00,362.35 493.25,362.42 493.50,362.49 493.75,362.55 494.00,362.62 494.25,362.68 494.50,362.74 494.75,362.81 495.00,362.87 495.25,362.93 495.50,362.99 495.75,363.04 496.00,363.10 496.25,363.16 496.50,363.21 496.75,363.27 497.00,363.32 497.25,363.38 497.50,363.43 497.75,363.48 498.00,363.53 498.25,363.59 498.50,363.64 498.75,363.68 499.00,363.73 499.25,363.78 499.50,363.83 499.75,363.88 500.00,363.92 500.25,363.97 500.50,364.01 500.75,364.06 501.00,364.10 501.25,364.14 501.50,364.18 501.75,364.23 502.00,364.27 502.25,364.31 502.50,364.35 502.75,364.39 503.00,364.43 503.25,364.46 503.50,364.50 503.75,364.54 504.00,364.58 504.25,364.61 504.50,364.65 504.75,364.68 505.00,364.72 505.25,364.75 505.50,364.79 505.75,364.82 506.00,364.85 506.25,364.89 506.50,364.92 506.75,364.95 507.00,364.98 507.25,365.01 507.50,365.04 507.75,365.07 508.00,365.10 508.25,365.13 508.50,365.16 508.75,365.19 509.00,365.22 509.25,365.24 509.50,365.27 509.75,365.30 510.00,365.32 510.25,365.35 510.50,365.37 510.75,365.40 511.00,365.43 511.25,365.45 511.50,365.47 511.75,365.50 512.00,365.52 512.25,365.54 512.50,365.57 512.75,365.59 513.00,365.61 513.25,365.63 513.50,365.66 513.75,365.68 514.00,365.70 514.25,365.72 514.50,365.74 514.75,365.76 515.00,365.78 515.25,365.80 515.50,365.82 515.75,365.84 516.00,365.86 516.25,365.88 516.50,365.89 516.75,365.91 517.00,365.93 517.25,365.95 517.50,365.96 517.75,365.98 518.00,366.00 518.25,366.02 518.50,366.03 518.75,366.05 519.00,366.06 519.25,366.08 519.50,366.10 519.75,366.11 520.00,366.13 520.25,366.14 520.50,366.16 520.75,366.17 521.00,366.18 521.25,366.20 521.50,366.21 521.75,366.23 522.00,366.24 522.25,366.25 522.50,366.27 522.75,366.28 523.00,366.29 523.25,366.30 523.50,366.32 523.75,366.33 524.00,366.34 524.25,366.35 524.50,366.36 524.75,366.38 525.00,366.39 525.25,366.40 525.50,366.41 525.75,366.42 526.00,366.43 526.25,366.44 526.50,366.45 526.75,366.46 527.00,366.47 527.25,366.48 527.50,366.49 527.75,366.50 528.00,366.51 528.25,366.52 528.50,366.53 528.75,366.54 529.00,366.55 529.25,366.56 529.50,366.57 529.75,366.58 530.00,366.59 530.25,366.59 530.50,366.60 530.75,366.61 531.00,366.62 531.25,366.63 531.50,366.63 531.75,366.64 532.00,366.65 532.25,366.66 532.50,366.67 532.75,366.67 533.00,366.68 533.25,366.69 533.50,366.69 533.75,366.70 534.00,366.71 534.25,366.71 534.50,366.72 534.75,366.73 535.00,366.73 535.25,366.74 535.50,366.75 535.75,366.75 536.00,366.76 536.25,366.77 536.50,366.77 536.75,366.78 537.00,366.78 537.25,366.79 537.50,366.80 537.75,366.80" fill="none" stroke="#000000" stroke-width="1.4" stroke-linejoin="round"/>
<polyline points="331.50,367.17 331.75,367.17 332.00,367.17 332.25,367.17 332.50,367.17 332.75,367.17 333.00,367.17 333.25,367.17 333.50,367.17 333.75,367.17 334.00,367.16 334.25,367.16 334.50,367.16 334.75,367.16 335.00,367.16 335.25,367.16 335.50,367.16 335.75,367.16 336.00,367.16 336.25,367.15 336.50,367.15 336.75,367.15 337.00,367.15 337.25,367.15 337.50,367.15 337.75,367.15 338.00,367.15 338.25,367.14 338.50,367.14 338.75,367.14 339.00,367.14 339.25,367.14 339.50,367.14 339.75,367.14 340.00,367.13 340.25,367.13 340.50,367.13 340.75,367.13 341.00,367.13 341.25,367.12 341.50,367.12 341.75,367.12 342.00,367.12 342.25,367.12 342.50,367.11 342.75,367.11 343.00,367.11 343.25,367.11 343.50,367.10 343.75,367.10 344.00,367.10 344.25,367.10 344.50,367.09 344.75,367.09 345.00,367.09 345.25,367.09 345.50,367.08 345.75,367.08 346.00,367.08 346.25,367.07 346.50,367.07 346.75,367.07 347.00,367.06 347.25,367.06 347.50,367.06 347.75,367.05 348.00,367.05 348.25,367.04 348.50,367.04 348.75,367.04 349.00,367.03 349.25,367.03 349.50,367.02 349.75,367.02 350.00,367.01 350.25,367.01 350.50,367.00 350.75,367.00 351.00,366.99 351.25,366.99 351.50,366.98 351.75,366.98 352.00,366.97 352.25,366.96 352.50,366.96 352.75,366.95 353.00,366.94 353.25,366.94 353.50,366.93 353.75,366.92 354.00,366.92 354.25,366.91 354.50,366.90 354.75,366.89 355.00,366.89 355.25,366.88 355.50,366.87 355.75,366.86 356.00,366.85 356.25,366.84 356.50,366.83 356.75,366.82 357.00,366.81 357.25,366.80 357.50,366.79 357.75,366.78 358.00,366.77 358.25,366.76 358.50,366.75 358.75,366.74 359.00,366.72 359.25,366.71 359.50,366.70 359.75,366.69 360.00,366.67 360.25,366.66 360.50,366.64 360.75,366.63 361.00,366.61 361.25,366.60 361.50,366.58 361.75,366.57 362.00,366.55 362.25,366.53 362.50,366.52 362.75,366.50 363.00,366.48 363.25,366.46 363.50,366.44 363.75,366.42 364.00,366.40 364.25,366.38 364.50,366.36 364.75,366.34 365.00,366.31 365.25,366.29 365.50,366.27 365.75,366.24 366.00,366.22 366.25,366.19 366.50,366.17 366.75,366.14 367.00,366.11 367.25,366.08 367.50,366.05 367.75,366.02 368.00,365.99 368.25,365.96 368.50,365.93 368.75,365.89 369.00,365.86 369.25,365.83 369.50,365.79 369.75,365.75 370.00,365.71 370.25,365.68 370.50,365.64 370.75,365.59 371.00,365.55 371.25,365.51 371.50,365.47 371.75,365.42 372.00,365.37 372.25,365.33 372.50,365.28 372.75,365.23 373.00,365.17 373.25,365.12 373.50,365.07 373.75,365.01 374.00,364.95 374.25,364.90 374.50,364.84 374.75,364.77 375.00,364.71 375.25,364.64 375.50,364.58 375.75,364.51 376.00,364.44 376.25,364.37 376.50,364.29 376.75,364.22 377.00,364.14 377.25,364.06 377.50,363.98 377.75,363.89 378.00,363.81 378.25,363.72 378.50,363.63 378.75,363.53 379.00,363.44 379.25,363.34 379.50,363.24 379.75,363.14 380.00,363.03 380.25,362.92 380.50,362.81 380.75,362.69 381.00,362.58 381.25,362.46 381.50,362.33 381.75,362.21 382.00,362.08 382.25,361.94 382.50,361.81 382.75,361.67 383.00,361.52 383.25,361.37 383.50,361.22 383.75,361.07 384.00,360.91 384.25,360.74 384.50,360.58 384.75,360.40 385.00,360.23 385.25,360.05 385.50,359.86 385.75,359.67 386.00,359.48 386.25,359.28 386.50,359.07 386.75,358.86 387.00,358.64 387.25,358.42 387.50,358.20 387.75,357.96 388.00,357.73 388.25,357.48 388.50,357.23 388.75,356.97 389.00,356.71 389.25,356.44 389.50,356.16 389.75,355.88 390.00,355.59 390.25,355.29 390.50,354.98 390.75,354.67 391.00,354.35 391.25,354.02 391.50,353.68 391.75,353.34 392.00,352.98 392.25,352.62 392.50,352.25 392.75,351.87 393.00,351.48 393.25,351.08 393.50,350.67 393.75,350.25 394.00,349.82 394.25,349.38 394.50,348.93 394.75,348.47 395.00,347.99 395.25,347.51 395.50,347.01 395.75,346.51 396.00,345.99 396.25,345.46 396.50,344.91 396.75,344.36 397.00,343.79 397.25,343.20 397.50,342.61 397.75,342.00 398.00,341.38 398.25,340.74 398.50,340.09 398.75,339.42 399.00,338.74 399.25,338.04 399.50,337.33 399.75,336.60 400.00,335.86 400.25,335.10 400.50,334.32 400.75,333.53 401.00,332.72 401.25,331.90 401.50,331.05 401.75,330.19 402.00,329.32 402.25,328.42 402.50,327.51 402.75,326.57 403.00,325.63 403.25,324.66 403.50,323.67 403.75,322.66 404.00,321.64 404.25,320.60 404.50,319.54 404.75,318.45 405.00,317.35 405.25,316.24 405.50,315.10 405.75,313.94 406.00,312.77 406.25,311.57 406.50,310.36 406.75,309.13 407.00,307.88 407.25,306.61 407.50,305.32 407.75,304.02 408.00,302.69 408.25,301.36 408.50,300.00 408.75,298.63 409.00,297.24 409.25,295.84 409.50,294.42 409.75,292.99 410.00,291.54 410.25,290.08 410.50,288.61 410.75,287.13 411.00,285.63 411.25,284.13 411.50,282.62 411.75,281.10 412.00,279.57 412.25,278.04 412.50,276.50 412.75,274.96 413.00,273.42 413.25,271.87 413.50,270.33 413.75,268.79 414.00,267.25 414.25,265.72 414.50,264.19 414.75,262.67 415.00,261.16 415.25,259.66 415.50,258.17 415.75,256.70 416.00,255.24 416.25,253.81 416.50,252.39 416.75,250.99 417.00,249.62 417.25,248.28 417.50,246.96 417.75,245.67 418.00,244.41 418.25,243.18 418.50,241.99 418.75,240.84 419.00,239.72 419.25,238.65 419.50,237.61 419.75,236.62 420.00,235.68 420.25,234.78 420.50,233.93 420.75,233.13 421.00,232.38 421.25,231.69 421.50,231.05 421.75,230.46 422.00,229.93 422.25,229.46 422.50,229.04 422.75,228.69 423.00,228.39 423.25,228.15 423.50,227.98 423.75,227.86 424.00,227.80 424.25,227.81 424.50,227.86 424.75,227.96 425.00,228.10 425.25,228.30 425.50,228.53 425.75,228.82 426.00,229.15 426.25,229.52 426.50,229.94 426.75,230.40 427.00,230.90 427.25,231.44 427.50,232.02 427.75,232.65 428.00,233.31 428.25,234.00 428.50,234.73 428.75,235.50 429.00,236.30 429.25,237.12 429.50,237.98 429.75,238.87 430.00,239.79 430.25,240.73 430.50,241.69 430.75,242.68 431.00,243.69 431.25,244.73 431.50,245.78 431.75,246.84 432.00,247.93 432.25,249.03 432.50,250.14 432.75,251.26 433.00,252.40 433.25,253.55 433.50,254.70 433.75,255.87 434.00,257.04 434.25,258.21 434.50,259.39 434.75,260.57 435.00,261.76 435.25,262.95 435.50,264.14 435.75,265.33 436.00,266.52 436.25,267.70 436.50,268.89 436.75,270.07 437.00,271.25 437.25,272.42 437.50,273.59 437.75,274.75 438.00,275.91 438.25,277.07 438.50,278.21 438.75,279.35 439.00,280.48 439.25,281.60 439.50,282.72 439.75,283.83 440.00,284.92 440.25,286.01 440.50,287.09 440.75,288.16 441.00,289.22 441.25,290.27 441.50,291.32 441.75,292.35 442.00,293.37 442.25,294.38 442.50,295.38 442.75,296.36 443.00,297.34 443.25,298.31 443.50,299.27 443.75,300.21 444.00,301.15 444.25,302.07 444.50,302.98 444.75,303.89 445.00,304.78 445.25,305.66 445.50,306.53 445.75,307.39 446.00,308.24 446.25,309.08 446.50,309.90 446.75,310.72 447.00,311.53 447.25,312.32 447.50,313.11 447.75,313.89 448.00,314.65 448.25,315.41 448.50,316.15 448.75,316.89 449.00,317.61 449.25,318.33 449.50,319.03 449.75,319.73 450.00,320.42 450.25,321.09 450.50,321.76 450.75,322.42 451.00,323.07 451.25,323.71 451.50,324.34 451.75,324.97 452.00,325.58 452.25,326.19 452.50,326.79 452.75,327.37 453.00,327.96 453.25,328.53 453.50,329.09 453.75,329.65 454.00,330.20 454.25,330.74 454.50,331.27 454.75,331.80 455.00,332.31 455.25,332.82 455.50,333.33 455.75,333.82 456.00,334.31 456.25,334.79 456.50,335.27 456.75,335.74 457.00,336.20 457.25,336.65 457.50,337.10 457.75,337.54 458.00,337.98 458.25,338.41 458.50,338.83 458.75,339.25 459.00,339.66 459.25,340.06 459.50,340.46 459.75,340.85 460.00,341.24 460.25,341.62 460.50,342.00 460.75,342.37 461.00,342.73 461.25,343.09 461.50,343.45 461.75,343.80 462.00,344.14 462.25,344.48 462.50,344.81 462.75,345.14 463.00,345.47 463.25,345.79 463.50,346.10 463.75,346.41 464.00,346.72 464.25,347.02 464.50,347.32 464.75,347.61 465.00,347.90 465.25,348.18 465.50,348.46 465.75,348.74 466.00,349.01 466.25,349.28 466.50,349.54 466.75,349.80 467.00,350.06 467.25,350.31 467.50,350.56 467.75,350.80 468.00,351.04 468.25,351.28 468.50,351.52 468.75,351.75 469.00,351.98 469.25,352.20 469.50,352.42 469.75,352.64 470.00,352.85 470.25,353.06 470.50,353.27 470.75,353.48 471.00,353.68 471.25,353.88 471.50,354.08 471.75,354.27 472.00,354.46 472.25,354.65 472.50,354.83 472.75,355.01 473.00,355.19 473.25,355.37 473.50,355.54 473.75,355.72 474.00,355.89 474.25,356.05 474.50,356.22 474.75,356.38 475.00,356.54 475.25,356.69 475.50,356.85 475.75,357.00 476.00,357.15 476.25,357.30 476.50,357.45 476.75,357.59 477.00,357.73 477.25,357.87 477.50,358.01 477.75,358.14 478.00,358.28 478.25,358.41 478.50,358.54 478.75,358.67 479.00,358.79 479.25,358.92 479.50,359.04 479.75,359.16 480.00,359.28 480.25,359.39 480.50,359.51 480.75,359.62 481.00,359.73 481.25,359.84 481.50,359.95 481.75,360.06 482.00,360.16 482.25,360.27 482.50,360.37 482.75,360.47 483.00,360.57 483.25,360.67 483.50,360.76 483.75,360.86 484.00,360.95 484.25,361.04 484.50,361.13 484.75,361.22 485.00,361.31 485.25,361.40 485.50,361.48 485.75,361.57 486.00,361.65 486.25,361.73 486.50,361.81 486.75,361.89 487.00,361.97 487.25,362.05 487.50,362.12 487.75,362.20 488.00,362.27 488.25,362.35 488.50,362.42 488.75,362.49 489.00,362.56 489.25,362.62 489.50,362.69 489.75,362.76 490.00,362.82 490.25,362.89 490.50,362.95 490.75,363.01 491.00,363.08 491.25,363.14 491.50,363.20 491.75,363.26 492.00,363.31 492.25,363.37 492.50,363.43 492.75,363.48 493.00,363.54 493.25,363.59 493.50,363.65 493.75,363.70 494.00,363.75 494.25,363.80 494.50,363.85 494.75,363.90 495.00,363.95 495.25,364.00 495.50,364.04 495.75,364.09 496.00,364.14 496.25,364.18 496.50,364.23 496.75,364.27 497.00,364.31 497.25,364.35 497.50,364.40 497.75,364.44 498.00,364.48 498.25,364.52 498.50,364.56 498.75,364.60 499.00,364.64 499.25,364.67 499.50,364.71 499.75,364.75 500.00,364.78 500.25,364.82 500.50,364.85 500.75,364.89 501.00,364.92 501.25,364.96 501.50,364.99 501.75,365.02 502.00,365.05 502.25,365.09 502.50,365.12 502.75,365.15 503.00,365.18 503.25,365.21 503.50,365.24 503.75,365.27 504.00,365.29 504.25,365.32 504.50,365.35 504.75,365.38 505.00,365.40 505.25,365.43 505.50,365.46 505.75,365.48 506.00,365.51 506.25,365.53 506.50,365.56 506.75,365.58 507.00,365.61 507.25,365.63 507.50,365.65 507.75,365.67 508.00,365.70 508.25,365.72 508.50,365.74 508.75,365.76 509.00,365.78 509.25,365.80 509.50,365.83 509.75,365.85 510.00,365.87 510.25,365.89 510.50,365.90 510.75,365.92 511.00,365.94 511.25,365.96 511.50,365.98 511.75,366.00 512.00,366.02 512.25,366.03 512.50,366.05 512.75,366.07 513.00,366.08 513.25,366.10 513.50,366.12 513.75,366.13 514.00,366.15 514.25,366.16 514.50,366.18 514.75,366.19 515.00,366.21 515.25,366.22 515.50,366.24 515.75,366.25 516.00,366.27 516.25,366.28 516.50,366.29 516.75,366.31 517.00,366.32 517.25,366.33 517.50,366.35 517.75,366.36 518.00,366.37 518.25,366.38 518.50,366.39 518.75,366.41 519.00,366.42 519.25,366.43 519.50,366.44 519.75,366.45 520.00,366.46 520.25,366.47 520.50,366.48 520.75,366.50 521.00,366.51 521.25,366.52 521.50,366.53 521.75,366.54 522.00,366.55 522.25,366.56 522.50,366.56 522.75,366.57 523.00,366.58 523.25,366.59 523.50,366.60 523.75,366.61 524.00,366.62 524.25,366.63 524.50,366.64 524.75,366.64 525.00,366.65 525.25,366.66 525.50,366.67 525.75,366.68 526.00,366.68 526.25,366.69 526.50,366.70 526.75,366.71 527.00,366.71 527.25,366.72 527.50,366.73 527.75,366.73 528.00,366.74 528.25,366.75 528.50,366.76 528.75,366.76 529.00,366.77 529.25,366.77 529.50,366.78 529.75,366.79 530.00,366.79 530.25,366.80 530.50,366.80 530.75,366.81 531.00,366.82 531.25,366.82 531.50,366.83 531.75,366.83 532.00,366.84 532.25,366.84 532.50,366.85 532.75,366.85 533.00,366.86 533.25,366.86 533.50,366.87 533.75,366.87 534.00,366.88 534.25,366.88 534.50,366.89 534.75,366.89 535.00,366.90 535.25,366.90 535.50,366.91 535.75,366.91 536.00,366.92 536.25,366.92 536.50,366.92 536.75,366.93 537.00,366.93 537.25,366.94 537.50,366.94 537.75,366.94" fill="none" stroke="#ff0000" stroke-width="1.4" stroke-linejoin="round"/>
<polyline points="331.50,367.19 331.75,367.19 332.00,367.19 332.25,367.19 332.50,367.19 332.75,367.19 333.00,367.19 333.25,367.19 333.50,367.19 333.75,367.19 334.00,367.19 334.25,367.19 334.50,367.19 334.75,367.19 335.00,367.19 335.25,367.19 335.50,367.19 335.75,367.19 336.00,367.19 336.25,367.19 336.50,367.19 336.75,367.19 337.00,367.19 337.25,367.19 337.50,367.19 337.75,367.19 338.00,367.19 338.25,367.19 338.50,367.19 338.75,367.19 339.00,367.19 339.25,367.18 339.50,367.18 339.75,367.18 340.00,367.18 340.25,367.18 340.50,367.18 340.75,367.18 341.00,367.18 341.25,367.18 341.50,367.18 341.75,367.18 342.00,367.18 342.25,367.18 342.50,367.18 342.75,367.18 343.00,367.18 343.25,367.18 343.50,367.17 343.75,367.17 344.00,367.17 344.25,367.17 344.50,367.17 344.75,367.17 345.00,367.17 345.25,367.17 345.50,367.17 345.75,367.17 346.00,367.17 346.25,367.16 346.50,367.16 346.75,367.16 347.00,367.16 347.25,367.16 347.50,367.16 347.75,367.16 348.00,367.16 348.25,367.15 348.50,367.15 348.75,367.15 349.00,367.15 349.25,367.15 349.50,367.15 349.75,367.14 350.00,367.14 350.25,367.14 350.50,367.14 350.75,367.14 351.00,367.14 351.25,367.13 351.50,367.13 351.75,367.13 352.00,367.13 352.25,367.13 352.50,367.12 352.75,367.12 353.00,367.12 353.25,367.12 353.50,367.11 353.75,367.11 354.00,367.11 354.25,367.10 354.50,367.10 354.75,367.10 355.00,367.10 355.25,367.09 355.50,367.09 355.75,367.09 356.00,367.08 356.25,367.08 356.50,367.07 356.75,367.07 357.00,367.07 357.25,367.06 357.50,367.06 357.75,367.05 358.00,367.05 358.25,367.04 358.50,367.04 358.75,367.03 359.00,367.03 359.25,367.02 359.50,367.02 359.75,367.01 360.00,367.01 360.25,367.00 360.50,367.00 360.75,366.99 361.00,366.98 361.25,366.98 361.50,366.97 361.75,366.96 362.00,366.95 362.25,366.95 362.50,366.94 362.75,366.93 363.00,366.92 363.25,366.91 363.50,366.91 363.75,366.90 364.00,366.89 364.25,366.88 364.50,366.87 364.75,366.86 365.00,366.85 365.25,366.84 365.50,366.82 365.75,366.81 366.00,366.80 366.25,366.79 366.50,366.78 366.75,366.76 367.00,366.75 367.25,366.74 367.50,366.72 367.75,366.71 368.00,366.69 368.25,366.68 368.50,366.66 368.75,366.64 369.00,366.63 369.25,366.61 369.50,366.59 369.75,366.57 370.00,366.55 370.25,366.53 370.50,366.51 370.75,366.49 371.00,366.47 371.25,366.44 371.50,366.42 371.75,366.40 372.00,366.37 372.25,366.35 372.50,366.32 372.75,366.29 373.00,366.27 373.25,366.24 373.50,366.21 373.75,366.18 374.00,366.15 374.25,366.11 374.50,366.08 374.75,366.05 375.00,366.01 375.25,365.97 375.50,365.94 375.75,365.90 376.00,365.86 376.25,365.82 376.50,365.77 376.75,365.73 377.00,365.68 377.25,365.64 377.50,365.59 377.75,365.54 378.00,365.49 378.25,365.44 378.50,365.38 378.75,365.33 379.00,365.27 379.25,365.21 379.50,365.15 379.75,365.09 380.00,365.02 380.25,364.96 380.50,364.89 380.75,364.82 381.00,364.74 381.25,364.67 381.50,364.59 381.75,364.51 382.00,364.43 382.25,364.34 382.50,364.26 382.75,364.17 383.00,364.08 383.25,363.98 383.50,363.88 383.75,363.78 384.00,363.68 384.25,363.57 384.50,363.46 384.75,363.35 385.00,363.23 385.25,363.11 385.50,362.98 385.75,362.86 386.00,362.73 386.25,362.59 386.50,362.45 386.75,362.31 387.00,362.16 387.25,362.01 387.50,361.85 387.75,361.69 388.00,361.52 388.25,361.35 388.50,361.18 388.75,361.00 389.00,360.81 389.25,360.62 389.50,360.42 389.75,360.22 390.00,360.01 390.25,359.79 390.50,359.57 390.75,359.35 391.00,359.11 391.25,358.87 391.50,358.62 391.75,358.37 392.00,358.11 392.25,357.84 392.50,357.56 392.75,357.28 393.00,356.98 393.25,356.68 393.50,356.37 393.75,356.05 394.00,355.73 394.25,355.39 394.50,355.05 394.75,354.69 395.00,354.33 395.25,353.95 395.50,353.57 395.75,353.17 396.00,352.77 396.25,352.35 396.50,351.92 396.75,351.48 397.00,351.03 397.25,350.57 397.50,350.09 397.75,349.60 398.00,349.10 398.25,348.59 398.50,348.06 398.75,347.52 399.00,346.96 399.25,346.39 399.50,345.81 399.75,345.21 400.00,344.60 400.25,343.97 400.50,343.33 400.75,342.67 401.00,341.99 401.25,341.30 401.50,340.59 401.75,339.87 402.00,339.12 402.25,338.36 402.50,337.59 402.75,336.79 403.00,335.98 403.25,335.15 403.50,334.30 403.75,333.43 404.00,332.54 404.25,331.63 404.50,330.71 404.75,329.76 405.00,328.80 405.25,327.81 405.50,326.81 405.75,325.78 406.00,324.74 406.25,323.67 406.50,322.59 406.75,321.48 407.00,320.36 407.25,319.21 407.50,318.05 407.75,316.86 408.00,315.65 408.25,314.43 408.50,313.18 408.75,311.92 409.00,310.63 409.25,309.33 409.50,308.01 409.75,306.67 410.00,305.31 410.25,303.93 410.50,302.54 410.75,301.13 411.00,299.70 411.25,298.26 411.50,296.80 411.75,295.33 412.00,293.85 412.25,292.35 412.50,290.84 412.75,289.32 413.00,287.78 413.25,286.24 413.50,284.69 413.75,283.13 414.00,281.57 414.25,280.00 414.50,278.42 414.75,276.85 415.00,275.27 415.25,273.69 415.50,272.11 415.75,270.53 416.00,268.96 416.25,267.39 416.50,265.83 416.75,264.28 417.00,262.74 417.25,261.21 417.50,259.69 417.75,258.19 418.00,256.71 418.25,255.24 418.50,253.79 418.75,252.37 419.00,250.97 419.25,249.59 419.50,248.24 419.75,246.92 420.00,245.63 420.25,244.38 420.50,243.15 420.75,241.97 421.00,240.82 421.25,239.71 421.50,238.64 421.75,237.61 422.00,236.63 422.25,235.69 422.50,234.80 422.75,233.95 423.00,233.16 423.25,232.42 423.50,231.73 423.75,231.09 424.00,230.51 424.25,229.98 424.50,229.50 424.75,229.09 425.00,228.73 425.25,228.43 425.50,228.18 425.75,228.00 426.00,227.88 426.25,227.81 426.50,227.80 426.75,227.85 427.00,227.95 427.25,228.10 427.50,228.31 427.75,228.57 428.00,228.87 428.25,229.23 428.50,229.64 428.75,230.09 429.00,230.59 429.25,231.14 429.50,231.73 429.75,232.37 430.00,233.04 430.25,233.76 430.50,234.52 430.75,235.31 431.00,236.14 431.25,237.00 431.50,237.89 431.75,238.82 432.00,239.77 432.25,240.75 432.50,241.76 432.75,242.78 433.00,243.84 433.25,244.91 433.50,245.99 433.75,247.10 434.00,248.22 434.25,249.36 434.50,250.50 434.75,251.66 435.00,252.83 435.25,254.01 435.50,255.19 435.75,256.38 436.00,257.57 436.25,258.77 436.50,259.97 436.75,261.17 437.00,262.37 437.25,263.57 437.50,264.77 437.75,265.97 438.00,267.16 438.25,268.35 438.50,269.54 438.75,270.72 439.00,271.90 439.25,273.07 439.50,274.23 439.75,275.39 440.00,276.54 440.25,277.68 440.50,278.81 440.75,279.94 441.00,281.05 441.25,282.16 441.50,283.26 441.75,284.34 442.00,285.42 442.25,286.49 442.50,287.55 442.75,288.59 443.00,289.63 443.25,290.65 443.50,291.67 443.75,292.67 444.00,293.67 444.25,294.65 444.50,295.62 444.75,296.58 445.00,297.53 445.25,298.47 445.50,299.40 445.75,300.31 446.00,301.22 446.25,302.11 446.50,303.00 446.75,303.87 447.00,304.73 447.25,305.59 447.50,306.43 447.75,307.26 448.00,308.08 448.25,308.89 448.50,309.69 448.75,310.48 449.00,311.26 449.25,312.03 449.50,312.79 449.75,313.53 450.00,314.27 450.25,315.00 450.50,315.72 450.75,316.43 451.00,317.14 451.25,317.83 451.50,318.51 451.75,319.18 452.00,319.85 452.25,320.50 452.50,321.15 452.75,321.79 453.00,322.42 453.25,323.04 453.50,323.65 453.75,324.26 454.00,324.85 454.25,325.44 454.50,326.02 454.75,326.59 455.00,327.16 455.25,327.71 455.50,328.26 455.75,328.80 456.00,329.34 456.25,329.86 456.50,330.38 456.75,330.89 457.00,331.40 457.25,331.90 457.50,332.39 457.75,332.87 458.00,333.35 458.25,333.82 458.50,334.29 458.75,334.75 459.00,335.20 459.25,335.64 459.50,336.08 459.75,336.52 460.00,336.94 460.25,337.37 460.50,337.78 460.75,338.19 461.00,338.60 461.25,338.99 461.50,339.39 461.75,339.78 462.00,340.16 462.25,340.53 462.50,340.91 462.75,341.27 463.00,341.63 463.25,341.99 463.50,342.34 463.75,342.69 464.00,343.03 464.25,343.37 464.50,343.70 464.75,344.03 465.00,344.35 465.25,344.67 465.50,344.98 465.75,345.29 466.00,345.60 466.25,345.90 466.50,346.20 466.75,346.49 467.00,346.78 467.25,347.06 467.50,347.34 467.75,347.62 468.00,347.89 468.25,348.16 468.50,348.43 468.75,348.69 469.00,348.95 469.25,349.20 469.50,349.46 469.75,349.70 470.00,349.95 470.25,350.19 470.50,350.42 470.75,350.66 471.00,350.89 471.25,351.12 471.50,351.34 471.75,351.56 472.00,351.78 472.25,352.00 472.50,352.21 472.75,352.42 473.00,352.62 473.25,352.83 473.50,353.03 473.75,353.23 474.00,353.42 474.25,353.61 474.50,353.80 474.75,353.99 475.00,354.17 475.25,354.35 475.50,354.53 475.75,354.71 476.00,354.89 476.25,355.06 476.50,355.23 476.75,355.39 477.00,355.56 477.25,355.72 477.50,355.88 477.75,356.04 478.00,356.19 478.25,356.35 478.50,356.50 478.75,356.65 479.00,356.80 479.25,356.94 479.50,357.08 479.75,357.23 480.00,357.36 480.25,357.50 480.50,357.64 480.75,357.77 481.00,357.90 481.25,358.03 481.50,358.16 481.75,358.29 482.00,358.41 482.25,358.53 482.50,358.65 482.75,358.77 483.00,358.89 483.25,359.01 483.50,359.12 483.75,359.23 484.00,359.34 484.25,359.45 484.50,359.56 484.75,359.67 485.00,359.77 485.25,359.88 485.50,359.98 485.75,360.08 486.00,360.18 486.25,360.28 486.50,360.37 486.75,360.47 487.00,360.56 487.25,360.66 487.50,360.75 487.75,360.84 488.00,360.93 488.25,361.01 488.50,361.10 488.75,361.19 489.00,361.27 489.25,361.35 489.50,361.43 489.75,361.51 490.00,361.59 490.25,361.67 490.50,361.75 490.75,361.82 491.00,361.90 491.25,361.97 491.50,362.05 491.75,362.12 492.00,362.19 492.25,362.26 492.50,362.33 492.75,362.40 493.00,362.46 493.25,362.53 493.50,362.59 493.75,362.66 494.00,362.72 494.25,362.78 494.50,362.85 494.75,362.91 495.00,362.97 495.25,363.03 495.50,363.08 495.75,363.14 496.00,363.20 496.25,363.25 496.50,363.31 496.75,363.36 497.00,363.42 497.25,363.47 497.50,363.52 497.75,363.57 498.00,363.62 498.25,363.67 498.50,363.72 498.75,363.77 499.00,363.82 499.25,363.87 499.50,363.91 499.75,363.96 500.00,364.00 500.25,364.05 500.50,364.09 500.75,364.14 501.00,364.18 501.25,364.22 501.50,364.26 501.75,364.30 502.00,364.34 502.25,364.38 502.50,364.42 502.75,364.46 503.00,364.50 503.25,364.54 503.50,364.57 503.75,364.61 504.00,364.65 504.25,364.68 504.50,364.72 504.75,364.75 505.00,364.79 505.25,364.82 505.50,364.85 505.75,364.89 506.00,364.92 506.25,364.95 506.50,364.98 506.75,365.01 507.00,365.04 507.25,365.07 507.50,365.10 507.75,365.13 508.00,365.16 508.25,365.19 508.50,365.22 508.75,365.25 509.00,365.27 509.25,365.30 509.50,365.33 509.75,365.35 510.00,365.38 510.25,365.40 510.50,365.43 510.75,365.45 511.00,365.48 511.25,365.50 511.50,365.53 511.75,365.55 512.00,365.57 512.25,365.59 512.50,365.62 512.75,365.64 513.00,365.66 513.25,365.68 513.50,365.70 513.75,365.72 514.00,365.74 514.25,365.77 514.50,365.79 514.75,365.80 515.00,365.82 515.25,365.84 515.50,365.86 515.75,365.88 516.00,365.90 516.25,365.92 516.50,365.94 516.75,365.95 517.00,365.97 517.25,365.99 517.50,366.00 517.75,366.02 518.00,366.04 518.25,366.05 518.50,366.07 518.75,366.09 519.00,366.10 519.25,366.12 519.50,366.13 519.75,366.15 520.00,366.16 520.25,366.18 520.50,366.19 520.75,366.20 521.00,366.22 521.25,366.23 521.50,366.25 521.75,366.26 522.00,366.27 522.25,366.28 522.50,366.30 522.75,366.31 523.00,366.32 523.25,366.33 523.50,366.35 523.75,366.36 524.00,366.37 524.25,366.38 524.50,366.39 524.75,366.40 525.00,366.42 525.25,366.43 525.50,366.44 525.75,366.45 526.00,366.46 526.25,366.47 526.50,366.48 526.75,366.49 527.00,366.50 527.25,366.51 527.50,366.52 527.75,366.53 528.00,366.54 528.25,366.55 528.50,366.56 528.75,366.56 529.00,366.57 529.25,366.58 529.50,366.59 529.75,366.60 530.00,366.61 530.25,366.62 530.50,366.62 530.75,366.63 531.00,366.64 531.25,366.65 531.50,366.66 531.75,366.66 532.00,366.67 532.25,366.68 532.50,366.69 532.75,366.69 533.00,366.70 533.25,366.71 533.50,366.71 533.75,366.72 534.00,366.73 534.25,366.73 534.50,366.74 534.75,366.75 535.00,366.75 535.25,366.76 535.50,366.77 535.75,366.77 536.00,366.78 536.25,366.78 536.50,366.79 536.75,366.79 537.00,366.80 537.25,366.81 537.50,366.81 537.75,366.82" fill="none" stroke="#0000ff" stroke-width="1.4" stroke-linejoin="round"/>
<polyline points="331.50,367.19 331.75,367.19 332.00,367.19 332.25,367.19 332.50,367.19 332.75,367.19 333.00,367.19 333.25,367.19 333.50,367.19 333.75,367.19 334.00,367.19 334.25,367.19 334.50,367.19 334.75,367.19 335.00,367.19 335.25,367.19 335.50,367.19 335.75,367.19 336.00,367.19 336.25,367.19 336.50,367.19 336.75,367.19 337.00,367.19 337.25,367.19 337.50,367.18 337.75,367.18 338.00,367.18 338.25,367.18 338.50,367.18 338.75,367.18 339.00,367.18 339.25,367.18 339.50,367.18 339.75,367.18 340.00,367.18 340.25,367.18 340.50,367.18 340.75,367.18 341.00,367.18 341.25,367.18 341.50,367.18 341.75,367.18 342.00,367.17 342.25,367.17 342.50,367.17 342.75,367.17 343.00,367.17 343.25,367.17 343.50,367.17 343.75,367.17 344.00,367.17 344.25,367.17 344.50,367.17 344.75,367.17 345.00,367.16 345.25,367.16 345.50,367.16 345.75,367.16 346.00,367.16 346.25,367.16 346.50,367.16 346.75,367.16 347.00,367.16 347.25,367.15 347.50,367.15 347.75,367.15 348.00,367.15 348.25,367.15 348.50,367.15 348.75,367.15 349.00,367.14 349.25,367.14 349.50,367.14 349.75,367.14 350.00,367.14 350.25,367.14 350.50,367.13 350.75,367.13 351.00,367.13 351.25,367.13 351.50,367.13 351.75,367.13 352.00,367.12 352.25,367.12 352.50,367.12 352.75,367.12 353.00,367.11 353.25,367.11 353.50,367.11 353.75,367.11 354.00,367.10 354.25,367.10 354.50,367.10 354.75,367.10 355.00,367.09 355.25,367.09 355.50,367.09 355.75,367.08 356.00,367.08 356.25,367.08 356.50,367.07 356.75,367.07 357.00,367.07 357.25,367.06 357.50,367.06 357.75,367.05 358.00,367.05 358.25,367.05 358.50,367.04 358.75,367.04 359.00,367.03 359.25,367.03 359.50,367.02 359.75,367.02 360.00,367.01 360.25,367.01 360.50,367.00 360.75,367.00 361.00,366.99 361.25,366.99 361.50,366.98 361.75,366.97 362.00,366.97 362.25,366.96 362.50,366.95 362.75,366.95 363.00,366.94 363.25,366.93 363.50,366.92 363.75,366.92 364.00,366.91 364.25,366.90 364.50,366.89 364.75,366.88 365.00,366.87 365.25,366.87 365.50,366.86 365.75,366.85 366.00,366.84 366.25,366.83 366.50,366.82 366.75,366.80 367.00,366.79 367.25,366.78 367.50,366.77 367.75,366.76 368.00,366.75 368.25,366.73 368.50,366.72 368.75,366.71 369.00,366.69 369.25,366.68 369.50,366.66 369.75,366.65 370.00,366.63 370.25,366.62 370.50,366.60 370.75,366.58 371.00,366.57 371.25,366.55 371.50,366.53 371.75,366.51 372.00,366.49 372.25,366.47 372.50,366.45 372.75,366.43 373.00,366.41 373.25,366.39 373.50,366.36 373.75,366.34 374.00,366.32 374.25,366.29 374.50,366.26 374.75,366.24 375.00,366.21 375.25,366.18 375.50,366.16 375.75,366.13 376.00,366.10 376.25,366.06 376.50,366.03 376.75,366.00 377.00,365.97 377.25,365.93 377.50,365.90 377.75,365.86 378.00,365.82 378.25,365.78 378.50,365.74 378.75,365.70 379.00,365.66 379.25,365.62 379.50,365.57 379.75,365.53 380.00,365.48 380.25,365.43 380.50,365.38 380.75,365.33 381.00,365.28 381.25,365.22 381.50,365.17 381.75,365.11 382.00,365.05 382.25,364.99 382.50,364.93 382.75,364.87 383.00,364.80 383.25,364.74 383.50,364.67 383.75,364.60 384.00,364.52 384.25,364.45 384.50,364.37 384.75,364.29 385.00,364.21 385.25,364.13 385.50,364.04 385.75,363.95 386.00,363.86 386.25,363.77 386.50,363.67 386.75,363.58 387.00,363.47 387.25,363.37 387.50,363.26 387.75,363.15 388.00,363.04 388.25,362.92 388.50,362.81 388.75,362.68 389.00,362.56 389.25,362.43 389.50,362.30 389.75,362.16 390.00,362.02 390.25,361.88 390.50,361.73 390.75,361.58 391.00,361.42 391.25,361.26 391.50,361.09 391.75,360.93 392.00,360.75 392.25,360.57 392.50,360.39 392.75,360.20 393.00,360.01 393.25,359.81 393.50,359.61 393.75,359.40 394.00,359.18 394.25,358.96 394.50,358.73 394.75,358.50 395.00,358.26 395.25,358.02 395.50,357.77 395.75,357.51 396.00,357.24 396.25,356.97 396.50,356.69 396.75,356.40 397.00,356.11 397.25,355.81 397.50,355.50 397.75,355.18 398.00,354.85 398.25,354.52 398.50,354.17 398.75,353.82 399.00,353.46 399.25,353.09 399.50,352.71 399.75,352.31 400.00,351.91 400.25,351.50 400.50,351.08 400.75,350.65 401.00,350.21 401.25,349.76 401.50,349.29 401.75,348.81 402.00,348.33 402.25,347.83 402.50,347.31 402.75,346.79 403.00,346.25 403.25,345.70 403.50,345.14 403.75,344.56 404.00,343.97 404.25,343.36 404.50,342.74 404.75,342.11 405.00,341.46 405.25,340.79 405.50,340.11 405.75,339.42 406.00,338.71 406.25,337.98 406.50,337.24 406.75,336.48 407.00,335.70 407.25,334.91 407.50,334.10 407.75,333.27 408.00,332.43 408.25,331.56 408.50,330.68 408.75,329.78 409.00,328.87 409.25,327.93 409.50,326.98 409.75,326.00 410.00,325.01 410.25,324.00 410.50,322.97 410.75,321.92 411.00,320.85 411.25,319.76 411.50,318.66 411.75,317.53 412.00,316.39 412.25,315.22 412.50,314.04 412.75,312.84 413.00,311.62 413.25,310.38 413.50,309.12 413.75,307.84 414.00,306.55 414.25,305.23 414.50,303.91 414.75,302.56 415.00,301.20 415.25,299.82 415.50,298.42 415.75,297.01 416.00,295.59 416.25,294.15 416.50,292.70 416.75,291.23 417.00,289.75 417.25,288.27 417.50,286.77 417.75,285.26 418.00,283.74 418.25,282.22 418.50,280.69 418.75,279.15 419.00,277.61 419.25,276.07 419.50,274.52 419.75,272.98 420.00,271.43 420.25,269.89 420.50,268.35 420.75,266.81 421.00,265.28 421.25,263.76 421.50,262.25 421.75,260.75 422.00,259.26 422.25,257.78 422.50,256.32 422.75,254.88 423.00,253.46 423.25,252.06 423.50,250.68 423.75,249.32 424.00,248.00 424.25,246.69 424.50,245.42 424.75,244.19 425.00,242.98 425.25,241.81 425.50,240.67 425.75,239.58 426.00,238.52 426.25,237.51 426.50,236.54 426.75,235.61 427.00,234.73 427.25,233.89 427.50,233.11 427.75,232.37 428.00,231.69 428.25,231.06 428.50,230.48 428.75,229.96 429.00,229.49 429.25,229.08 429.50,228.72 429.75,228.42 430.00,228.18 430.25,228.00 430.50,227.88 430.75,227.81 431.00,227.81 431.25,227.86 431.50,227.98 431.75,228.16 432.00,228.40 432.25,228.71 432.50,229.07 432.75,229.49 433.00,229.97 433.25,230.51 433.50,231.10 433.75,231.74 434.00,232.44 434.25,233.18 434.50,233.97 434.75,234.81 435.00,235.69 435.25,236.61 435.50,237.57 435.75,238.56 436.00,239.60 436.25,240.66 436.50,241.75 436.75,242.87 437.00,244.02 437.25,245.19 437.50,246.38 437.75,247.60 438.00,248.82 438.25,250.07 438.50,251.33 438.75,252.60 439.00,253.88 439.25,255.17 439.50,256.46 439.75,257.76 440.00,259.07 440.25,260.37 440.50,261.68 440.75,262.99 441.00,264.30 441.25,265.61 441.50,266.91 441.75,268.21 442.00,269.50 442.25,270.79 442.50,272.07 442.75,273.34 443.00,274.61 443.25,275.87 443.50,277.11 443.75,278.35 444.00,279.58 444.25,280.80 444.50,282.01 444.75,283.20 445.00,284.39 445.25,285.56 445.50,286.72 445.75,287.87 446.00,289.01 446.25,290.13 446.50,291.24 446.75,292.34 447.00,293.43 447.25,294.50 447.50,295.56 447.75,296.61 448.00,297.64 448.25,298.66 448.50,299.67 448.75,300.67 449.00,301.65 449.25,302.62 449.50,303.58 449.75,304.52 450.00,305.45 450.25,306.37 450.50,307.27 450.75,308.17 451.00,309.05 451.25,309.92 451.50,310.77 451.75,311.62 452.00,312.45 452.25,313.27 452.50,314.08 452.75,314.88 453.00,315.67 453.25,316.44 453.50,317.20 453.75,317.96 454.00,318.70 454.25,319.43 454.50,320.15 454.75,320.86 455.00,321.56 455.25,322.25 455.50,322.93 455.75,323.60 456.00,324.26 456.25,324.90 456.50,325.54 456.75,326.17 457.00,326.80 457.25,327.41 457.50,328.01 457.75,328.60 458.00,329.19 458.25,329.76 458.50,330.33 458.75,330.89 459.00,331.44 459.25,331.98 459.50,332.52 459.75,333.04 460.00,333.56 460.25,334.07 460.50,334.57 460.75,335.07 461.00,335.56 461.25,336.04 461.50,336.51 461.75,336.97 462.00,337.43 462.25,337.89 462.50,338.33 462.75,338.77 463.00,339.20 463.25,339.63 463.50,340.04 463.75,340.46 464.00,340.86 464.25,341.26 464.50,341.66 464.75,342.04 465.00,342.43 465.25,342.80 465.50,343.17 465.75,343.54 466.00,343.90 466.25,344.25 466.50,344.60 466.75,344.94 467.00,345.28 467.25,345.62 467.50,345.94 467.75,346.27 468.00,346.58 468.25,346.90 468.50,347.21 468.75,347.51 469.00,347.81 469.25,348.10 469.50,348.39 469.75,348.68 470.00,348.96 470.25,349.24 470.50,349.51 470.75,349.78 471.00,350.04 471.25,350.31 471.50,350.56 471.75,350.82 472.00,351.06 472.25,351.31 472.50,351.55 472.75,351.79 473.00,352.02 473.25,352.25 473.50,352.48 473.75,352.70 474.00,352.92 474.25,353.14 474.50,353.36 474.75,353.57 475.00,353.77 475.25,353.98 475.50,354.18 475.75,354.38 476.00,354.57 476.25,354.76 476.50,354.95 476.75,355.14 477.00,355.32 477.25,355.50 477.50,355.68 477.75,355.86 478.00,356.03 478.25,356.20 478.50,356.36 478.75,356.53 479.00,356.69 479.25,356.85 479.50,357.01 479.75,357.16 480.00,357.32 480.25,357.47 480.50,357.61 480.75,357.76 481.00,357.90 481.25,358.04 481.50,358.18 481.75,358.32 482.00,358.46 482.25,358.59 482.50,358.72 482.75,358.85 483.00,358.98 483.25,359.10 483.50,359.22 483.75,359.34 484.00,359.46 484.25,359.58 484.50,359.70 484.75,359.81 485.00,359.92 485.25,360.03 485.50,360.14 485.75,360.25 486.00,360.36 486.25,360.46 486.50,360.56 486.75,360.66 487.00,360.76 487.25,360.86 487.50,360.96 487.75,361.05 488.00,361.15 488.25,361.24 488.50,361.33 488.75,361.42 489.00,361.51 489.25,361.59 489.50,361.68 489.75,361.76 490.00,361.84 490.25,361.93 490.50,362.01 490.75,362.08 491.00,362.16 491.25,362.24 491.50,362.31 491.75,362.39 492.00,362.46 492.25,362.53 492.50,362.60 492.75,362.67 493.00,362.74 493.25,362.81 493.50,362.88 493.75,362.94 494.00,363.01 494.25,363.07 494.50,363.13 494.75,363.20 495.00,363.26 495.25,363.32 495.50,363.38 495.75,363.43 496.00,363.49 496.25,363.55 496.50,363.60 496.75,363.66 497.00,363.71 497.25,363.76 497.50,363.82 497.75,363.87 498.00,363.92 498.25,363.97 498.50,364.02 498.75,364.07 499.00,364.11 499.25,364.16 499.50,364.21 499.75,364.25 500.00,364.30 500.25,364.34 500.50,364.39 500.75,364.43 501.00,364.47 501.25,364.51 501.50,364.55 501.75,364.59 502.00,364.63 502.25,364.67 502.50,364.71 502.75,364.75 503.00,364.78 503.25,364.82 503.50,364.86 503.75,364.89 504.00,364.93 504.25,364.96 504.50,365.00 504.75,365.03 505.00,365.06 505.25,365.10 505.50,365.13 505.75,365.16 506.00,365.19 506.25,365.22 506.50,365.25 506.75,365.28 507.00,365.31 507.25,365.34 507.50,365.37 507.75,365.39 508.00,365.42 508.25,365.45 508.50,365.48 508.75,365.50 509.00,365.53 509.25,365.55 509.50,365.58 509.75,365.60 510.00,365.63 510.25,365.65 510.50,365.67 510.75,365.70 511.00,365.72 511.25,365.74 511.50,365.77 511.75,365.79 512.00,365.81 512.25,365.83 512.50,365.85 512.75,365.87 513.00,365.89 513.25,365.91 513.50,365.93 513.75,365.95 514.00,365.97 514.25,365.99 514.50,366.01 514.75,366.02 515.00,366.04 515.25,366.06 515.50,366.08 515.75,366.09 516.00,366.11 516.25,366.13 516.50,366.14 516.75,366.16 517.00,366.18 517.25,366.19 517.50,366.21 517.75,366.22 518.00,366.24 518.25,366.25 518.50,366.27 518.75,366.28 519.00,366.29 519.25,366.31 519.50,366.32 519.75,366.33 520.00,366.35 520.25,366.36 520.50,366.37 520.75,366.39 521.00,366.40 521.25,366.41 521.50,366.42 521.75,366.43 522.00,366.45 522.25,366.46 522.50,366.47 522.75,366.48 523.00,366.49 523.25,366.50 523.50,366.51 523.75,366.52 524.00,366.53 524.25,366.54 524.50,366.55 524.75,366.56 525.00,366.57 525.25,366.58 525.50,366.59 525.75,366.60 526.00,366.61 526.25,366.62 526.50,366.63 526.75,366.64 527.00,366.64 527.25,366.65 527.50,366.66 527.75,366.67 528.00,366.68 528.25,366.69 528.50,366.69 528.75,366.70 529.00,366.71 529.25,366.72 529.50,366.72 529.75,366.73 530.00,366.74 530.25,366.75 530.50,366.75 530.75,366.76 531.00,366.77 531.25,366.77 531.50,366.78 531.75,366.79 532.00,366.79 532.25,366.80 532.50,366.80 532.75,366.81 533.00,366.82 533.25,366.82 533.50,366.83 533.75,366.83 534.00,366.84 534.25,366.84 534.50,366.85 534.75,366.85 535.00,366.86 535.25,366.87 535.50,366.87 535.75,366.88 536.00,366.88 536.25,366.89 536.50,366.89 536.75,366.89 537.00,366.90 537.25,366.90 537.50,366.91 537.75,366.91" fill="none" stroke="#ff00ff" stroke-width="1.4" stroke-linejoin="round"/>
<polyline points="331.50,367.18 331.75,367.18 332.00,367.18 332.25,367.18 332.50,367.18 332.75,367.18 333.00,367.18 333.25,367.18 333.50,367.18 333.75,367.18 334.00,367.18 334.25,367.18 334.50,367.18 334.75,367.18 335.00,367.18 335.25,367.18 335.50,367.18 335.75,367.18 336.00,367.18 336.25,367.18 336.50,367.17 336.75,367.17 337.00,367.17 337.25,367.17 337.50,367.17 337.75,367.17 338.00,367.17 338.25,367.17 338.50,367.17 338.75,367.17 339.00,367.17 339.25,367.17 339.50,367.17 339.75,367.17 340.00,367.16 340.25,367.16 340.50,367.16 340.75,367.16 341.00,367.16 341.25,367.16 341.50,367.16 341.75,367.16 342.00,367.16 342.25,367.16 342.50,367.15 342.75,367.15 343.00,367.15 343.25,367.15 343.50,367.15 343.75,367.15 344.00,367.15 344.25,367.15 344.50,367.14 344.75,367.14 345.00,367.14 345.25,367.14 345.50,367.14 345.75,367.14 346.00,367.14 346.25,367.13 346.50,367.13 346.75,367.13 347.00,367.13 347.25,367.13 347.50,367.13 347.75,367.12 348.00,367.12 348.25,367.12 348.50,367.12 348.75,367.12 349.00,367.11 349.25,367.11 349.50,367.11 349.75,367.11 350.00,367.10 350.25,367.10 350.50,367.10 350.75,367.10 351.00,367.09 351.25,367.09 351.50,367.09 351.75,367.09 352.00,367.08 352.25,367.08 352.50,367.08 352.75,367.07 353.00,367.07 353.25,367.07 353.50,367.07 353.75,367.06 354.00,367.06 354.25,367.06 354.50,367.05 354.75,367.05 355.00,367.04 355.25,367.04 355.50,367.04 355.75,367.03 356.00,367.03 356.25,367.02 356.50,367.02 356.75,367.01 357.00,367.01 357.25,367.01 357.50,367.00 357.75,367.00 358.00,366.99 358.25,366.99 358.50,366.98 358.75,366.97 359.00,366.97 359.25,366.96 359.50,366.96 359.75,366.95 360.00,366.95 360.25,366.94 360.50,366.93 360.75,366.93 361.00,366.92 361.25,366.91 361.50,366.91 361.75,366.90 362.00,366.89 362.25,366.88 362.50,366.87 362.75,366.87 363.00,366.86 363.25,366.85 363.50,366.84 363.75,366.83 364.00,366.82 364.25,366.81 364.50,366.80 364.75,366.79 365.00,366.78 365.25,366.77 365.50,366.76 365.75,366.75 366.00,366.74 366.25,366.73 366.50,366.72 366.75,366.71 367.00,366.69 367.25,366.68 367.50,366.67 367.75,366.66 368.00,366.64 368.25,366.63 368.50,366.61 368.75,366.60 369.00,366.59 369.25,366.57 369.50,366.55 369.75,366.54 370.00,366.52 370.25,366.51 370.50,366.49 370.75,366.47 371.00,366.45 371.25,366.43 371.50,366.41 371.75,366.40 372.00,366.38 372.25,366.35 372.50,366.33 372.75,366.31 373.00,366.29 373.25,366.27 373.50,366.24 373.75,366.22 374.00,366.20 374.25,366.17 374.50,366.15 374.75,366.12 375.00,366.09 375.25,366.07 375.50,366.04 375.75,366.01 376.00,365.98 376.25,365.95 376.50,365.92 376.75,365.89 377.00,365.85 377.25,365.82 377.50,365.79 377.75,365.75 378.00,365.72 378.25,365.68 378.50,365.64 378.75,365.60 379.00,365.56 379.25,365.52 379.50,365.48 379.75,365.44 380.00,365.39 380.25,365.35 380.50,365.30 380.75,365.26 381.00,365.21 381.25,365.16 381.50,365.11 381.75,365.06 382.00,365.00 382.25,364.95 382.50,364.89 382.75,364.84 383.00,364.78 383.25,364.72 383.50,364.66 383.75,364.59 384.00,364.53 384.25,364.46 384.50,364.39 384.75,364.32 385.00,364.25 385.25,364.18 385.50,364.10 385.75,364.03 386.00,363.95 386.25,363.87 386.50,363.79 386.75,363.70 387.00,363.61 387.25,363.53 387.50,363.43 387.75,363.34 388.00,363.25 388.25,363.15 388.50,363.05 388.75,362.94 389.00,362.84 389.25,362.73 389.50,362.62 389.75,362.51 390.00,362.39 390.25,362.27 390.50,362.15 390.75,362.02 391.00,361.90 391.25,361.76 391.50,361.63 391.75,361.49 392.00,361.35 392.25,361.21 392.50,361.06 392.75,360.91 393.00,360.75 393.25,360.59 393.50,360.43 393.75,360.26 394.00,360.09 394.25,359.91 394.50,359.73 394.75,359.55 395.00,359.36 395.25,359.16 395.50,358.96 395.75,358.76 396.00,358.55 396.25,358.34 396.50,358.12 396.75,357.90 397.00,357.67 397.25,357.43 397.50,357.19 397.75,356.94 398.00,356.69 398.25,356.43 398.50,356.16 398.75,355.89 399.00,355.61 399.25,355.33 399.50,355.04 399.75,354.74 400.00,354.43 400.25,354.11 400.50,353.79 400.75,353.46 401.00,353.12 401.25,352.78 401.50,352.42 401.75,352.06 402.00,351.69 402.25,351.31 402.50,350.92 402.75,350.52 403.00,350.11 403.25,349.69 403.50,349.26 403.75,348.83 404.00,348.38 404.25,347.92 404.50,347.45 404.75,346.96 405.00,346.47 405.25,345.96 405.50,345.45 405.75,344.92 406.00,344.38 406.25,343.82 406.50,343.26 406.75,342.67 407.00,342.08 407.25,341.47 407.50,340.85 407.75,340.22 408.00,339.57 408.25,338.90 408.50,338.22 408.75,337.52 409.00,336.81 409.25,336.09 409.50,335.34 409.75,334.58 410.00,333.81 410.25,333.01 410.50,332.20 410.75,331.37 411.00,330.53 411.25,329.66 411.50,328.78 411.75,327.88 412.00,326.95 412.25,326.01 412.50,325.06 412.75,324.08 413.00,323.08 413.25,322.06 413.50,321.02 413.75,319.96 414.00,318.88 414.25,317.78 414.50,316.66 414.75,315.52 415.00,314.35 415.25,313.17 415.50,311.96 415.75,310.74 416.00,309.49 416.25,308.22 416.50,306.93 416.75,305.62 417.00,304.29 417.25,302.94 417.50,301.57 417.75,300.18 418.00,298.76 418.25,297.33 418.50,295.89 418.75,294.42 419.00,292.93 419.25,291.43 419.50,289.91 419.75,288.38 420.00,286.83 420.25,285.27 420.50,283.69 420.75,282.10 421.00,280.50 421.25,278.89 421.50,277.28 421.75,275.65 422.00,274.02 422.25,272.39 422.50,270.75 422.75,269.11 423.00,267.47 423.25,265.84 423.50,264.21 423.75,262.58 424.00,260.97 424.25,259.36 424.50,257.77 424.75,256.19 425.00,254.63 425.25,253.09 425.50,251.57 425.75,250.07 426.00,248.61 426.25,247.17 426.50,245.76 426.75,244.39 427.00,243.06 427.25,241.77 427.50,240.52 427.75,239.31 428.00,238.16 428.25,237.05 428.50,236.00 428.75,235.00 429.00,234.05 429.25,233.17 429.50,232.35 429.75,231.59 430.00,230.89 430.25,230.27 430.50,229.71 430.75,229.22 431.00,228.80 431.25,228.45 431.50,228.18 431.75,227.98 432.00,227.85 432.25,227.80 432.50,227.82 432.75,227.89 433.00,228.01 433.25,228.18 433.50,228.41 433.75,228.68 434.00,229.01 434.25,229.39 434.50,229.82 434.75,230.30 435.00,230.82 435.25,231.39 435.50,232.01 435.75,232.67 436.00,233.37 436.25,234.12 436.50,234.91 436.75,235.73 437.00,236.59 437.25,237.49 437.50,238.42 437.75,239.39 438.00,240.38 438.25,241.41 438.50,242.46 438.75,243.54 439.00,244.65 439.25,245.77 439.50,246.92 439.75,248.09 440.00,249.28 440.25,250.48 440.50,251.70 440.75,252.93 441.00,254.17 441.25,255.43 441.50,256.69 441.75,257.96 442.00,259.24 442.25,260.53 442.50,261.82 442.75,263.11 443.00,264.41 443.25,265.70 443.50,267.00 443.75,268.30 444.00,269.59 444.25,270.88 444.50,272.17 444.75,273.45 445.00,274.73 445.25,276.01 445.50,277.27 445.75,278.53 446.00,279.78 446.25,281.03 446.50,282.26 446.75,283.49 447.00,284.71 447.25,285.91 447.50,287.11 447.75,288.30 448.00,289.47 448.25,290.63 448.50,291.79 448.75,292.93 449.00,294.06 449.25,295.17 449.50,296.28 449.75,297.37 450.00,298.45 450.25,299.51 450.50,300.57 450.75,301.61 451.00,302.64 451.25,303.65 451.50,304.65 451.75,305.64 452.00,306.62 452.25,307.58 452.50,308.53 452.75,309.47 453.00,310.39 453.25,311.30 453.50,312.20 453.75,313.09 454.00,313.96 454.25,314.82 454.50,315.67 454.75,316.51 455.00,317.33 455.25,318.14 455.50,318.94 455.75,319.73 456.00,320.51 456.25,321.27 456.50,322.03 456.75,322.77 457.00,323.50 457.25,324.22 457.50,324.92 457.75,325.62 458.00,326.31 458.25,326.98 458.50,327.64 458.75,328.30 459.00,328.94 459.25,329.58 459.50,330.20 459.75,330.81 460.00,331.42 460.25,332.01 460.50,332.60 460.75,333.17 461.00,333.74 461.25,334.29 461.50,334.84 461.75,335.38 462.00,335.91 462.25,336.43 462.50,336.95 462.75,337.45 463.00,337.95 463.25,338.44 463.50,338.92 463.75,339.39 464.00,339.86 464.25,340.31 464.50,340.76 464.75,341.20 465.00,341.64 465.25,342.07 465.50,342.49 465.75,342.90 466.00,343.31 466.25,343.71 466.50,344.10 466.75,344.49 467.00,344.87 467.25,345.25 467.50,345.61 467.75,345.98 468.00,346.33 468.25,346.68 468.50,347.03 468.75,347.37 469.00,347.70 469.25,348.03 469.50,348.35 469.75,348.66 470.00,348.98 470.25,349.28 470.50,349.58 470.75,349.88 471.00,350.17 471.25,350.46 471.50,350.74 471.75,351.01 472.00,351.29 472.25,351.55 472.50,351.82 472.75,352.08 473.00,352.33 473.25,352.58 473.50,352.83 473.75,353.07 474.00,353.31 474.25,353.54 474.50,353.77 474.75,353.99 475.00,354.22 475.25,354.43 475.50,354.65 475.75,354.86 476.00,355.07 476.25,355.27 476.50,355.47 476.75,355.67 477.00,355.86 477.25,356.06 477.50,356.24 477.75,356.43 478.00,356.61 478.25,356.79 478.50,356.96 478.75,357.13 479.00,357.30 479.25,357.47 479.50,357.63 479.75,357.79 480.00,357.95 480.25,358.11 480.50,358.26 480.75,358.41 481.00,358.56 481.25,358.71 481.50,358.85 481.75,358.99 482.00,359.13 482.25,359.26 482.50,359.40 482.75,359.53 483.00,359.66 483.25,359.78 483.50,359.91 483.75,360.03 484.00,360.15 484.25,360.27 484.50,360.39 484.75,360.50 485.00,360.61 485.25,360.73 485.50,360.83 485.75,360.94 486.00,361.05 486.25,361.15 486.50,361.25 486.75,361.35 487.00,361.45 487.25,361.55 487.50,361.64 487.75,361.74 488.00,361.83 488.25,361.92 488.50,362.01 488.75,362.10 489.00,362.18 489.25,362.27 489.50,362.35 489.75,362.43 490.00,362.51 490.25,362.59 490.50,362.67 490.75,362.74 491.00,362.82 491.25,362.89 491.50,362.96 491.75,363.04 492.00,363.11 492.25,363.18 492.50,363.24 492.75,363.31 493.00,363.38 493.25,363.44 493.50,363.50 493.75,363.57 494.00,363.63 494.25,363.69 494.50,363.75 494.75,363.80 495.00,363.86 495.25,363.92 495.50,363.97 495.75,364.03 496.00,364.08 496.25,364.13 496.50,364.18 496.75,364.24 497.00,364.29 497.25,364.33 497.50,364.38 497.75,364.43 498.00,364.48 498.25,364.52 498.50,364.57 498.75,364.61 499.00,364.66 499.25,364.70 499.50,364.74 499.75,364.78 500.00,364.82 500.25,364.86 500.50,364.90 500.75,364.94 501.00,364.98 501.25,365.02 501.50,365.05 501.75,365.09 502.00,365.12 502.25,365.16 502.50,365.19 502.75,365.23 503.00,365.26 503.25,365.29 503.50,365.33 503.75,365.36 504.00,365.39 504.25,365.42 504.50,365.45 504.75,365.48 505.00,365.51 505.25,365.54 505.50,365.56 505.75,365.59 506.00,365.62 506.25,365.64 506.50,365.67 506.75,365.70 507.00,365.72 507.25,365.75 507.50,365.77 507.75,365.80 508.00,365.82 508.25,365.84 508.50,365.87 508.75,365.89 509.00,365.91 509.25,365.93 509.50,365.95 509.75,365.97 510.00,365.99 510.25,366.01 510.50,366.03 510.75,366.05 511.00,366.07 511.25,366.09 511.50,366.11 511.75,366.13 512.00,366.15 512.25,366.17 512.50,366.18 512.75,366.20 513.00,366.22 513.25,366.23 513.50,366.25 513.75,366.27 514.00,366.28 514.25,366.30 514.50,366.31 514.75,366.33 515.00,366.34 515.25,366.36 515.50,366.37 515.75,366.38 516.00,366.40 516.25,366.41 516.50,366.42 516.75,366.44 517.00,366.45 517.25,366.46 517.50,366.48 517.75,366.49 518.00,366.50 518.25,366.51 518.50,366.52 518.75,366.53 519.00,366.55 519.25,366.56 519.50,366.57 519.75,366.58 520.00,366.59 520.25,366.60 520.50,366.61 520.75,366.62 521.00,366.63 521.25,366.64 521.50,366.65 521.75,366.66 522.00,366.67 522.25,366.68 522.50,366.68 522.75,366.69 523.00,366.70 523.25,366.71 523.50,366.72 523.75,366.73 524.00,366.73 524.25,366.74 524.50,366.75 524.75,366.76 525.00,366.76 525.25,366.77 525.50,366.78 525.75,366.79 526.00,366.79 526.25,366.80 526.50,366.81 526.75,366.81 527.00,366.82 527.25,366.83 527.50,366.83 527.75,366.84 528.00,366.84 528.25,366.85 528.50,366.86 528.75,366.86 529.00,366.87 529.25,366.87 529.50,366.88 529.75,366.88 530.00,366.89 530.25,366.90 530.50,366.90 530.75,366.91 531.00,366.91 531.25,366.92 531.50,366.92 531.75,366.92 532.00,366.93 532.25,366.93 532.50,366.94 532.75,366.94 533.00,366.95 533.25,366.95 533.50,366.96 533.75,366.96 534.00,366.96 534.25,366.97 534.50,366.97 534.75,366.98 535.00,366.98 535.25,366.98 535.50,366.99 535.75,366.99 536.00,366.99 536.25,367.00 536.50,367.00 536.75,367.00 537.00,367.01 537.25,367.01 537.50,367.01 537.75,367.02" fill="none" stroke="#008000" stroke-width="1.4" stroke-linejoin="round"/>
<text x="487.20" y="225.90" font-size="8.7" style="stroke-width:0.12px"><tspan font-style="italic">m</tspan>-FPEABr</text>
<line x1="487.2" y1="232.6" x2="506.2" y2="232.6" stroke="#000000" stroke-width="1.6"/>
<text x="508.60" y="235.80" font-size="9" text-anchor="start" style="stroke-width:0.25px">90 <tspan font-size="8">°</tspan><tspan dx="-1.6" fill="#555" stroke="none">C</tspan></text>
<line x1="487.2" y1="243.4" x2="506.2" y2="243.4" stroke="#ff0000" stroke-width="1.6"/>
<text x="508.60" y="246.60" font-size="9" text-anchor="start" style="stroke-width:0.25px">110 <tspan font-size="8">°</tspan><tspan dx="-1.6" fill="#555" stroke="none">C</tspan></text>
<line x1="487.2" y1="254" x2="506.2" y2="254" stroke="#0000ff" stroke-width="1.6"/>
<text x="508.60" y="257.20" font-size="9" text-anchor="start" style="stroke-width:0.25px">120 <tspan font-size="8">°</tspan><tspan dx="-1.6" fill="#555" stroke="none">C</tspan></text>
<line x1="487.2" y1="264.6" x2="506.2" y2="264.6" stroke="#ff00ff" stroke-width="1.6"/>
<text x="508.60" y="267.80" font-size="9" text-anchor="start" style="stroke-width:0.25px">130 <tspan font-size="8">°</tspan><tspan dx="-1.6" fill="#555" stroke="none">C</tspan></text>
<line x1="487.2" y1="275.2" x2="506.2" y2="275.2" stroke="#008000" stroke-width="1.6"/>
<text x="508.60" y="278.40" font-size="9" text-anchor="start" style="stroke-width:0.25px">140 <tspan font-size="8">°</tspan><tspan dx="-1.6" fill="#555" stroke="none">C</tspan></text>
</svg>
</body></html>
